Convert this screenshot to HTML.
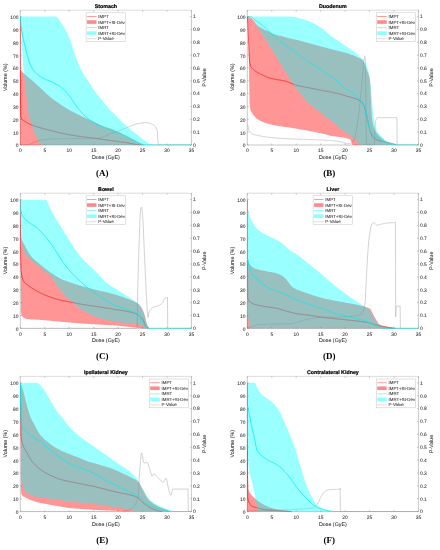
<!DOCTYPE html>
<html><head><meta charset="utf-8"><title>DVH comparison</title>
<style>html,body{margin:0;padding:0;background:#fff;}svg{display:block;}</style></head>
<body><svg width="440" height="550" viewBox="0 0 440 550" text-rendering="geometricPrecision">
<rect width="440" height="550" fill="#fff"/>
<path d="M20.30 10.20H191.45" stroke="#c6c6c6" stroke-width="0.6" fill="none"/><path d="M20.30 10.20V145.00H191.45V10.20" stroke="#a4a4a4" stroke-width="0.6" fill="none"/>
<path d="M20.30 145.00v-1.5M20.30 10.20v1.5M44.75 145.00v-1.5M44.75 10.20v1.5M69.20 145.00v-1.5M69.20 10.20v1.5M93.65 145.00v-1.5M93.65 10.20v1.5M118.10 145.00v-1.5M118.10 10.20v1.5M142.55 145.00v-1.5M142.55 10.20v1.5M167.00 145.00v-1.5M167.00 10.20v1.5M191.45 145.00v-1.5M191.45 10.20v1.5M20.30 145.00h1.5M191.45 145.00h-1.5M20.30 132.16h1.5M191.45 132.16h-1.5M20.30 119.32h1.5M191.45 119.32h-1.5M20.30 106.49h1.5M191.45 106.49h-1.5M20.30 93.65h1.5M191.45 93.65h-1.5M20.30 80.81h1.5M191.45 80.81h-1.5M20.30 67.97h1.5M191.45 67.97h-1.5M20.30 55.13h1.5M191.45 55.13h-1.5M20.30 42.30h1.5M191.45 42.30h-1.5M20.30 29.46h1.5M191.45 29.46h-1.5M20.30 16.62h1.5M191.45 16.62h-1.5" stroke="#909090" stroke-width="0.5" fill="none"/>
<clipPath id="c00"><rect x="19.95" y="9.85" width="171.85" height="135.50"/></clipPath>
<g clip-path="url(#c00)">
<polyline points="20.30,145.00 20.86,145.00 21.43,145.00 21.99,145.00 22.56,145.00 23.12,145.00 23.69,145.00 24.25,145.00 24.81,145.00 25.38,145.00 25.94,145.00 26.51,145.00 27.07,145.00 27.63,145.00 28.21,144.94 28.78,144.77 29.35,144.52 29.92,144.25 30.49,143.96 31.06,143.72 31.64,143.48 32.21,143.24 32.79,142.99 33.37,142.73 33.95,142.48 34.53,142.23 35.10,141.98 35.68,141.75 36.26,141.53 36.84,141.33 37.41,141.15 38.01,140.98 38.60,140.81 39.20,140.65 39.79,140.49 40.38,140.33 40.98,140.18 41.57,140.04 42.17,139.91 42.76,139.78 43.35,139.67 43.95,139.57 44.54,139.48 45.13,139.41 45.73,139.35 46.32,139.30 46.92,139.26 47.51,139.21 48.10,139.17 48.70,139.12 49.29,139.08 49.88,139.04 50.48,139.00 51.07,138.96 51.67,138.92 52.26,138.89 52.85,138.86 53.45,138.83 54.04,138.80 54.63,138.77 55.23,138.74 55.82,138.72 56.42,138.69 57.01,138.67 57.60,138.65 58.20,138.64 58.79,138.62 59.39,138.61 59.98,138.60 60.57,138.59 61.17,138.59 61.76,138.58 62.35,138.58 62.96,138.58 63.57,138.58 64.17,138.58 64.78,138.58 65.39,138.58 65.99,138.58 66.60,138.58 67.21,138.58 67.81,138.58 68.42,138.58 69.03,138.58 69.63,138.58 70.24,138.58 70.85,138.58 71.45,138.58 72.06,138.58 72.67,138.58 73.28,138.58 73.88,138.58 74.49,138.58 75.10,138.58 75.70,138.58 76.31,138.58 76.92,138.58 77.52,138.58 78.13,138.58 78.74,138.58 79.34,138.58 79.95,138.58 80.56,138.58 81.16,138.58 81.77,138.58 82.38,138.58 82.98,138.58 83.59,138.58 84.20,138.58 84.80,138.58 85.41,138.58 86.02,138.58 86.62,138.58 87.23,138.58 87.84,138.58 88.44,138.58 89.05,138.58 89.66,138.58 90.26,138.58 90.87,138.58 91.48,138.58 92.08,138.58 92.69,138.58 93.30,138.58 93.90,138.58 94.51,138.58 95.12,138.58 95.71,138.57 96.30,138.53 96.89,138.47 97.48,138.39 98.07,138.29 98.66,138.17 99.25,138.03 99.84,137.88 100.43,137.71 101.02,137.52 101.61,137.33 102.20,137.12 102.79,136.90 103.38,136.67 103.97,136.44 104.56,136.20 105.15,135.95 105.74,135.70 106.33,135.45 106.92,135.19 107.51,134.94 108.10,134.69 108.69,134.44 109.28,134.19 109.87,133.95 110.46,133.71 111.05,133.49 111.64,133.27 112.23,133.06 112.83,132.86 113.42,132.65 114.02,132.44 114.61,132.23 115.21,132.01 115.80,131.80 116.40,131.58 116.99,131.37 117.59,131.15 118.19,130.93 118.78,130.71 119.38,130.49 119.97,130.27 120.57,130.05 121.16,129.83 121.76,129.60 122.35,129.38 122.95,129.16 123.54,128.94 124.14,128.72 124.73,128.49 125.33,128.27 125.92,128.05 126.51,127.83 127.10,127.60 127.68,127.36 128.27,127.11 128.86,126.86 129.44,126.61 130.03,126.35 130.62,126.10 131.21,125.84 131.79,125.59 132.38,125.35 132.97,125.11 133.55,124.89 134.14,124.67 134.73,124.47 135.31,124.28 135.90,124.10 136.49,123.94 137.07,123.81 137.66,123.69 138.25,123.58 138.85,123.47 139.44,123.37 140.04,123.27 140.63,123.17 141.22,123.07 141.82,122.99 142.41,122.91 143.00,122.84 143.60,122.78 144.19,122.73 144.79,122.69 145.38,122.67 145.97,122.66 146.54,122.68 147.11,122.73 147.68,122.81 148.25,122.91 148.83,123.05 149.40,123.21 149.97,123.39 150.54,123.59 151.11,123.81 151.68,124.06 152.25,124.31 152.82,124.59 153.37,124.87 153.92,125.21 154.47,125.64 155.02,126.21 155.57,126.95 156.12,127.91 156.67,129.12 157.22,130.62 157.71,137.48 158.20,144.23 158.69,145.00 159.29,145.00 159.90,145.00 160.51,145.00 161.11,145.00 161.72,145.00 162.33,145.00 162.93,145.00 163.54,145.00 164.15,145.00 164.75,145.00 165.36,145.00 165.97,145.00 166.57,145.00 167.18,145.00 167.79,145.00 168.39,145.00 169.00,145.00 169.61,145.00 170.21,145.00 170.82,145.00 171.43,145.00 172.03,145.00 172.64,145.00 173.25,145.00 173.86,145.00 174.46,145.00 175.07,145.00 175.68,145.00 176.28,145.00 176.89,145.00 177.50,145.00 178.10,145.00 178.71,145.00 179.32,145.00 179.92,145.00 180.53,145.00 181.14,145.00 181.74,145.00 182.35,145.00 182.96,145.00 183.56,145.00 184.17,145.00 184.78,145.00 185.38,145.00 185.99,145.00 186.60,145.00 187.20,145.00 187.81,145.00 188.42,145.00 189.02,145.00 189.63,145.00 190.24,145.00 190.84,145.00 191.45,145.00" fill="none" stroke="#b4b4b4" stroke-width="0.6" stroke-opacity="1" stroke-linejoin="round"/>
<polyline points="20.30,16.62 20.45,93.65 20.89,116.76 21.42,118.12 21.96,119.12 22.50,119.82 23.04,120.30 23.58,120.64 24.11,120.90 24.65,121.17 25.19,121.51 25.79,121.93 26.39,122.33 26.98,122.70 27.58,123.04 28.18,123.35 28.78,123.65 29.37,123.93 29.97,124.20 30.57,124.46 31.17,124.71 31.78,124.95 32.39,125.19 32.99,125.41 33.60,125.63 34.20,125.84 34.81,126.05 35.41,126.25 36.02,126.45 36.62,126.64 37.23,126.83 37.83,127.01 38.44,127.19 39.05,127.37 39.65,127.54 40.26,127.71 40.86,127.88 41.47,128.06 42.07,128.23 42.68,128.40 43.28,128.57 43.89,128.74 44.49,128.91 45.10,129.07 45.70,129.23 46.31,129.39 46.92,129.55 47.52,129.71 48.13,129.87 48.73,130.02 49.34,130.17 49.94,130.32 50.55,130.47 51.15,130.62 51.76,130.77 52.36,130.91 52.97,131.06 53.58,131.20 54.18,131.35 54.79,131.49 55.39,131.63 56.00,131.78 56.60,131.92 57.21,132.06 57.81,132.21 58.42,132.35 59.02,132.49 59.63,132.64 60.23,132.78 60.84,132.92 61.45,133.06 62.05,133.20 62.66,133.34 63.26,133.47 63.87,133.61 64.47,133.74 65.08,133.87 65.68,134.00 66.29,134.12 66.89,134.25 67.50,134.37 68.11,134.49 68.71,134.60 69.32,134.71 69.92,134.82 70.53,134.93 71.13,135.04 71.74,135.15 72.34,135.25 72.95,135.35 73.55,135.46 74.16,135.56 74.77,135.66 75.37,135.75 75.98,135.85 76.58,135.94 77.19,136.04 77.79,136.13 78.40,136.22 79.00,136.31 79.61,136.40 80.21,136.48 80.82,136.57 81.42,136.66 82.02,136.74 82.62,136.82 83.21,136.89 83.81,136.97 84.40,137.04 85.00,137.12 85.59,137.19 86.19,137.26 86.78,137.33 87.38,137.40 87.97,137.47 88.57,137.54 89.16,137.61 89.76,137.68 90.35,137.74 90.95,137.81 91.55,137.88 92.14,137.95 92.74,138.03 93.33,138.10 93.93,138.17 94.52,138.25 95.12,138.32 95.71,138.40 96.30,138.48 96.89,138.56 97.48,138.64 98.07,138.72 98.66,138.80 99.25,138.89 99.84,138.97 100.43,139.05 101.02,139.14 101.61,139.22 102.20,139.31 102.79,139.39 103.38,139.48 103.97,139.57 104.56,139.65 105.15,139.74 105.74,139.83 106.33,139.91 106.92,140.00 107.51,140.08 108.10,140.17 108.69,140.26 109.28,140.34 109.87,140.43 110.46,140.51 111.05,140.60 111.64,140.68 112.23,140.76 112.83,140.85 113.42,140.93 114.01,141.01 114.61,141.09 115.20,141.17 115.79,141.25 116.39,141.33 116.98,141.41 117.58,141.49 118.17,141.57 118.76,141.65 119.36,141.73 119.95,141.81 120.54,141.89 121.14,141.97 121.73,142.05 122.33,142.13 122.92,142.21 123.51,142.29 124.11,142.37 124.70,142.46 125.30,142.54 125.89,142.63 126.48,142.71 127.08,142.80 127.67,142.89 128.26,142.98 128.86,143.07 129.44,143.17 130.03,143.27 130.62,143.38 131.21,143.49 131.79,143.61 132.38,143.73 132.97,143.84 133.55,143.96 134.14,144.07 134.73,144.18 135.31,144.28 135.90,144.38 136.49,144.47 137.07,144.55 137.66,144.61 138.20,144.67 138.75,144.72 139.29,144.77 139.83,144.82 140.38,144.87 140.92,144.91 141.46,144.94 142.01,144.97 142.55,145.00" fill="none" stroke="#f5404f" stroke-width="0.85" stroke-opacity="1" stroke-linejoin="round"/>
<polygon points="19.86,69.90 20.30,69.90 20.90,70.49 21.50,71.08 22.09,71.66 22.69,72.24 23.29,72.81 23.89,73.38 24.48,73.94 25.08,74.49 25.68,75.03 26.27,75.56 26.87,76.08 27.46,76.59 28.05,77.10 28.65,77.59 29.24,78.09 29.84,78.58 30.43,79.07 31.02,79.56 31.62,80.06 32.21,80.56 32.80,81.06 33.40,81.57 33.99,82.09 34.59,82.62 35.18,83.16 35.77,83.70 36.37,84.25 36.96,84.80 37.55,85.35 38.15,85.91 38.74,86.46 39.34,87.02 39.93,87.58 40.52,88.14 41.12,88.69 41.71,89.25 42.30,89.80 42.90,90.35 43.49,90.90 44.08,91.46 44.67,92.03 45.26,92.59 45.85,93.15 46.44,93.71 47.03,94.26 47.62,94.81 48.21,95.34 48.80,95.86 49.39,96.37 49.98,96.86 50.55,97.31 51.12,97.76 51.69,98.19 52.26,98.62 52.83,99.04 53.40,99.45 53.97,99.86 54.54,100.26 55.11,100.66 55.68,101.06 56.24,101.45 56.81,101.85 57.38,102.24 57.95,102.63 58.53,103.04 59.11,103.44 59.68,103.84 60.26,104.24 60.83,104.64 61.41,105.03 61.99,105.43 62.56,105.82 63.14,106.20 63.72,106.58 64.29,106.95 64.87,107.32 65.45,107.68 66.02,108.03 66.62,108.38 67.22,108.73 67.82,109.08 68.42,109.42 69.02,109.76 69.62,110.09 70.21,110.42 70.81,110.74 71.41,111.06 72.01,111.38 72.61,111.69 73.21,112.01 73.81,112.32 74.41,112.62 75.01,112.93 75.61,113.23 76.20,113.54 76.80,113.84 77.40,114.14 78.00,114.45 78.60,114.74 79.19,115.04 79.78,115.33 80.38,115.62 80.97,115.91 81.56,116.20 82.16,116.48 82.75,116.76 83.35,117.04 83.94,117.32 84.53,117.60 85.13,117.88 85.72,118.15 86.31,118.43 86.92,118.70 87.52,118.97 88.12,119.24 88.72,119.50 89.32,119.77 89.93,120.03 90.53,120.29 91.13,120.56 91.73,120.82 92.33,121.08 92.94,121.35 93.54,121.62 94.14,121.89 94.72,122.16 95.30,122.43 95.88,122.71 96.46,123.00 97.04,123.29 97.62,123.57 98.20,123.86 98.78,124.15 99.37,124.43 99.95,124.72 100.53,124.99 101.11,125.26 101.69,125.53 102.27,125.78 102.85,126.02 103.43,126.26 104.02,126.48 104.60,126.69 105.19,126.90 105.78,127.09 106.36,127.28 106.95,127.47 107.54,127.66 108.12,127.84 108.71,128.02 109.30,128.21 109.88,128.39 110.47,128.59 111.06,128.79 111.65,128.99 112.23,129.21 112.83,129.44 113.42,129.67 114.01,129.91 114.61,130.15 115.20,130.39 115.79,130.64 116.39,130.90 116.98,131.16 117.58,131.42 118.17,131.69 118.76,131.96 119.36,132.24 119.95,132.52 120.54,132.80 121.14,133.09 121.73,133.40 122.33,133.71 122.92,134.02 123.51,134.35 124.11,134.68 124.70,135.01 125.30,135.34 125.89,135.67 126.48,136.01 127.08,136.34 127.67,136.66 128.26,136.98 128.86,137.30 129.43,137.59 130.00,137.89 130.57,138.18 131.14,138.46 131.71,138.75 132.28,139.04 132.85,139.32 133.42,139.61 133.99,139.89 134.56,140.18 135.13,140.47 135.70,140.76 136.27,141.07 136.84,141.39 137.42,141.71 137.99,142.05 138.56,142.39 139.13,142.72 139.70,143.04 140.27,143.35 140.84,143.64 141.41,143.91 141.98,144.15 142.55,144.36 143.04,144.53 143.53,144.70 144.02,144.85 144.51,144.96 145.00,145.00 145.60,145.00 146.20,145.00 146.80,145.00 147.41,145.00 148.01,145.00 148.61,145.00 149.22,145.00 149.82,145.00 150.42,145.00 151.03,145.00 151.63,145.00 152.23,145.00 152.84,145.00 153.44,145.00 154.04,145.00 154.65,145.00 155.25,145.00 155.85,145.00 156.46,145.00 157.06,145.00 157.66,145.00 158.27,145.00 158.87,145.00 159.47,145.00 160.08,145.00 160.68,145.00 161.28,145.00 161.89,145.00 162.49,145.00 163.09,145.00 163.70,145.00 164.30,145.00 164.90,145.00 165.51,145.00 166.11,145.00 166.71,145.00 167.32,145.00 167.92,145.00 168.52,145.00 169.13,145.00 169.73,145.00 170.33,145.00 170.94,145.00 171.54,145.00 172.14,145.00 172.75,145.00 173.35,145.00 173.95,145.00 174.56,145.00 175.16,145.00 175.76,145.00 176.37,145.00 176.97,145.00 177.57,145.00 178.18,145.00 178.78,145.00 179.38,145.00 179.99,145.00 180.59,145.00 181.19,145.00 181.80,145.00 182.40,145.00 183.00,145.00 183.61,145.00 184.21,145.00 184.81,145.00 185.42,145.00 186.02,145.00 186.62,145.00 187.23,145.00 187.83,145.00 188.43,145.00 189.04,145.00 189.64,145.00 190.24,145.00 190.85,145.00 191.45,145.00 191.45,145.00 20.30,145.00 19.86,145.00" fill="#ff0000" fill-opacity="0.416"/>
<polyline points="20.30,16.62 20.79,22.20 21.28,27.18 21.77,31.13 22.30,34.34 22.82,37.04 23.35,39.40 23.88,41.60 24.41,43.84 24.95,46.17 25.48,48.44 26.02,50.65 26.56,52.77 27.10,54.78 27.63,56.67 28.22,58.67 28.81,60.62 29.40,62.44 29.98,64.06 30.57,65.40 31.17,66.56 31.76,67.63 32.36,68.61 32.96,69.53 33.56,70.37 34.16,71.14 34.75,71.86 35.35,72.51 35.95,73.11 36.51,73.63 37.08,74.13 37.64,74.60 38.20,75.04 38.77,75.46 39.33,75.86 39.90,76.24 40.46,76.61 41.03,76.95 41.59,77.29 42.15,77.62 42.72,77.93 43.28,78.24 43.88,78.56 44.49,78.86 45.09,79.14 45.69,79.41 46.29,79.66 46.89,79.91 47.50,80.16 48.10,80.40 48.70,80.65 49.30,80.90 49.90,81.16 50.51,81.43 51.11,81.71 51.67,81.98 52.24,82.25 52.80,82.52 53.36,82.79 53.93,83.07 54.49,83.35 55.06,83.64 55.62,83.93 56.19,84.24 56.75,84.55 57.31,84.87 57.88,85.21 58.44,85.56 59.02,85.93 59.60,86.32 60.18,86.73 60.75,87.15 61.33,87.58 61.91,88.04 62.49,88.51 63.07,88.99 63.64,89.50 64.22,90.02 64.80,90.57 65.38,91.14 65.95,91.75 66.53,92.39 67.11,93.06 67.69,93.76 68.27,94.48 68.84,95.22 69.42,95.97 70.00,96.73 70.58,97.50 71.16,98.27 71.73,99.05 72.30,99.88 72.87,100.73 73.44,101.61 74.01,102.51 74.58,103.41 75.15,104.30 75.72,105.19 76.29,106.05 76.86,106.88 77.43,107.67 78.00,108.41 78.59,109.14 79.18,109.85 79.76,110.54 80.35,111.21 80.94,111.86 81.52,112.50 82.11,113.11 82.70,113.70 83.28,114.28 83.87,114.83 84.47,115.38 85.07,115.92 85.66,116.45 86.26,116.98 86.86,117.50 87.46,118.01 88.05,118.50 88.65,118.99 89.25,119.47 89.85,119.94 90.44,120.39 91.04,120.83 91.64,121.26 92.24,121.67 92.83,122.07 93.43,122.45 94.03,122.82 94.63,123.18 95.23,123.51 95.82,123.82 96.42,124.12 97.02,124.40 97.62,124.68 98.21,124.95 98.81,125.21 99.41,125.48 100.01,125.74 100.59,126.00 101.17,126.26 101.75,126.52 102.34,126.77 102.92,127.03 103.50,127.28 104.08,127.52 104.66,127.77 105.25,128.02 105.83,128.26 106.41,128.50 106.99,128.74 107.57,128.98 108.16,129.22 108.74,129.46 109.32,129.70 109.90,129.94 110.49,130.17 111.07,130.41 111.65,130.64 112.23,130.88 112.83,131.12 113.43,131.35 114.03,131.58 114.63,131.81 115.23,132.04 115.83,132.26 116.43,132.48 117.03,132.70 117.63,132.92 118.23,133.14 118.83,133.36 119.43,133.58 120.03,133.80 120.63,134.03 121.23,134.26 121.83,134.49 122.43,134.73 123.03,134.98 123.63,135.22 124.23,135.48 124.83,135.74 125.43,136.01 125.98,136.27 126.52,136.54 127.06,136.82 127.61,137.11 128.15,137.40 128.69,137.70 129.24,138.00 129.78,138.29 130.32,138.58 130.89,138.88 131.45,139.19 132.02,139.50 132.58,139.82 133.15,140.13 133.71,140.45 134.27,140.76 134.84,141.06 135.40,141.36 135.97,141.65 136.53,141.92 137.10,142.19 137.66,142.43 138.22,142.68 138.79,142.94 139.35,143.20 139.92,143.47 140.48,143.73 141.05,143.98 141.61,144.22 142.17,144.43 142.74,144.62 143.30,144.78 143.87,144.90 144.43,144.97 145.00,145.00 145.60,145.00 146.20,145.00 146.80,145.00 147.41,145.00 148.01,145.00 148.61,145.00 149.22,145.00 149.82,145.00 150.42,145.00 151.03,145.00 151.63,145.00 152.23,145.00 152.84,145.00 153.44,145.00 154.04,145.00 154.65,145.00 155.25,145.00 155.85,145.00 156.46,145.00 157.06,145.00 157.66,145.00 158.27,145.00 158.87,145.00 159.47,145.00 160.08,145.00 160.68,145.00 161.28,145.00 161.89,145.00 162.49,145.00 163.09,145.00 163.70,145.00 164.30,145.00 164.90,145.00 165.51,145.00 166.11,145.00 166.71,145.00 167.32,145.00 167.92,145.00 168.52,145.00 169.13,145.00 169.73,145.00 170.33,145.00 170.94,145.00 171.54,145.00 172.14,145.00 172.75,145.00 173.35,145.00 173.95,145.00 174.56,145.00 175.16,145.00 175.76,145.00 176.37,145.00 176.97,145.00 177.57,145.00 178.18,145.00 178.78,145.00 179.38,145.00 179.99,145.00 180.59,145.00 181.19,145.00 181.80,145.00 182.40,145.00 183.00,145.00 183.61,145.00 184.21,145.00 184.81,145.00 185.42,145.00 186.02,145.00 186.62,145.00 187.23,145.00 187.83,145.00 188.43,145.00 189.04,145.00 189.64,145.00 190.24,145.00 190.85,145.00 191.45,145.00" fill="none" stroke="#00e8e8" stroke-width="0.8" stroke-opacity="1" stroke-linejoin="round"/>
<polygon points="19.86,16.62 20.30,16.62 20.91,16.62 21.51,16.62 22.12,16.62 22.73,16.62 23.34,16.62 23.94,16.62 24.55,16.62 25.16,16.62 25.76,16.62 26.37,16.62 26.98,16.62 27.58,16.62 28.19,16.62 28.80,16.62 29.41,16.62 30.01,16.62 30.62,16.62 31.23,16.62 31.83,16.62 32.44,16.62 33.05,16.62 33.65,16.62 34.26,16.62 34.87,16.62 35.48,16.62 36.08,16.62 36.69,16.62 37.30,16.62 37.90,16.62 38.51,16.62 39.12,16.62 39.73,16.62 40.33,16.62 40.94,16.62 41.55,16.62 42.15,16.62 42.76,16.62 43.37,16.62 43.97,16.62 44.58,16.62 45.19,16.62 45.80,16.62 46.40,16.62 47.01,16.62 47.62,16.62 48.22,16.62 48.83,16.62 49.44,16.62 50.04,16.62 50.65,16.62 51.26,16.62 51.87,16.62 52.47,16.62 53.08,16.62 53.69,16.62 54.29,16.62 54.90,16.62 55.51,16.62 56.11,16.74 56.70,17.08 57.30,17.60 57.90,18.26 58.50,19.02 59.09,19.86 59.69,20.72 60.29,21.58 60.89,22.40 61.48,23.21 62.08,24.08 62.68,25.01 63.28,25.98 63.88,27.00 64.47,28.05 65.07,29.14 65.67,30.25 66.27,31.38 66.82,32.47 67.38,33.59 67.94,34.75 68.50,35.97 69.06,37.24 69.62,38.58 70.18,39.98 70.67,41.33 71.16,42.81 71.64,44.36 72.13,45.92 72.62,47.43 73.18,49.12 73.74,50.83 74.30,52.54 74.86,54.23 75.42,55.88 75.98,57.47 76.53,58.98 77.08,60.41 77.62,61.82 78.17,63.21 78.71,64.56 79.25,65.87 79.79,67.14 80.34,68.34 80.88,69.48 81.42,70.54 82.03,71.63 82.63,72.66 83.23,73.63 83.83,74.55 84.43,75.44 85.03,76.31 85.63,77.17 86.23,78.02 86.83,78.88 87.43,79.77 88.03,80.68 88.63,81.63 89.23,82.59 89.83,83.57 90.43,84.55 91.03,85.53 91.63,86.51 92.23,87.48 92.83,88.42 93.43,89.34 94.03,90.23 94.63,91.08 95.19,91.85 95.76,92.59 96.32,93.31 96.88,94.01 97.45,94.69 98.01,95.37 98.58,96.04 99.14,96.70 99.71,97.36 100.27,98.02 100.83,98.70 101.40,99.37 101.96,100.07 102.57,100.83 103.17,101.60 103.78,102.38 104.38,103.17 104.99,103.96 105.59,104.74 106.20,105.51 106.80,106.27 107.40,107.01 108.01,107.73 108.61,108.41 109.19,109.04 109.76,109.64 110.34,110.22 110.91,110.79 111.49,111.35 112.06,111.90 112.64,112.45 113.21,112.99 113.78,113.54 114.36,114.09 114.93,114.65 115.51,115.22 116.07,115.79 116.64,116.37 117.21,116.96 117.77,117.55 118.34,118.14 118.91,118.73 119.47,119.32 120.04,119.90 120.61,120.48 121.17,121.05 121.74,121.60 122.31,122.15 122.87,122.68 123.44,123.21 124.00,123.73 124.57,124.24 125.14,124.75 125.70,125.25 126.27,125.75 126.84,126.24 127.40,126.73 127.97,127.22 128.54,127.70 129.10,128.18 129.67,128.66 130.24,129.13 130.80,129.60 131.37,130.06 131.93,130.52 132.50,130.98 133.07,131.44 133.63,131.89 134.20,132.34 134.77,132.80 135.33,133.25 135.90,133.70 136.47,134.16 137.03,134.62 137.60,135.08 138.17,135.54 138.73,136.00 139.30,136.45 139.86,136.91 140.43,137.36 141.00,137.80 141.56,138.24 142.13,138.67 142.70,139.09 143.27,139.53 143.85,139.97 144.42,140.42 145.00,140.87 145.57,141.31 146.14,141.75 146.72,142.17 147.29,142.57 147.87,142.94 148.44,143.28 149.02,143.58 149.59,143.84 150.12,144.07 150.65,144.30 151.18,144.51 151.72,144.71 152.25,144.86 152.78,144.96 153.31,145.00 153.91,145.00 154.52,145.00 155.12,145.00 155.73,145.00 156.34,145.00 156.94,145.00 157.55,145.00 158.15,145.00 158.76,145.00 159.36,145.00 159.97,145.00 160.57,145.00 161.18,145.00 161.78,145.00 162.39,145.00 162.99,145.00 163.60,145.00 164.21,145.00 164.81,145.00 165.42,145.00 166.02,145.00 166.63,145.00 167.23,145.00 167.84,145.00 168.44,145.00 169.05,145.00 169.65,145.00 170.26,145.00 170.87,145.00 171.47,145.00 172.08,145.00 172.68,145.00 173.29,145.00 173.89,145.00 174.50,145.00 175.10,145.00 175.71,145.00 176.31,145.00 176.92,145.00 177.53,145.00 178.13,145.00 178.74,145.00 179.34,145.00 179.95,145.00 180.55,145.00 181.16,145.00 181.76,145.00 182.37,145.00 182.97,145.00 183.58,145.00 184.18,145.00 184.79,145.00 185.40,145.00 186.00,145.00 186.61,145.00 187.21,145.00 187.82,145.00 188.42,145.00 189.03,145.00 189.63,145.00 190.24,145.00 190.84,145.00 191.45,145.00 191.45,145.00 190.84,145.00 190.23,145.00 189.62,145.00 189.01,145.00 188.40,145.00 187.79,145.00 187.19,145.00 186.58,145.00 185.97,145.00 185.36,145.00 184.75,145.00 184.14,145.00 183.53,145.00 182.92,145.00 182.31,145.00 181.70,145.00 181.09,145.00 180.48,145.00 179.87,145.00 179.27,145.00 178.66,145.00 178.05,145.00 177.44,145.00 176.83,145.00 176.22,145.00 175.61,145.00 175.00,145.00 174.39,145.00 173.78,145.00 173.17,145.00 172.56,145.00 171.95,145.00 171.34,145.00 170.74,145.00 170.13,145.00 169.52,145.00 168.91,145.00 168.30,145.00 167.69,145.00 167.08,145.00 166.47,145.00 165.86,145.00 165.25,145.00 164.64,145.00 164.03,145.00 163.42,145.00 162.82,145.00 162.21,145.00 161.60,145.00 160.99,145.00 160.38,145.00 159.77,145.00 159.16,145.00 158.55,145.00 157.94,145.00 157.33,145.00 156.72,145.00 156.11,145.00 155.50,145.00 154.90,145.00 154.29,145.00 153.68,145.00 153.07,145.00 152.46,145.00 151.85,145.00 151.24,145.00 150.63,145.00 150.02,145.00 149.41,145.00 148.80,145.00 148.19,145.00 147.58,145.00 146.98,145.00 146.37,145.00 145.76,145.00 145.15,145.00 144.54,145.00 143.93,145.00 143.32,145.00 142.71,145.00 142.10,145.00 141.49,145.00 140.88,145.00 140.27,145.00 139.66,145.00 139.05,145.00 138.45,145.00 137.84,145.00 137.23,145.00 136.62,145.00 136.01,145.00 135.40,145.00 134.79,145.00 134.18,145.00 133.57,145.00 132.96,145.00 132.35,145.00 131.74,145.00 131.13,145.00 130.53,145.00 129.92,145.00 129.31,145.00 128.70,145.00 128.09,145.00 127.48,145.00 126.87,145.00 126.26,145.00 125.65,145.00 125.04,145.00 124.43,145.00 123.82,145.00 123.21,145.00 122.61,145.00 122.00,145.00 121.39,145.00 120.78,145.00 120.17,145.00 119.56,145.00 118.95,145.00 118.34,145.00 117.73,145.00 117.12,145.00 116.51,145.00 115.90,145.00 115.29,145.00 114.69,145.00 114.08,145.00 113.47,145.00 112.86,145.00 112.25,145.00 111.64,145.00 111.03,145.00 110.42,145.00 109.81,145.00 109.20,145.00 108.59,145.00 107.98,145.00 107.37,145.00 106.76,145.00 106.16,145.00 105.55,145.00 104.94,145.00 104.33,145.00 103.72,145.00 103.11,145.00 102.50,145.00 101.89,145.00 101.28,145.00 100.67,145.00 100.06,145.00 99.45,145.00 98.84,145.00 98.24,145.00 97.63,145.00 97.02,145.00 96.41,145.00 95.80,145.00 95.19,145.00 94.58,145.00 93.97,145.00 93.36,145.00 92.75,145.00 92.14,145.00 91.53,145.00 90.92,145.00 90.32,145.00 89.71,145.00 89.10,145.00 88.49,145.00 87.88,145.00 87.27,145.00 86.66,145.00 86.05,145.00 85.44,145.00 84.83,145.00 84.22,145.00 83.61,145.00 83.00,145.00 82.39,145.00 81.79,145.00 81.18,145.00 80.57,145.00 79.96,145.00 79.35,145.00 78.74,145.00 78.13,145.00 77.52,145.00 76.91,145.00 76.30,145.00 75.69,145.00 75.08,145.00 74.47,145.00 73.87,145.00 73.26,145.00 72.65,145.00 72.04,145.00 71.43,145.00 70.82,145.00 70.21,145.00 69.60,145.00 68.99,145.00 68.38,145.00 67.77,145.00 67.16,145.00 66.55,145.00 65.95,145.00 65.34,145.00 64.73,145.00 64.12,145.00 63.51,145.00 62.90,145.00 62.29,145.00 61.68,145.00 61.07,145.00 60.46,145.00 59.85,145.00 59.24,145.00 58.63,145.00 58.03,145.00 57.42,145.00 56.81,145.00 56.20,145.00 55.59,145.00 54.98,145.00 54.37,145.00 53.76,145.00 53.15,145.00 52.54,145.00 51.93,145.00 51.32,145.00 50.71,145.00 50.10,145.00 49.50,145.00 48.89,145.00 48.28,145.00 47.67,145.00 47.06,145.00 46.45,145.00 45.84,145.00 45.23,145.00 44.62,145.00 44.01,145.00 43.40,145.00 42.79,145.00 42.40,144.92 42.01,144.74 41.41,144.37 40.81,143.83 40.21,143.14 39.62,142.33 39.02,141.43 38.42,140.46 37.82,139.46 37.22,138.45 36.61,137.38 36.01,136.19 35.40,134.90 34.80,133.52 34.19,132.04 33.59,130.49 32.98,128.86 32.38,127.16 31.81,125.54 31.25,123.88 30.68,122.11 30.11,120.18 29.55,118.02 28.98,115.58 28.42,112.78 27.82,108.71 27.22,103.36 26.62,97.53 26.02,91.98 25.41,87.02 24.80,82.28 24.19,77.19 23.58,71.18 23.05,65.32 22.53,58.25 22.01,48.71 21.64,34.96 21.28,23.04 20.79,18.43 20.30,17.16 19.86,17.16" fill="#00ffff" fill-opacity="0.4"/>
</g>
<g font-family="'Liberation Sans', Arial, Helvetica, sans-serif" font-size="4.9" fill="#262626" stroke="#262626" stroke-width="0.04">
<text x="20.30" y="152.20" text-anchor="middle">0</text>
<text x="44.75" y="152.20" text-anchor="middle">5</text>
<text x="69.20" y="152.20" text-anchor="middle">10</text>
<text x="93.65" y="152.20" text-anchor="middle">15</text>
<text x="118.10" y="152.20" text-anchor="middle">20</text>
<text x="142.55" y="152.20" text-anchor="middle">25</text>
<text x="167.00" y="152.20" text-anchor="middle">30</text>
<text x="191.45" y="152.20" text-anchor="middle">35</text>
<text x="18.50" y="147.40" text-anchor="end">0</text>
<text x="18.50" y="134.56" text-anchor="end">10</text>
<text x="18.50" y="121.72" text-anchor="end">20</text>
<text x="18.50" y="108.89" text-anchor="end">30</text>
<text x="18.50" y="96.05" text-anchor="end">40</text>
<text x="18.50" y="83.21" text-anchor="end">50</text>
<text x="18.50" y="70.37" text-anchor="end">60</text>
<text x="18.50" y="57.53" text-anchor="end">70</text>
<text x="18.50" y="44.70" text-anchor="end">80</text>
<text x="18.50" y="31.86" text-anchor="end">90</text>
<text x="18.50" y="19.02" text-anchor="end">100</text>
<text x="192.95" y="146.80">0</text>
<text x="192.95" y="133.96">0.1</text>
<text x="192.95" y="121.12">0.2</text>
<text x="192.95" y="108.29">0.3</text>
<text x="192.95" y="95.45">0.4</text>
<text x="192.95" y="82.61">0.5</text>
<text x="192.95" y="69.77">0.6</text>
<text x="192.95" y="56.93">0.7</text>
<text x="192.95" y="44.10">0.8</text>
<text x="192.95" y="31.26">0.9</text>
<text x="192.95" y="18.42">1</text>
</g>
<text font-family="'Liberation Sans', Arial, Helvetica, sans-serif" font-size="5.3" fill="#262626" stroke="#262626" stroke-width="0.05" x="105.88" y="158.90" text-anchor="middle">Dose (GyE)</text>
<text font-family="'Liberation Sans', Arial, Helvetica, sans-serif" font-size="5.3" fill="#262626" stroke="#262626" stroke-width="0.05" text-anchor="middle" transform="translate(6.90,77.30) rotate(-90)">Volume (%)</text>
<text font-family="'Liberation Sans', Arial, Helvetica, sans-serif" font-size="5.3" fill="#262626" stroke="#262626" stroke-width="0.05" text-anchor="middle" transform="translate(206.25,77.60) rotate(-90)">P-Value</text>
<text font-family="'Liberation Sans', Arial, Helvetica, sans-serif" font-size="5.3" font-weight="bold" fill="#000" stroke="#000" stroke-width="0.2" x="105.88" y="8.00" text-anchor="middle">Stomach</text>
<text font-family="'Liberation Serif', 'Times New Roman', serif" font-size="9" font-weight="bold" fill="#000" x="102.17" y="175.90" text-anchor="middle">(A)</text>
<rect x="86.12" y="12.80" width="39.2" height="28.8" fill="#fff" stroke="#c4c4c4" stroke-width="0.5"/>
<line x1="87.03" x2="96.53" y1="16.50" y2="16.50" stroke="#ff5a5a" stroke-width="0.6"/>
<rect x="87.03" y="20.25" width="9.50" height="3.6" fill="#f00" fill-opacity="0.46599999999999997"/>
<line x1="87.03" x2="96.53" y1="27.60" y2="27.60" stroke="#40f0f0" stroke-width="0.6"/>
<rect x="87.03" y="31.35" width="9.50" height="3.6" fill="#0ff" fill-opacity="0.45"/>
<line x1="87.03" x2="96.53" y1="38.70" y2="38.70" stroke="#bbb" stroke-width="0.5"/>
<g font-family="'Liberation Sans', Arial, Helvetica, sans-serif" font-size="4.4" fill="#262626" stroke="#262626" stroke-width="0.04">
<text x="98.33" y="18.05">IMPT</text>
<text x="98.33" y="23.60">IMPT+St-Dev</text>
<text x="98.33" y="29.15">IMRT</text>
<text x="98.33" y="34.70">IMRT+St-Dev</text>
<text x="98.33" y="40.25">P-Value</text>
</g>
<path d="M247.30 10.20H418.45" stroke="#c6c6c6" stroke-width="0.6" fill="none"/><path d="M247.30 10.20V145.00H418.45V10.20" stroke="#a4a4a4" stroke-width="0.6" fill="none"/>
<path d="M247.30 145.00v-1.5M247.30 10.20v1.5M271.75 145.00v-1.5M271.75 10.20v1.5M296.20 145.00v-1.5M296.20 10.20v1.5M320.65 145.00v-1.5M320.65 10.20v1.5M345.10 145.00v-1.5M345.10 10.20v1.5M369.55 145.00v-1.5M369.55 10.20v1.5M394.00 145.00v-1.5M394.00 10.20v1.5M418.45 145.00v-1.5M418.45 10.20v1.5M247.30 145.00h1.5M418.45 145.00h-1.5M247.30 132.16h1.5M418.45 132.16h-1.5M247.30 119.32h1.5M418.45 119.32h-1.5M247.30 106.49h1.5M418.45 106.49h-1.5M247.30 93.65h1.5M418.45 93.65h-1.5M247.30 80.81h1.5M418.45 80.81h-1.5M247.30 67.97h1.5M418.45 67.97h-1.5M247.30 55.13h1.5M418.45 55.13h-1.5M247.30 42.30h1.5M418.45 42.30h-1.5M247.30 29.46h1.5M418.45 29.46h-1.5M247.30 16.62h1.5M418.45 16.62h-1.5" stroke="#909090" stroke-width="0.5" fill="none"/>
<clipPath id="c10"><rect x="246.95" y="9.85" width="171.85" height="135.50"/></clipPath>
<g clip-path="url(#c10)">
<polyline points="247.30,124.46 247.79,124.84 248.28,127.40 248.77,130.11 249.33,131.08 249.88,131.87 250.44,132.49 251.00,132.99 251.56,133.38 252.12,133.69 252.68,133.96 253.28,134.22 253.87,134.44 254.47,134.64 255.07,134.81 255.67,134.97 256.26,135.11 256.86,135.25 257.46,135.37 258.06,135.50 258.66,135.62 259.26,135.75 259.86,135.86 260.46,135.98 261.06,136.09 261.66,136.20 262.26,136.31 262.86,136.41 263.46,136.51 264.06,136.61 264.66,136.71 265.26,136.80 265.86,136.89 266.46,136.97 267.06,137.06 267.66,137.14 268.26,137.21 268.86,137.29 269.46,137.36 270.06,137.43 270.66,137.49 271.26,137.55 271.86,137.61 272.45,137.67 273.05,137.73 273.64,137.78 274.24,137.84 274.83,137.89 275.43,137.94 276.02,137.99 276.62,138.04 277.21,138.09 277.81,138.13 278.40,138.18 279.00,138.22 279.60,138.26 280.19,138.30 280.79,138.34 281.38,138.38 281.98,138.41 282.57,138.45 283.17,138.48 283.76,138.52 284.36,138.55 284.95,138.58 285.55,138.61 286.15,138.64 286.75,138.67 287.35,138.69 287.95,138.72 288.55,138.74 289.15,138.77 289.75,138.79 290.35,138.81 290.95,138.83 291.55,138.85 292.15,138.88 292.75,138.90 293.35,138.92 293.96,138.94 294.56,138.96 295.16,138.98 295.76,139.00 296.36,139.02 296.96,139.05 297.56,139.07 298.16,139.09 298.77,139.12 299.38,139.14 299.99,139.17 300.60,139.19 301.21,139.21 301.82,139.24 302.43,139.26 303.05,139.28 303.66,139.31 304.27,139.33 304.88,139.35 305.49,139.37 306.10,139.39 306.71,139.41 307.32,139.44 307.94,139.46 308.55,139.48 309.16,139.50 309.77,139.52 310.38,139.54 310.99,139.57 311.60,139.59 312.21,139.61 312.83,139.63 313.44,139.66 314.05,139.68 314.66,139.70 315.27,139.73 315.88,139.75 316.49,139.78 317.10,139.80 317.72,139.83 318.33,139.86 318.94,139.88 319.55,139.91 320.16,139.94 320.77,139.97 321.38,140.00 321.99,140.03 322.61,140.06 323.22,140.09 323.83,140.12 324.44,140.16 325.05,140.19 325.66,140.23 326.27,140.27 326.88,140.30 327.50,140.34 328.11,140.38 328.72,140.42 329.33,140.46 329.94,140.51 330.55,140.55 331.15,140.60 331.75,140.65 332.36,140.71 332.96,140.77 333.57,140.84 334.17,140.91 334.77,140.98 335.38,141.06 335.98,141.14 336.59,141.22 337.19,141.31 337.79,141.40 338.40,141.49 339.00,141.59 339.61,141.69 340.21,141.79 340.77,141.91 341.34,142.05 341.90,142.22 342.47,142.41 343.03,142.61 343.60,142.81 344.16,143.01 344.72,143.20 345.29,143.36 345.85,143.51 346.42,143.62 346.98,143.69 347.55,143.72 348.12,143.69 348.69,143.63 349.26,143.53 349.83,143.40 350.40,143.25 350.97,143.07 351.46,142.88 351.95,142.58 352.44,142.20 352.92,141.72 353.41,141.15 354.00,140.02 354.59,138.24 355.17,135.96 355.76,133.32 356.35,130.49 356.84,127.74 357.32,124.38 357.81,120.62 358.30,116.65 358.79,112.65 359.38,107.80 359.97,102.73 360.55,97.42 361.14,91.83 361.73,85.94 362.28,79.32 362.83,71.80 363.38,64.93 363.93,60.27 364.42,57.67 364.90,56.42 365.39,61.55 365.64,80.81 365.88,106.49 366.13,132.16 366.62,143.72 367.11,145.00 367.67,145.00 368.23,145.00 368.80,145.00 369.36,145.00 369.93,145.00 370.49,145.00 371.05,145.00 371.62,145.00 372.18,145.00 372.75,145.00 373.31,145.00 373.88,145.00 374.44,145.00 374.93,125.74 375.42,121.75 375.91,119.97 376.40,119.02 376.88,118.29 377.37,117.82 377.86,117.65 378.46,117.65 379.05,117.65 379.65,117.65 380.25,117.65 380.84,117.65 381.44,117.65 382.03,117.65 382.63,117.65 383.23,117.65 383.82,117.65 384.42,117.65 385.01,117.65 385.61,117.65 386.21,117.65 386.80,117.65 387.40,117.65 387.99,117.65 388.59,117.65 389.19,117.65 389.78,117.65 390.38,117.65 390.97,117.65 391.57,117.65 392.17,117.65 392.76,117.65 393.36,117.65 393.95,117.65 394.55,117.65 395.15,117.65 395.74,117.65 396.34,117.65 396.93,117.65 397.18,145.00 397.79,145.00 398.39,145.00 399.00,145.00 399.61,145.00 400.22,145.00 400.83,145.00 401.43,145.00 402.04,145.00 402.65,145.00 403.26,145.00 403.86,145.00 404.47,145.00 405.08,145.00 405.69,145.00 406.29,145.00 406.90,145.00 407.51,145.00 408.12,145.00 408.73,145.00 409.33,145.00 409.94,145.00 410.55,145.00 411.16,145.00 411.76,145.00 412.37,145.00 412.98,145.00 413.59,145.00 414.20,145.00 414.80,145.00 415.41,145.00 416.02,145.00 416.63,145.00 417.23,145.00 417.84,145.00 418.45,145.00" fill="none" stroke="#b4b4b4" stroke-width="0.6" stroke-opacity="1" stroke-linejoin="round"/>
<polyline points="247.30,16.62 247.79,24.51 248.28,34.11 248.77,44.86 249.26,57.70 249.62,61.35 249.99,63.48 250.46,65.22 250.93,66.48 251.41,67.33 251.97,68.08 252.53,68.75 253.09,69.33 253.65,69.85 254.21,70.31 254.77,70.72 255.33,71.09 255.89,71.45 256.45,71.78 257.01,72.12 257.57,72.46 258.15,72.82 258.72,73.15 259.30,73.47 259.88,73.78 260.46,74.07 261.04,74.35 261.61,74.63 262.19,74.89 262.77,75.16 263.35,75.42 263.93,75.67 264.50,75.94 265.08,76.20 265.66,76.46 266.24,76.72 266.82,76.97 267.39,77.22 267.97,77.45 268.55,77.68 269.13,77.88 269.71,78.07 270.28,78.24 270.87,78.40 271.46,78.54 272.04,78.68 272.63,78.81 273.22,78.93 273.80,79.05 274.39,79.16 274.98,79.26 275.56,79.36 276.15,79.46 276.74,79.56 277.32,79.65 277.91,79.74 278.50,79.84 279.09,79.93 279.67,80.02 280.26,80.12 280.85,80.22 281.43,80.32 282.02,80.43 282.61,80.55 283.19,80.66 283.78,80.79 284.37,80.92 284.95,81.07 285.55,81.22 286.15,81.40 286.75,81.58 287.35,81.78 287.95,81.99 288.55,82.21 289.15,82.43 289.75,82.66 290.35,82.90 290.95,83.14 291.55,83.38 292.15,83.62 292.75,83.85 293.35,84.09 293.96,84.32 294.56,84.55 295.16,84.76 295.76,84.97 296.36,85.17 296.96,85.36 297.56,85.53 298.16,85.69 298.76,85.83 299.36,85.98 299.96,86.11 300.56,86.24 301.16,86.37 301.76,86.49 302.36,86.61 302.96,86.73 303.56,86.84 304.16,86.95 304.76,87.06 305.36,87.16 305.96,87.27 306.56,87.38 307.16,87.48 307.76,87.59 308.36,87.69 308.96,87.80 309.56,87.91 310.16,88.02 310.76,88.14 311.36,88.26 311.96,88.38 312.57,88.50 313.18,88.62 313.78,88.74 314.39,88.87 314.99,88.99 315.60,89.12 316.20,89.25 316.81,89.37 317.41,89.50 318.02,89.62 318.62,89.75 319.23,89.87 319.83,89.99 320.44,90.12 321.05,90.24 321.65,90.36 322.26,90.48 322.86,90.59 323.47,90.71 324.07,90.82 324.66,90.93 325.25,91.03 325.83,91.13 326.42,91.23 327.01,91.33 327.59,91.42 328.18,91.52 328.77,91.63 329.35,91.74 329.94,91.85 330.53,91.97 331.13,92.09 331.72,92.22 332.32,92.35 332.91,92.48 333.50,92.61 334.10,92.75 334.69,92.88 335.29,93.02 335.88,93.17 336.47,93.31 337.07,93.46 337.66,93.61 338.25,93.76 338.85,93.91 339.44,94.06 340.04,94.22 340.63,94.38 341.22,94.54 341.82,94.71 342.41,94.87 343.00,95.04 343.60,95.21 344.19,95.38 344.79,95.55 345.38,95.73 345.97,95.91 346.57,96.09 347.16,96.26 347.75,96.43 348.34,96.59 348.93,96.75 349.52,96.91 350.11,97.06 350.70,97.22 351.29,97.38 351.88,97.54 352.48,97.70 353.07,97.87 353.66,98.05 354.25,98.24 354.84,98.44 355.43,98.65 356.02,98.88 356.61,99.12 357.20,99.38 357.79,99.65 358.38,99.95 358.98,100.26 359.57,100.60 360.16,100.96 360.75,101.35 361.32,101.83 361.89,102.48 362.46,103.28 363.03,104.23 363.60,105.30 364.17,106.49 364.76,108.04 365.34,110.08 365.93,112.42 366.52,114.91 367.11,117.40 367.59,119.61 368.08,122.05 368.57,124.52 369.06,126.81 369.55,128.70 370.12,130.57 370.69,132.38 371.26,134.03 371.83,135.45 372.40,136.56 372.97,137.30 373.57,137.81 374.18,138.27 374.78,138.69 375.38,139.06 375.98,139.39 376.58,139.68 377.19,139.95 377.79,140.18 378.39,140.40 378.99,140.60 379.59,140.79 380.20,140.97 380.80,141.15 381.38,141.31 381.96,141.46 382.54,141.60 383.12,141.73 383.70,141.84 384.28,141.96 384.86,142.06 385.44,142.16 386.02,142.27 386.60,142.37 387.18,142.47 387.77,142.58 388.35,142.69 388.93,142.81 389.51,142.94 390.09,143.07 390.67,143.22 391.24,143.38 391.82,143.54 392.40,143.70 392.98,143.88 393.56,144.05 394.13,144.23 394.71,144.42 395.29,144.61 395.87,144.80 396.44,145.00" fill="none" stroke="#f5404f" stroke-width="0.85" stroke-opacity="1" stroke-linejoin="round"/>
<polygon points="246.86,16.62 247.30,16.62 247.86,16.66 248.42,16.76 248.98,16.92 249.54,17.13 250.09,17.37 250.65,17.63 251.21,17.90 251.79,18.28 252.37,18.82 252.95,19.49 253.52,20.26 254.10,21.09 254.68,21.95 255.26,22.82 255.84,23.65 256.41,24.41 256.99,25.07 257.57,25.61 258.15,26.04 258.72,26.45 259.30,26.83 259.88,27.18 260.46,27.51 261.04,27.83 261.61,28.14 262.19,28.43 262.77,28.73 263.35,29.03 263.93,29.33 264.50,29.63 265.08,29.93 265.66,30.23 266.24,30.52 266.82,30.80 267.39,31.08 267.97,31.36 268.55,31.63 269.13,31.89 269.71,32.15 270.28,32.41 270.86,32.67 271.44,32.92 272.02,33.18 272.59,33.43 273.17,33.68 273.75,33.92 274.33,34.16 274.91,34.38 275.48,34.60 276.06,34.79 276.64,34.98 277.22,35.15 277.80,35.30 278.37,35.45 278.95,35.58 279.53,35.72 280.11,35.85 280.69,35.97 281.26,36.10 281.84,36.23 282.42,36.37 283.00,36.52 283.57,36.67 284.14,36.83 284.71,36.99 285.28,37.16 285.85,37.33 286.42,37.50 286.99,37.66 287.56,37.83 288.13,37.99 288.70,38.15 289.27,38.30 289.84,38.44 290.44,38.59 291.05,38.72 291.65,38.85 292.25,38.98 292.85,39.10 293.45,39.22 294.06,39.34 294.66,39.47 295.26,39.59 295.86,39.71 296.46,39.84 297.07,39.97 297.67,40.11 298.27,40.26 298.88,40.41 299.48,40.56 300.09,40.72 300.69,40.88 301.30,41.04 301.91,41.20 302.51,41.37 303.12,41.54 303.72,41.71 304.33,41.88 304.93,42.05 305.54,42.22 306.14,42.39 306.75,42.57 307.35,42.74 307.96,42.91 308.56,43.08 309.17,43.25 309.78,43.41 310.38,43.58 310.99,43.74 311.59,43.91 312.19,44.07 312.80,44.23 313.40,44.40 314.01,44.56 314.61,44.73 315.21,44.89 315.82,45.05 316.42,45.22 317.03,45.38 317.63,45.55 318.23,45.71 318.84,45.87 319.44,46.04 320.05,46.20 320.65,46.36 321.25,46.53 321.86,46.69 322.46,46.85 323.07,47.02 323.67,47.18 324.27,47.34 324.88,47.50 325.48,47.66 326.09,47.82 326.69,47.98 327.29,48.14 327.90,48.31 328.50,48.46 329.11,48.62 329.71,48.78 330.31,48.94 330.92,49.10 331.52,49.25 332.11,49.41 332.71,49.56 333.31,49.70 333.91,49.85 334.50,49.99 335.10,50.13 335.70,50.28 336.30,50.42 336.90,50.56 337.49,50.70 338.09,50.84 338.69,50.98 339.29,51.12 339.88,51.27 340.48,51.41 341.08,51.56 341.68,51.71 342.27,51.86 342.87,52.02 343.47,52.17 344.07,52.34 344.67,52.50 345.26,52.67 345.86,52.84 346.46,53.02 347.06,53.21 347.66,53.40 348.26,53.59 348.87,53.80 349.47,54.00 350.08,54.21 350.68,54.43 351.28,54.65 351.89,54.88 352.49,55.11 353.10,55.35 353.70,55.59 354.30,55.84 354.91,56.10 355.51,56.36 356.12,56.63 356.72,56.91 357.32,57.19 357.92,57.46 358.52,57.72 359.12,57.98 359.72,58.26 360.31,58.56 360.91,58.90 361.51,59.29 362.11,59.74 362.70,60.27 363.26,60.98 363.82,62.01 364.38,63.29 364.94,64.75 365.50,66.32 366.06,67.93 366.62,69.51 367.19,70.92 367.76,72.17 368.33,73.52 368.90,75.24 369.47,77.58 370.04,80.81 370.53,89.61 371.02,101.35 371.51,110.75 372.00,117.65 372.48,121.31 372.97,124.15 373.46,126.27 373.95,127.80 374.55,129.23 375.15,130.48 375.74,131.56 376.34,132.51 376.94,133.34 377.54,134.08 378.13,134.75 378.73,135.39 379.33,136.01 379.93,136.63 380.53,137.22 381.14,137.79 381.74,138.33 382.34,138.85 382.94,139.34 383.54,139.81 384.14,140.24 384.75,140.66 385.35,141.05 385.95,141.41 386.55,141.74 387.15,142.05 387.75,142.34 388.34,142.64 388.94,142.93 389.53,143.22 390.12,143.51 390.72,143.78 391.31,144.03 391.90,144.26 392.50,144.47 393.09,144.65 393.69,144.80 394.28,144.91 394.87,144.98 395.47,145.00 396.07,145.00 396.68,145.00 397.28,145.00 397.89,145.00 398.49,145.00 399.10,145.00 399.70,145.00 400.31,145.00 400.91,145.00 401.52,145.00 402.12,145.00 402.72,145.00 403.33,145.00 403.93,145.00 404.54,145.00 405.14,145.00 405.75,145.00 406.35,145.00 406.96,145.00 407.56,145.00 408.17,145.00 408.77,145.00 409.38,145.00 409.98,145.00 410.59,145.00 411.19,145.00 411.80,145.00 412.40,145.00 413.01,145.00 413.61,145.00 414.22,145.00 414.82,145.00 415.43,145.00 416.03,145.00 416.64,145.00 417.24,145.00 417.85,145.00 418.45,145.00 418.45,145.00 417.84,145.00 417.24,145.00 416.63,145.00 416.02,145.00 415.42,145.00 414.81,145.00 414.20,145.00 413.60,145.00 412.99,145.00 412.38,145.00 411.78,145.00 411.17,145.00 410.56,145.00 409.96,145.00 409.35,145.00 408.74,145.00 408.14,145.00 407.53,145.00 406.92,145.00 406.32,145.00 405.71,145.00 405.10,145.00 404.50,145.00 403.89,145.00 403.28,145.00 402.68,145.00 402.07,145.00 401.46,145.00 400.86,145.00 400.25,145.00 399.64,145.00 399.03,145.00 398.43,145.00 397.82,145.00 397.21,145.00 396.61,145.00 396.00,145.00 395.39,145.00 394.79,145.00 394.18,145.00 393.57,145.00 392.97,145.00 392.36,145.00 391.75,145.00 391.15,145.00 390.54,145.00 389.93,145.00 389.33,145.00 388.72,145.00 388.11,145.00 387.51,145.00 386.90,145.00 386.29,145.00 385.69,145.00 385.08,145.00 384.47,145.00 383.87,145.00 383.26,145.00 382.65,145.00 382.05,145.00 381.44,145.00 380.83,145.00 380.23,145.00 379.62,145.00 379.01,145.00 378.41,145.00 377.80,145.00 377.19,145.00 376.59,145.00 375.98,145.00 375.37,145.00 374.77,145.00 374.16,145.00 373.55,145.00 372.95,145.00 372.34,145.00 371.73,145.00 371.13,145.00 370.52,145.00 369.91,145.00 369.31,145.00 368.70,145.00 368.09,145.00 367.49,145.00 366.88,145.00 366.27,145.00 365.67,145.00 365.06,145.00 364.45,145.00 363.85,145.00 363.24,145.00 362.63,145.00 362.02,145.00 361.42,145.00 360.81,145.00 360.20,145.00 359.60,145.00 358.99,145.00 358.38,145.00 357.78,145.00 357.17,145.00 356.56,145.00 355.96,145.00 355.35,145.00 354.74,145.00 354.14,145.00 353.53,145.00 352.92,145.00 352.34,144.45 351.75,143.13 351.16,141.52 350.58,140.10 349.99,139.35 349.38,139.10 348.77,138.87 348.17,138.66 347.56,138.46 346.95,138.28 346.34,138.11 345.74,137.96 345.13,137.82 344.52,137.69 343.91,137.58 343.31,137.47 342.70,137.37 342.09,137.28 341.48,137.19 340.88,137.12 340.27,137.04 339.66,136.97 339.05,136.91 338.45,136.84 337.84,136.78 337.23,136.72 336.62,136.65 336.02,136.59 335.41,136.52 334.80,136.45 334.19,136.37 333.59,136.29 332.98,136.20 332.37,136.11 331.76,136.00 331.16,135.89 330.55,135.76 329.94,135.63 329.35,135.48 328.77,135.32 328.18,135.16 327.59,134.98 327.01,134.80 326.42,134.62 325.83,134.44 325.25,134.27 324.66,134.11 324.07,133.96 323.47,133.82 322.86,133.67 322.26,133.54 321.65,133.40 321.05,133.27 320.44,133.15 319.83,133.02 319.23,132.90 318.62,132.78 318.02,132.66 317.41,132.54 316.81,132.42 316.20,132.31 315.60,132.19 314.99,132.08 314.39,131.96 313.78,131.85 313.18,131.74 312.57,131.62 311.96,131.51 311.36,131.39 310.77,131.28 310.18,131.16 309.58,131.05 308.99,130.94 308.40,130.82 307.81,130.71 307.22,130.60 306.63,130.48 306.04,130.37 305.44,130.26 304.85,130.15 304.26,130.04 303.67,129.93 303.08,129.81 302.49,129.70 301.89,129.60 301.30,129.49 300.71,129.38 300.12,129.27 299.53,129.16 298.94,129.06 298.35,128.95 297.75,128.85 297.16,128.75 296.57,128.64 295.98,128.54 295.39,128.44 294.80,128.34 294.20,128.25 293.61,128.15 293.02,128.05 292.43,127.96 291.83,127.87 291.24,127.78 290.65,127.70 290.05,127.61 289.46,127.53 288.86,127.45 288.27,127.37 287.68,127.29 287.08,127.22 286.49,127.14 285.89,127.06 285.30,126.99 284.70,126.91 284.11,126.83 283.52,126.75 282.92,126.67 282.33,126.59 281.73,126.51 281.14,126.42 280.55,126.33 279.95,126.24 279.36,126.15 278.76,126.05 278.17,125.95 277.58,125.85 276.98,125.74 276.37,125.63 275.77,125.51 275.16,125.39 274.55,125.27 273.94,125.15 273.34,125.02 272.73,124.89 272.12,124.75 271.51,124.61 270.90,124.47 270.30,124.32 269.69,124.17 269.08,124.01 268.47,123.85 267.87,123.68 267.26,123.50 266.65,123.32 266.04,123.14 265.43,122.94 264.83,122.74 264.22,122.53 263.64,122.32 263.05,122.10 262.47,121.86 261.89,121.61 261.31,121.33 260.73,121.05 260.14,120.74 259.56,120.41 258.98,120.07 258.40,119.71 257.81,119.32 257.21,118.90 256.62,118.44 256.02,117.94 255.42,117.39 254.82,116.79 254.22,116.12 253.62,115.38 253.02,114.57 252.46,113.79 251.91,112.93 251.35,111.85 250.79,110.39 250.23,108.41 249.87,106.17 249.50,101.35 249.16,80.81 248.77,42.30 248.28,28.17 247.79,19.54 247.30,17.50 246.86,17.50" fill="#ff0000" fill-opacity="0.416"/>
<polyline points="247.30,16.62 247.87,16.62 248.44,16.62 249.01,16.62 249.58,16.62 250.15,16.62 250.72,16.62 251.28,16.74 251.84,17.06 252.40,17.52 252.96,18.08 253.52,18.66 254.08,19.22 254.64,19.70 255.21,20.12 255.79,20.53 256.37,20.93 256.95,21.33 257.52,21.72 258.10,22.11 258.68,22.50 259.26,22.91 259.84,23.32 260.41,23.75 260.99,24.19 261.57,24.66 262.15,25.15 262.73,25.65 263.31,26.17 263.90,26.70 264.48,27.24 265.06,27.79 265.64,28.34 266.22,28.89 266.80,29.45 267.38,30.00 267.96,30.55 268.54,31.09 269.12,31.63 269.70,32.15 270.28,32.67 270.89,33.19 271.49,33.72 272.10,34.24 272.70,34.76 273.31,35.27 273.92,35.79 274.52,36.30 275.13,36.81 275.73,37.31 276.34,37.82 276.94,38.32 277.55,38.82 278.15,39.31 278.76,39.81 279.36,40.30 279.97,40.79 280.58,41.28 281.18,41.76 281.79,42.24 282.39,42.72 283.00,43.19 283.57,43.64 284.14,44.08 284.71,44.51 285.28,44.94 285.85,45.37 286.42,45.79 286.99,46.22 287.56,46.64 288.13,47.06 288.70,47.48 289.27,47.91 289.84,48.33 290.44,48.78 291.05,49.23 291.65,49.68 292.25,50.13 292.85,50.58 293.45,51.02 294.06,51.47 294.66,51.92 295.26,52.36 295.86,52.80 296.46,53.24 297.07,53.67 297.67,54.11 298.27,54.54 298.88,54.96 299.48,55.39 300.09,55.81 300.69,56.23 301.30,56.65 301.91,57.07 302.51,57.49 303.12,57.90 303.72,58.31 304.33,58.73 304.93,59.14 305.54,59.55 306.14,59.96 306.75,60.37 307.35,60.78 307.96,61.19 308.56,61.60 309.17,62.01 309.78,62.42 310.38,62.84 310.98,63.25 311.58,63.66 312.18,64.07 312.78,64.48 313.38,64.89 313.98,65.30 314.58,65.71 315.18,66.12 315.78,66.52 316.38,66.93 316.98,67.33 317.57,67.72 318.16,68.11 318.75,68.49 319.34,68.87 319.93,69.24 320.51,69.62 321.10,69.99 321.69,70.36 322.28,70.73 322.87,71.09 323.46,71.46 324.05,71.83 324.63,72.20 325.22,72.57 325.81,72.94 326.40,73.31 326.99,73.69 327.58,74.07 328.17,74.45 328.75,74.84 329.34,75.24 329.93,75.63 330.52,76.04 331.11,76.45 331.70,76.87 332.29,77.29 332.88,77.73 333.46,78.17 334.04,78.63 334.62,79.10 335.20,79.59 335.79,80.08 336.37,80.59 336.95,81.10 337.53,81.62 338.11,82.15 338.70,82.67 339.28,83.20 339.86,83.72 340.44,84.25 341.02,84.77 341.61,85.28 342.19,85.78 342.77,86.28 343.35,86.76 343.94,87.23 344.52,87.69 345.10,88.13 345.66,88.53 346.23,88.93 346.79,89.30 347.36,89.67 347.92,90.03 348.49,90.38 349.05,90.73 349.61,91.09 350.18,91.45 350.74,91.82 351.31,92.20 351.87,92.59 352.44,93.01 353.03,93.45 353.62,93.89 354.22,94.33 354.81,94.78 355.40,95.23 356.00,95.69 356.59,96.17 357.19,96.67 357.78,97.18 358.37,97.72 358.97,98.29 359.56,98.89 360.15,99.52 360.75,100.20 361.32,100.88 361.89,101.62 362.46,102.44 363.03,103.36 363.60,104.40 364.17,105.59 364.76,107.09 365.34,108.96 365.93,111.15 366.52,113.59 367.11,116.24 367.59,119.12 368.08,122.44 368.57,125.10 369.06,126.98 369.55,128.65 370.04,130.09 370.53,131.27 371.02,132.16 371.60,132.99 372.19,133.72 372.78,134.36 373.36,134.92 373.95,135.43 374.54,135.90 375.12,136.33 375.71,136.74 376.30,137.14 376.88,137.55 377.45,137.95 378.01,138.34 378.58,138.73 379.14,139.10 379.71,139.45 380.27,139.80 380.83,140.13 381.40,140.45 381.96,140.75 382.53,141.04 383.09,141.31 383.66,141.56 384.22,141.79 384.80,142.01 385.37,142.24 385.95,142.45 386.52,142.66 387.10,142.87 387.67,143.07 388.25,143.26 388.82,143.45 389.40,143.63 389.97,143.79 390.55,143.95 391.12,144.09 391.70,144.22 392.27,144.34 392.85,144.45 393.42,144.54 394.00,144.61 394.54,144.68 395.09,144.74 395.63,144.80 396.17,144.85 396.72,144.90 397.26,144.94 397.80,144.97 398.35,144.99 398.89,145.00 399.48,145.00 400.08,145.00 400.67,145.00 401.26,145.00 401.85,145.00 402.45,145.00 403.04,145.00 403.63,145.00 404.22,145.00 404.82,145.00 405.41,145.00 406.00,145.00 406.60,145.00 407.19,145.00 407.78,145.00 408.37,145.00 408.97,145.00 409.56,145.00 410.15,145.00 410.74,145.00 411.34,145.00 411.93,145.00 412.52,145.00 413.12,145.00 413.71,145.00 414.30,145.00 414.89,145.00 415.49,145.00 416.08,145.00 416.67,145.00 417.26,145.00 417.86,145.00 418.45,145.00" fill="none" stroke="#00e8e8" stroke-width="0.8" stroke-opacity="1" stroke-linejoin="round"/>
<polygon points="246.86,16.62 247.30,16.62 247.90,16.62 248.51,16.62 249.11,16.62 249.71,16.62 250.31,16.62 250.92,16.62 251.52,16.62 252.12,16.62 252.73,16.62 253.33,16.62 253.93,16.62 254.53,16.62 255.14,16.62 255.74,16.62 256.34,16.62 256.95,16.62 257.55,16.62 258.15,16.62 258.75,16.62 259.36,16.62 259.96,16.62 260.56,16.62 261.17,16.62 261.77,16.62 262.37,16.62 262.97,16.62 263.58,16.62 264.18,16.62 264.78,16.62 265.39,16.62 265.99,16.62 266.59,16.62 267.19,16.62 267.80,16.62 268.40,16.62 269.00,16.62 269.61,16.62 270.21,16.62 270.81,16.62 271.42,16.62 272.02,16.62 272.62,16.62 273.22,16.62 273.83,16.62 274.43,16.62 275.03,16.62 275.64,16.62 276.24,16.62 276.84,16.62 277.44,16.62 278.05,16.62 278.65,16.62 279.25,16.62 279.86,16.62 280.46,16.62 281.06,16.62 281.66,16.62 282.27,16.62 282.87,16.62 283.47,16.62 284.08,16.62 284.68,16.62 285.28,16.62 285.88,16.62 286.49,16.62 287.09,16.62 287.69,16.62 288.30,16.62 288.90,16.62 289.50,16.62 290.10,16.62 290.71,16.62 291.31,16.62 291.90,16.63 292.48,16.67 293.07,16.74 293.66,16.82 294.24,16.92 294.83,17.04 295.42,17.17 296.00,17.32 296.59,17.47 297.18,17.63 297.76,17.79 298.35,17.95 298.94,18.11 299.53,18.27 300.11,18.42 300.72,18.57 301.32,18.73 301.92,18.89 302.53,19.06 303.13,19.23 303.74,19.41 304.34,19.59 304.94,19.78 305.55,19.98 306.15,20.18 306.76,20.39 307.36,20.60 307.96,20.82 308.57,21.04 309.17,21.27 309.78,21.51 310.38,21.75 310.98,22.01 311.59,22.27 312.19,22.55 312.79,22.84 313.39,23.14 313.99,23.45 314.60,23.77 315.20,24.10 315.80,24.44 316.40,24.79 317.00,25.14 317.61,25.51 318.21,25.87 318.81,26.25 319.41,26.63 320.01,27.02 320.61,27.42 321.21,27.84 321.81,28.27 322.41,28.73 323.01,29.20 323.61,29.68 324.21,30.17 324.81,30.67 325.41,31.18 326.01,31.69 326.61,32.20 327.21,32.72 327.81,33.23 328.41,33.74 329.01,34.24 329.61,34.73 330.21,35.21 330.81,35.68 331.41,36.13 332.00,36.57 332.59,37.00 333.18,37.43 333.78,37.85 334.37,38.27 334.96,38.68 335.55,39.09 336.14,39.50 336.74,39.91 337.33,40.31 337.92,40.71 338.51,41.12 339.10,41.52 339.70,41.92 340.29,42.33 340.88,42.73 341.47,43.14 342.06,43.55 342.65,43.96 343.25,44.38 343.84,44.79 344.43,45.20 345.02,45.61 345.61,46.02 346.21,46.43 346.80,46.84 347.39,47.25 347.98,47.66 348.57,48.07 349.17,48.48 349.76,48.90 350.35,49.32 350.94,49.74 351.53,50.17 352.13,50.60 352.72,51.04 353.31,51.48 353.90,51.92 354.49,52.37 355.08,52.82 355.66,53.28 356.25,53.74 356.84,54.21 357.42,54.68 358.01,55.17 358.60,55.66 359.18,56.16 359.77,56.67 360.32,57.15 360.87,57.61 361.42,58.07 361.97,58.54 362.52,59.05 363.07,59.61 363.62,60.22 364.17,60.91 364.74,61.72 365.31,62.65 365.88,63.71 366.45,64.94 367.02,66.35 367.59,67.97 368.08,69.73 368.57,71.99 369.06,74.64 369.55,77.61 370.04,80.81 370.53,84.49 371.02,88.83 371.51,93.65 372.00,99.58 372.48,106.18 372.97,111.62 373.46,115.54 373.95,118.83 374.44,121.51 374.93,123.81 375.42,125.93 375.91,127.78 376.40,129.33 376.88,130.49 377.44,131.49 377.99,132.34 378.54,133.07 379.09,133.71 379.64,134.30 380.19,134.86 380.74,135.42 381.29,136.01 381.84,136.64 382.39,137.28 382.94,137.91 383.49,138.52 384.04,139.10 384.59,139.64 385.14,140.11 385.69,140.51 386.27,140.86 386.86,141.19 387.45,141.48 388.03,141.74 388.62,141.99 389.21,142.23 389.79,142.46 390.38,142.70 390.97,142.94 391.56,143.20 392.11,143.49 392.67,143.82 393.23,144.16 393.79,144.48 394.35,144.75 394.91,144.93 395.47,145.00 396.07,145.00 396.68,145.00 397.28,145.00 397.89,145.00 398.49,145.00 399.10,145.00 399.70,145.00 400.31,145.00 400.91,145.00 401.52,145.00 402.12,145.00 402.72,145.00 403.33,145.00 403.93,145.00 404.54,145.00 405.14,145.00 405.75,145.00 406.35,145.00 406.96,145.00 407.56,145.00 408.17,145.00 408.77,145.00 409.38,145.00 409.98,145.00 410.59,145.00 411.19,145.00 411.80,145.00 412.40,145.00 413.01,145.00 413.61,145.00 414.22,145.00 414.82,145.00 415.43,145.00 416.03,145.00 416.64,145.00 417.24,145.00 417.85,145.00 418.45,145.00 418.45,145.00 417.84,145.00 417.24,145.00 416.63,145.00 416.02,145.00 415.41,145.00 414.81,145.00 414.20,145.00 413.59,145.00 412.98,145.00 412.38,145.00 411.77,145.00 411.16,145.00 410.55,145.00 409.95,145.00 409.34,145.00 408.73,145.00 408.12,145.00 407.52,145.00 406.91,145.00 406.30,145.00 405.69,145.00 405.09,145.00 404.48,145.00 403.87,145.00 403.27,145.00 402.66,145.00 402.05,145.00 401.44,145.00 400.84,145.00 400.23,145.00 399.62,145.00 399.01,145.00 398.41,145.00 397.80,145.00 397.19,145.00 396.58,145.00 395.98,145.00 395.37,145.00 394.76,145.00 394.15,145.00 393.55,145.00 392.94,145.00 392.33,145.00 391.72,145.00 391.12,145.00 390.51,145.00 389.90,145.00 389.30,145.00 388.69,145.00 388.08,145.00 387.47,145.00 386.87,145.00 386.26,145.00 385.65,145.00 385.04,145.00 384.44,145.00 383.83,145.00 383.22,145.00 382.61,145.00 382.01,145.00 381.40,145.00 380.79,145.00 380.18,145.00 379.58,145.00 378.97,145.00 378.36,145.00 377.75,145.00 377.15,145.00 376.54,145.00 375.93,145.00 375.33,145.00 374.72,145.00 374.11,145.00 373.50,145.00 372.90,145.00 372.29,145.00 371.68,145.00 371.07,145.00 370.47,145.00 369.86,145.00 369.25,145.00 368.64,145.00 368.04,145.00 367.43,145.00 366.82,145.00 366.21,145.00 365.61,145.00 365.00,145.00 364.39,145.00 363.78,145.00 363.18,145.00 362.57,145.00 361.96,145.00 361.36,145.00 360.75,145.00 360.20,144.86 359.65,144.49 359.10,143.93 358.55,143.25 358.00,142.51 357.45,141.77 356.90,141.08 356.35,140.51 355.77,139.99 355.19,139.48 354.61,138.98 354.04,138.50 353.46,138.02 352.88,137.56 352.30,137.10 351.72,136.66 351.15,136.22 350.57,135.79 349.99,135.37 349.45,134.99 348.90,134.63 348.36,134.27 347.82,133.93 347.27,133.59 346.73,133.24 346.19,132.90 345.64,132.54 345.10,132.16 344.52,131.75 343.94,131.32 343.35,130.89 342.77,130.46 342.19,130.02 341.61,129.57 341.02,129.11 340.44,128.66 339.86,128.20 339.28,127.73 338.70,127.26 338.11,126.79 337.53,126.32 336.95,125.85 336.37,125.37 335.79,124.90 335.20,124.42 334.62,123.95 334.04,123.47 333.46,123.00 332.88,122.53 332.27,122.05 331.67,121.56 331.07,121.06 330.47,120.57 329.87,120.07 329.26,119.58 328.66,119.08 328.06,118.58 327.46,118.08 326.86,117.59 326.25,117.09 325.65,116.60 325.05,116.11 324.47,115.65 323.90,115.19 323.32,114.72 322.75,114.26 322.17,113.80 321.59,113.34 321.02,112.88 320.44,112.43 319.86,111.97 319.29,111.51 318.71,111.06 318.14,110.60 317.56,110.15 316.98,109.70 316.41,109.25 315.83,108.81 315.25,108.38 314.68,107.95 314.10,107.53 313.52,107.11 312.95,106.68 312.37,106.25 311.80,105.81 311.22,105.36 310.64,104.90 310.07,104.42 309.49,103.92 308.91,103.40 308.30,102.83 307.70,102.23 307.09,101.61 306.48,100.96 305.87,100.29 305.26,99.61 304.65,98.91 304.04,98.20 303.43,97.48 302.82,96.76 302.21,96.02 301.60,95.28 300.99,94.55 300.42,93.85 299.85,93.15 299.28,92.44 298.71,91.72 298.15,91.00 297.58,90.26 297.01,89.52 296.44,88.76 295.87,88.00 295.30,87.22 294.73,86.44 294.16,85.64 293.59,84.84 293.02,84.02 292.45,83.18 291.88,82.32 291.30,81.44 290.73,80.54 290.16,79.63 289.58,78.71 289.01,77.78 288.44,76.84 287.87,75.90 287.29,74.95 286.72,74.01 286.15,73.06 285.57,72.12 285.00,71.18 284.40,70.20 283.81,69.22 283.21,68.23 282.61,67.24 282.02,66.24 281.42,65.24 280.82,64.24 280.22,63.24 279.63,62.24 279.03,61.25 278.43,60.26 277.83,59.27 277.24,58.29 276.64,57.32 276.06,56.38 275.49,55.46 274.91,54.53 274.34,53.61 273.76,52.70 273.19,51.78 272.61,50.87 272.04,49.96 271.46,49.05 270.89,48.14 270.31,47.24 269.74,46.33 269.16,45.42 268.59,44.51 268.01,43.61 267.44,42.69 266.86,41.78 266.28,40.87 265.71,39.95 265.13,39.04 264.56,38.13 263.98,37.21 263.41,36.30 262.83,35.38 262.26,34.47 261.68,33.55 261.11,32.64 260.53,31.73 259.96,30.81 259.38,29.90 258.81,28.99 258.23,28.07 257.66,27.16 257.08,26.25 256.51,25.28 255.95,24.21 255.38,23.08 254.81,21.94 254.24,20.82 253.68,19.78 253.11,18.86 252.54,18.11 251.97,17.56 251.41,17.26 250.82,17.11 250.23,16.97 249.65,16.85 249.06,16.75 248.47,16.68 247.89,16.64 247.30,16.62 246.86,16.62" fill="#00ffff" fill-opacity="0.4"/>
</g>
<g font-family="'Liberation Sans', Arial, Helvetica, sans-serif" font-size="4.9" fill="#262626" stroke="#262626" stroke-width="0.04">
<text x="247.30" y="152.20" text-anchor="middle">0</text>
<text x="271.75" y="152.20" text-anchor="middle">5</text>
<text x="296.20" y="152.20" text-anchor="middle">10</text>
<text x="320.65" y="152.20" text-anchor="middle">15</text>
<text x="345.10" y="152.20" text-anchor="middle">20</text>
<text x="369.55" y="152.20" text-anchor="middle">25</text>
<text x="394.00" y="152.20" text-anchor="middle">30</text>
<text x="418.45" y="152.20" text-anchor="middle">35</text>
<text x="245.50" y="147.40" text-anchor="end">0</text>
<text x="245.50" y="134.56" text-anchor="end">10</text>
<text x="245.50" y="121.72" text-anchor="end">20</text>
<text x="245.50" y="108.89" text-anchor="end">30</text>
<text x="245.50" y="96.05" text-anchor="end">40</text>
<text x="245.50" y="83.21" text-anchor="end">50</text>
<text x="245.50" y="70.37" text-anchor="end">60</text>
<text x="245.50" y="57.53" text-anchor="end">70</text>
<text x="245.50" y="44.70" text-anchor="end">80</text>
<text x="245.50" y="31.86" text-anchor="end">90</text>
<text x="245.50" y="19.02" text-anchor="end">100</text>
<text x="419.95" y="146.80">0</text>
<text x="419.95" y="133.96">0.1</text>
<text x="419.95" y="121.12">0.2</text>
<text x="419.95" y="108.29">0.3</text>
<text x="419.95" y="95.45">0.4</text>
<text x="419.95" y="82.61">0.5</text>
<text x="419.95" y="69.77">0.6</text>
<text x="419.95" y="56.93">0.7</text>
<text x="419.95" y="44.10">0.8</text>
<text x="419.95" y="31.26">0.9</text>
<text x="419.95" y="18.42">1</text>
</g>
<text font-family="'Liberation Sans', Arial, Helvetica, sans-serif" font-size="5.3" fill="#262626" stroke="#262626" stroke-width="0.05" x="332.88" y="158.90" text-anchor="middle">Dose (GyE)</text>
<text font-family="'Liberation Sans', Arial, Helvetica, sans-serif" font-size="5.3" fill="#262626" stroke="#262626" stroke-width="0.05" text-anchor="middle" transform="translate(233.90,77.30) rotate(-90)">Volume (%)</text>
<text font-family="'Liberation Sans', Arial, Helvetica, sans-serif" font-size="5.3" fill="#262626" stroke="#262626" stroke-width="0.05" text-anchor="middle" transform="translate(433.25,77.60) rotate(-90)">P-Value</text>
<text font-family="'Liberation Sans', Arial, Helvetica, sans-serif" font-size="5.3" font-weight="bold" fill="#000" stroke="#000" stroke-width="0.2" x="332.88" y="8.00" text-anchor="middle">Duodenum</text>
<text font-family="'Liberation Serif', 'Times New Roman', serif" font-size="9" font-weight="bold" fill="#000" x="329.18" y="175.90" text-anchor="middle">(B)</text>
<rect x="376.30" y="12.80" width="39.2" height="28.8" fill="#fff" stroke="#c4c4c4" stroke-width="0.5"/>
<line x1="377.20" x2="386.70" y1="16.50" y2="16.50" stroke="#ff5a5a" stroke-width="0.6"/>
<rect x="377.20" y="20.25" width="9.50" height="3.6" fill="#f00" fill-opacity="0.46599999999999997"/>
<line x1="377.20" x2="386.70" y1="27.60" y2="27.60" stroke="#40f0f0" stroke-width="0.6"/>
<rect x="377.20" y="31.35" width="9.50" height="3.6" fill="#0ff" fill-opacity="0.45"/>
<line x1="377.20" x2="386.70" y1="38.70" y2="38.70" stroke="#bbb" stroke-width="0.5"/>
<g font-family="'Liberation Sans', Arial, Helvetica, sans-serif" font-size="4.4" fill="#262626" stroke="#262626" stroke-width="0.04">
<text x="388.50" y="18.05">IMPT</text>
<text x="388.50" y="23.60">IMPT+St-Dev</text>
<text x="388.50" y="29.15">IMRT</text>
<text x="388.50" y="34.70">IMRT+St-Dev</text>
<text x="388.50" y="40.25">P-Value</text>
</g>
<path d="M20.30 193.20H191.45" stroke="#c6c6c6" stroke-width="0.6" fill="none"/><path d="M20.30 193.20V328.40H191.45V193.20" stroke="#a4a4a4" stroke-width="0.6" fill="none"/>
<path d="M20.30 328.40v-1.5M20.30 193.20v1.5M44.75 328.40v-1.5M44.75 193.20v1.5M69.20 328.40v-1.5M69.20 193.20v1.5M93.65 328.40v-1.5M93.65 193.20v1.5M118.10 328.40v-1.5M118.10 193.20v1.5M142.55 328.40v-1.5M142.55 193.20v1.5M167.00 328.40v-1.5M167.00 193.20v1.5M191.45 328.40v-1.5M191.45 193.20v1.5M20.30 328.40h1.5M191.45 328.40h-1.5M20.30 315.52h1.5M191.45 315.52h-1.5M20.30 302.65h1.5M191.45 302.65h-1.5M20.30 289.77h1.5M191.45 289.77h-1.5M20.30 276.90h1.5M191.45 276.90h-1.5M20.30 264.02h1.5M191.45 264.02h-1.5M20.30 251.14h1.5M191.45 251.14h-1.5M20.30 238.27h1.5M191.45 238.27h-1.5M20.30 225.39h1.5M191.45 225.39h-1.5M20.30 212.51h1.5M191.45 212.51h-1.5M20.30 199.64h1.5M191.45 199.64h-1.5" stroke="#909090" stroke-width="0.5" fill="none"/>
<clipPath id="c01"><rect x="19.95" y="192.85" width="171.85" height="135.90"/></clipPath>
<g clip-path="url(#c01)">
<polyline points="20.30,328.40 20.91,328.40 21.52,328.40 22.12,328.40 22.73,328.40 23.34,328.40 23.95,328.40 24.56,328.40 25.16,328.40 25.77,328.40 26.38,328.40 26.99,328.40 27.60,328.40 28.20,328.40 28.81,328.40 29.42,328.40 30.03,328.40 30.64,328.40 31.24,328.40 31.85,328.40 32.46,328.40 33.07,328.40 33.68,328.40 34.28,328.40 34.89,328.40 35.50,328.40 36.11,328.40 36.72,328.40 37.32,328.40 37.93,328.40 38.54,328.40 39.15,328.40 39.76,328.40 40.36,328.40 40.97,328.40 41.58,328.40 42.19,328.40 42.80,328.40 43.40,328.40 44.01,328.40 44.62,328.40 45.23,328.40 45.84,328.40 46.44,328.40 47.05,328.40 47.66,328.40 48.27,328.40 48.88,328.40 49.48,328.40 50.09,328.40 50.70,328.40 51.31,328.40 51.92,328.40 52.52,328.40 53.13,328.40 53.74,328.40 54.35,328.40 54.96,328.40 55.56,328.40 56.17,328.40 56.78,328.40 57.39,328.40 58.00,328.40 58.60,328.40 59.21,328.40 59.82,328.40 60.43,328.40 61.04,328.40 61.65,328.40 62.25,328.40 62.86,328.40 63.47,328.40 64.08,328.40 64.69,328.40 65.29,328.40 65.90,328.40 66.51,328.40 67.12,328.40 67.73,328.40 68.33,328.40 68.94,328.40 69.55,328.40 70.16,328.40 70.77,328.40 71.37,328.40 71.98,328.40 72.59,328.40 73.20,328.40 73.81,328.40 74.41,328.40 75.02,328.40 75.63,328.40 76.24,328.40 76.85,328.40 77.45,328.40 78.06,328.40 78.67,328.40 79.28,328.40 79.89,328.40 80.49,328.40 81.10,328.40 81.71,328.40 82.32,328.40 82.93,328.40 83.53,328.40 84.14,328.40 84.75,328.40 85.36,328.40 85.97,328.40 86.57,328.40 87.18,328.40 87.79,328.40 88.40,328.40 89.01,328.40 89.61,328.40 90.22,328.40 90.83,328.40 91.44,328.40 92.05,328.40 92.65,328.40 93.26,328.40 93.87,328.40 94.48,328.40 95.09,328.40 95.69,328.40 96.30,328.40 96.91,328.40 97.52,328.40 98.13,328.40 98.73,328.40 99.34,328.40 99.95,328.40 100.56,328.40 101.17,328.40 101.77,328.40 102.38,328.40 102.99,328.40 103.60,328.40 104.21,328.40 104.81,328.40 105.42,328.40 106.03,328.40 106.64,328.40 107.25,328.40 107.85,328.40 108.46,328.40 109.07,328.40 109.68,328.40 110.29,328.40 110.89,328.40 111.50,328.40 112.11,328.40 112.72,328.40 113.33,328.40 113.93,328.40 114.54,328.40 115.15,328.40 115.76,328.40 116.37,328.40 116.97,328.40 117.58,328.40 118.19,328.40 118.80,328.40 119.41,328.40 120.01,328.40 120.62,328.40 121.23,328.40 121.84,328.40 122.45,328.40 123.05,328.40 123.66,328.40 124.27,328.40 124.88,328.40 125.49,328.40 126.09,328.40 126.70,328.40 127.31,328.40 127.92,328.40 128.53,328.40 129.13,328.40 129.74,328.40 130.35,328.40 130.96,328.40 131.57,328.40 132.17,328.40 132.78,328.40 133.39,328.40 134.00,328.40 134.61,328.40 135.22,328.40 135.70,328.36 136.19,328.20 136.68,327.89 137.17,327.37 137.66,292.99 138.15,272.80 138.64,257.41 139.13,243.93 139.62,229.50 140.10,216.40 140.59,209.55 141.08,207.81 141.57,207.11 142.06,209.49 142.55,214.45 143.04,221.97 143.53,232.82 144.02,244.92 144.51,256.16 145.00,266.58 145.48,277.22 145.97,287.56 146.46,297.07 146.95,305.22 147.44,313.16 147.93,317.46 148.42,316.11 148.91,313.43 149.40,311.40 149.88,310.47 150.37,309.70 150.86,309.07 151.35,308.57 151.84,308.18 152.41,307.83 152.97,307.53 153.53,307.27 154.10,307.04 154.66,306.84 155.23,306.66 155.79,306.49 156.35,306.32 156.92,306.14 157.48,305.95 158.05,305.74 158.61,305.50 159.18,305.22 159.75,304.92 160.32,304.62 160.89,304.28 161.46,303.88 162.03,303.39 162.60,302.78 163.09,301.68 163.58,300.17 164.07,299.17 164.64,298.69 165.21,298.28 165.78,297.95 166.35,297.70 166.92,297.55 167.49,297.50 167.73,328.40 168.34,328.40 168.95,328.40 169.56,328.40 170.17,328.40 170.77,328.40 171.38,328.40 171.99,328.40 172.60,328.40 173.21,328.40 173.81,328.40 174.42,328.40 175.03,328.40 175.64,328.40 176.25,328.40 176.86,328.40 177.46,328.40 178.07,328.40 178.68,328.40 179.29,328.40 179.90,328.40 180.50,328.40 181.11,328.40 181.72,328.40 182.33,328.40 182.94,328.40 183.54,328.40 184.15,328.40 184.76,328.40 185.37,328.40 185.98,328.40 186.59,328.40 187.19,328.40 187.80,328.40 188.41,328.40 189.02,328.40 189.63,328.40 190.23,328.40 190.84,328.40 191.45,328.40" fill="none" stroke="#b4b4b4" stroke-width="0.6" stroke-opacity="1" stroke-linejoin="round"/>
<polyline points="20.30,199.64 20.45,251.14 21.03,270.46 21.55,274.60 22.06,277.35 22.57,279.11 23.09,280.24 23.65,281.19 24.21,281.99 24.77,282.66 25.33,283.22 25.89,283.71 26.45,284.15 27.00,284.56 27.56,284.96 28.12,285.39 28.71,285.86 29.30,286.31 29.88,286.74 30.47,287.16 31.06,287.56 31.64,287.95 32.23,288.33 32.82,288.70 33.41,289.06 33.99,289.41 34.58,289.75 35.17,290.09 35.75,290.42 36.34,290.74 36.93,291.06 37.53,291.38 38.14,291.70 38.74,292.02 39.35,292.33 39.95,292.64 40.56,292.94 41.16,293.24 41.77,293.53 42.37,293.82 42.98,294.11 43.59,294.38 44.19,294.66 44.80,294.92 45.40,295.19 46.01,295.44 46.61,295.69 47.22,295.94 47.82,296.18 48.43,296.41 49.03,296.63 49.64,296.85 50.24,297.07 50.84,297.28 51.44,297.48 52.04,297.69 52.64,297.89 53.24,298.09 53.84,298.29 54.44,298.48 55.04,298.67 55.64,298.85 56.24,299.03 56.84,299.21 57.44,299.38 58.04,299.55 58.64,299.72 59.24,299.87 59.84,300.03 60.44,300.18 61.04,300.32 61.64,300.46 62.24,300.59 62.84,300.72 63.44,300.83 64.04,300.94 64.64,301.04 65.23,301.14 65.83,301.23 66.43,301.32 67.03,301.42 67.62,301.51 68.22,301.62 68.82,301.73 69.41,301.84 70.01,301.95 70.60,302.07 71.20,302.19 71.79,302.31 72.39,302.43 72.98,302.55 73.58,302.67 74.18,302.80 74.77,302.92 75.37,303.05 75.96,303.17 76.56,303.29 77.15,303.42 77.75,303.54 78.34,303.66 78.94,303.77 79.53,303.89 80.13,304.00 80.72,304.11 81.32,304.22 81.91,304.32 82.51,304.42 83.10,304.52 83.70,304.62 84.30,304.71 84.89,304.81 85.49,304.90 86.08,304.99 86.68,305.08 87.27,305.17 87.87,305.25 88.46,305.34 89.06,305.43 89.65,305.51 90.25,305.60 90.84,305.68 91.44,305.77 92.03,305.86 92.63,305.94 93.22,306.03 93.82,306.12 94.42,306.20 95.01,306.29 95.61,306.38 96.19,306.47 96.77,306.56 97.35,306.65 97.93,306.73 98.51,306.82 99.09,306.91 99.67,307.00 100.25,307.08 100.83,307.17 101.41,307.26 101.99,307.35 102.57,307.44 103.15,307.53 103.74,307.62 104.32,307.71 104.90,307.80 105.49,307.89 106.08,307.98 106.67,308.08 107.26,308.17 107.86,308.26 108.45,308.36 109.04,308.45 109.63,308.54 110.22,308.64 110.82,308.73 111.41,308.83 112.00,308.92 112.59,309.02 113.18,309.11 113.78,309.21 114.37,309.31 114.96,309.41 115.55,309.50 116.14,309.60 116.73,309.70 117.33,309.79 117.92,309.88 118.51,309.98 119.10,310.07 119.69,310.15 120.28,310.24 120.87,310.33 121.46,310.42 122.05,310.51 122.64,310.60 123.23,310.69 123.83,310.79 124.42,310.88 125.01,310.98 125.60,311.08 126.19,311.19 126.78,311.30 127.37,311.41 127.96,311.53 128.55,311.65 129.14,311.78 129.73,311.91 130.32,312.05 130.89,312.19 131.45,312.33 132.02,312.48 132.58,312.64 133.15,312.80 133.71,312.98 134.27,313.17 134.84,313.37 135.40,313.59 135.97,313.82 136.53,314.07 137.10,314.34 137.66,314.62 138.26,314.96 138.86,315.34 139.45,315.76 140.05,316.25 140.65,316.79 141.25,317.40 141.84,318.07 142.44,318.82 143.04,319.64 143.53,320.64 144.02,322.02 144.51,323.52 145.00,324.88 145.48,325.82 146.07,326.59 146.66,327.29 147.24,327.87 147.83,328.26 148.42,328.40" fill="none" stroke="#f5404f" stroke-width="0.85" stroke-opacity="1" stroke-linejoin="round"/>
<polygon points="19.86,235.69 20.30,235.69 20.79,237.11 21.28,238.45 21.77,239.70 22.26,240.84 22.76,241.90 23.27,242.87 23.78,243.78 24.29,244.68 24.80,245.61 25.35,246.66 25.91,247.73 26.46,248.81 27.02,249.85 27.57,250.86 28.12,251.79 28.69,252.68 29.26,253.55 29.82,254.39 30.39,255.20 30.95,255.96 31.52,256.67 32.08,257.32 32.69,257.98 33.30,258.59 33.91,259.17 34.51,259.73 35.12,260.26 35.73,260.78 36.34,261.28 36.94,261.77 37.55,262.26 38.16,262.75 38.76,263.25 39.37,263.76 39.97,264.27 40.58,264.79 41.18,265.30 41.78,265.81 42.39,266.31 42.99,266.81 43.59,267.31 44.20,267.80 44.80,268.28 45.40,268.76 46.01,269.23 46.61,269.68 47.20,270.12 47.78,270.56 48.37,270.99 48.96,271.41 49.54,271.84 50.13,272.25 50.72,272.66 51.30,273.07 51.89,273.46 52.48,273.86 53.06,274.24 53.65,274.62 54.24,274.99 54.82,275.35 55.41,275.71 56.00,276.06 56.58,276.41 57.17,276.75 57.76,277.09 58.34,277.42 58.93,277.74 59.52,278.06 60.10,278.36 60.69,278.66 61.28,278.94 61.86,279.21 62.43,279.46 62.99,279.71 63.56,279.94 64.12,280.17 64.69,280.39 65.25,280.61 65.81,280.82 66.38,281.03 66.94,281.24 67.51,281.44 68.07,281.64 68.64,281.84 69.20,282.05 69.78,282.25 70.35,282.45 70.93,282.65 71.50,282.85 72.08,283.05 72.65,283.24 73.23,283.44 73.80,283.63 74.38,283.82 74.95,284.01 75.53,284.19 76.10,284.38 76.68,284.56 77.25,284.74 77.83,284.92 78.40,285.09 78.98,285.26 79.58,285.44 80.18,285.62 80.79,285.80 81.39,285.97 81.99,286.15 82.59,286.32 83.19,286.49 83.79,286.66 84.40,286.82 85.00,286.99 85.60,287.15 86.20,287.32 86.80,287.48 87.41,287.64 88.01,287.80 88.61,287.96 89.21,288.12 89.81,288.28 90.42,288.44 91.02,288.59 91.62,288.75 92.22,288.90 92.82,289.06 93.42,289.21 94.03,289.36 94.63,289.51 95.21,289.66 95.80,289.81 96.39,289.95 96.98,290.09 97.56,290.23 98.15,290.36 98.74,290.50 99.32,290.64 99.91,290.77 100.50,290.90 101.08,291.04 101.67,291.17 102.26,291.30 102.84,291.44 103.43,291.57 104.02,291.70 104.60,291.84 105.19,291.98 105.78,292.12 106.36,292.26 106.95,292.40 107.54,292.54 108.12,292.69 108.71,292.84 109.30,292.99 109.90,293.15 110.51,293.31 111.11,293.47 111.71,293.64 112.32,293.80 112.92,293.97 113.53,294.14 114.13,294.31 114.73,294.48 115.34,294.66 115.94,294.84 116.55,295.02 117.15,295.20 117.75,295.38 118.36,295.57 118.96,295.76 119.57,295.95 120.15,296.14 120.73,296.33 121.31,296.52 121.89,296.72 122.47,296.92 123.05,297.12 123.63,297.32 124.21,297.53 124.79,297.74 125.37,297.95 125.95,298.17 126.54,298.38 127.12,298.61 127.70,298.83 128.28,299.07 128.86,299.30 129.45,299.54 130.05,299.77 130.64,300.01 131.23,300.24 131.83,300.48 132.42,300.72 133.01,300.98 133.61,301.24 134.20,301.51 134.80,301.80 135.39,302.11 135.98,302.44 136.58,302.79 137.17,303.16 137.74,303.56 138.31,304.01 138.88,304.51 139.45,305.08 140.02,305.70 140.59,306.38 141.18,307.19 141.77,308.14 142.35,309.22 142.94,310.44 143.53,311.79 144.02,313.11 144.51,314.68 145.00,316.41 145.48,318.23 145.97,320.43 146.46,322.81 146.95,324.54 147.44,325.55 147.93,326.37 148.42,327.01 148.91,327.50 149.40,327.92 149.88,328.26 150.37,328.40 150.98,328.40 151.58,328.40 152.19,328.40 152.79,328.40 153.39,328.40 154.00,328.40 154.60,328.40 155.21,328.40 155.81,328.40 156.41,328.40 157.02,328.40 157.62,328.40 158.23,328.40 158.83,328.40 159.43,328.40 160.04,328.40 160.64,328.40 161.25,328.40 161.85,328.40 162.46,328.40 163.06,328.40 163.66,328.40 164.27,328.40 164.87,328.40 165.48,328.40 166.08,328.40 166.68,328.40 167.29,328.40 167.89,328.40 168.50,328.40 169.10,328.40 169.70,328.40 170.31,328.40 170.91,328.40 171.52,328.40 172.12,328.40 172.72,328.40 173.33,328.40 173.93,328.40 174.54,328.40 175.14,328.40 175.74,328.40 176.35,328.40 176.95,328.40 177.56,328.40 178.16,328.40 178.76,328.40 179.37,328.40 179.97,328.40 180.58,328.40 181.18,328.40 181.79,328.40 182.39,328.40 182.99,328.40 183.60,328.40 184.20,328.40 184.81,328.40 185.41,328.40 186.01,328.40 186.62,328.40 187.22,328.40 187.83,328.40 188.43,328.40 189.03,328.40 189.64,328.40 190.24,328.40 190.85,328.40 191.45,328.40 191.45,328.40 190.85,328.40 190.24,328.40 189.64,328.40 189.04,328.40 188.43,328.40 187.83,328.40 187.22,328.40 186.62,328.40 186.02,328.40 185.41,328.40 184.81,328.40 184.21,328.40 183.60,328.40 183.00,328.40 182.39,328.40 181.79,328.40 181.19,328.40 180.58,328.40 179.98,328.40 179.38,328.40 178.77,328.40 178.17,328.40 177.56,328.40 176.96,328.40 176.36,328.40 175.75,328.40 175.15,328.40 174.55,328.40 173.94,328.40 173.34,328.40 172.74,328.40 172.13,328.40 171.53,328.40 170.92,328.40 170.32,328.40 169.72,328.40 169.11,328.40 168.51,328.40 167.91,328.40 167.30,328.40 166.70,328.40 166.09,328.40 165.49,328.40 164.89,328.40 164.28,328.40 163.68,328.40 163.08,328.40 162.47,328.40 161.87,328.40 161.26,328.40 160.66,328.40 160.06,328.40 159.45,328.40 158.85,328.40 158.25,328.40 157.64,328.40 157.04,328.40 156.44,328.40 155.83,328.40 155.23,328.40 154.62,328.40 154.02,328.40 153.42,328.40 152.81,328.40 152.21,328.40 151.61,328.40 151.00,328.40 150.40,328.40 149.79,328.40 149.19,328.40 148.59,328.40 147.98,328.40 147.38,328.40 146.78,328.40 146.17,328.40 145.57,328.40 144.96,328.40 144.36,328.40 143.76,328.40 143.15,328.40 142.55,328.40 142.01,328.38 141.46,328.34 140.92,328.28 140.38,328.20 139.83,328.10 139.29,328.01 138.75,327.92 138.20,327.83 137.66,327.76 137.08,327.69 136.51,327.62 135.93,327.56 135.36,327.49 134.78,327.43 134.21,327.37 133.63,327.31 133.06,327.25 132.48,327.19 131.91,327.13 131.33,327.07 130.76,327.02 130.18,326.96 129.61,326.90 129.03,326.84 128.46,326.78 127.88,326.73 127.28,326.66 126.68,326.60 126.08,326.54 125.48,326.48 124.88,326.41 124.28,326.35 123.68,326.29 123.08,326.22 122.48,326.16 121.88,326.10 121.28,326.03 120.68,325.97 120.08,325.91 119.48,325.85 118.88,325.79 118.28,325.74 117.68,325.68 117.08,325.63 116.48,325.58 115.88,325.53 115.28,325.48 114.68,325.44 114.08,325.40 113.48,325.35 112.87,325.31 112.27,325.28 111.67,325.24 111.07,325.20 110.47,325.17 109.87,325.13 109.27,325.10 108.67,325.06 108.07,325.03 107.47,325.00 106.87,324.97 106.27,324.94 105.67,324.91 105.06,324.88 104.46,324.85 103.86,324.82 103.26,324.79 102.66,324.76 102.06,324.73 101.46,324.70 100.86,324.67 100.26,324.64 99.66,324.61 99.06,324.58 98.46,324.55 97.86,324.52 97.25,324.49 96.65,324.45 96.05,324.42 95.45,324.39 94.85,324.35 94.25,324.32 93.65,324.28 93.06,324.24 92.48,324.21 91.89,324.17 91.30,324.13 90.72,324.09 90.13,324.05 89.54,324.01 88.96,323.97 88.37,323.93 87.78,323.89 87.20,323.85 86.61,323.81 86.02,323.77 85.43,323.72 84.85,323.68 84.26,323.64 83.67,323.60 83.09,323.55 82.50,323.51 81.91,323.47 81.33,323.42 80.74,323.38 80.15,323.34 79.57,323.29 78.98,323.25 78.38,323.20 77.78,323.16 77.19,323.12 76.59,323.07 75.99,323.03 75.39,322.98 74.80,322.93 74.20,322.89 73.60,322.84 73.00,322.80 72.41,322.75 71.81,322.70 71.21,322.66 70.61,322.61 70.02,322.56 69.42,322.51 68.82,322.47 68.22,322.42 67.62,322.37 67.03,322.32 66.43,322.27 65.83,322.22 65.23,322.17 64.64,322.12 64.04,322.07 63.44,322.01 62.84,321.96 62.24,321.91 61.64,321.85 61.04,321.80 60.44,321.74 59.84,321.68 59.24,321.62 58.64,321.56 58.04,321.50 57.44,321.44 56.84,321.38 56.24,321.32 55.64,321.26 55.04,321.20 54.44,321.14 53.84,321.07 53.24,321.01 52.64,320.96 52.04,320.90 51.44,320.84 50.84,320.78 50.24,320.73 49.64,320.67 49.03,320.62 48.43,320.57 47.82,320.51 47.22,320.46 46.61,320.41 46.01,320.35 45.40,320.30 44.80,320.25 44.19,320.20 43.59,320.15 42.98,320.10 42.37,320.05 41.77,320.00 41.16,319.95 40.56,319.90 39.95,319.86 39.35,319.81 38.74,319.77 38.14,319.72 37.53,319.68 36.93,319.64 36.33,319.61 35.73,319.58 35.14,319.55 34.54,319.52 33.95,319.50 33.35,319.48 32.75,319.46 32.16,319.44 31.56,319.41 30.97,319.39 30.37,319.36 29.77,319.32 29.18,319.28 28.58,319.24 27.99,319.19 27.39,319.13 26.86,319.05 26.33,318.93 25.80,318.77 25.27,318.58 24.74,318.35 24.21,318.10 23.72,317.83 23.23,317.48 22.75,317.01 22.26,316.38 21.77,315.52 21.40,314.53 21.03,311.66 20.79,251.14 20.30,215.09 19.86,215.09" fill="#ff0000" fill-opacity="0.416"/>
<polyline points="20.40,208.65 20.85,210.94 21.31,213.00 21.77,214.45 22.33,215.56 22.88,216.49 23.44,217.26 24.00,217.92 24.56,218.51 25.12,219.05 25.68,219.60 26.22,220.12 26.77,220.60 27.31,221.05 27.85,221.48 28.40,221.89 28.94,222.28 29.48,222.67 30.03,223.06 30.57,223.46 31.15,223.87 31.72,224.27 32.30,224.65 32.88,225.03 33.46,225.40 34.04,225.77 34.61,226.15 35.19,226.54 35.77,226.95 36.35,227.38 36.93,227.84 37.50,228.33 38.08,228.84 38.66,229.39 39.24,229.95 39.82,230.54 40.39,231.14 40.97,231.75 41.55,232.38 42.13,233.01 42.71,233.64 43.28,234.28 43.86,234.91 44.44,235.56 45.02,236.21 45.59,236.88 46.17,237.56 46.75,238.24 47.33,238.94 47.91,239.65 48.48,240.38 49.06,241.12 49.64,241.87 50.21,242.64 50.78,243.43 51.35,244.24 51.92,245.07 52.49,245.91 53.06,246.77 53.63,247.62 54.20,248.48 54.77,249.34 55.38,250.26 55.98,251.19 56.58,252.15 57.19,253.12 57.79,254.09 58.39,255.07 59.00,256.05 59.60,257.03 60.20,258.00 60.81,258.95 61.41,259.89 62.01,260.81 62.61,261.70 63.22,262.55 63.82,263.38 64.41,264.16 65.00,264.93 65.60,265.68 66.19,266.43 66.78,267.16 67.37,267.88 67.96,268.60 68.56,269.30 69.15,269.99 69.74,270.67 70.33,271.34 70.92,272.00 71.52,272.65 72.11,273.29 72.70,273.92 73.29,274.55 73.88,275.17 74.48,275.78 75.07,276.38 75.66,276.98 76.26,277.57 76.85,278.16 77.45,278.74 78.04,279.31 78.64,279.88 79.24,280.44 79.83,281.00 80.43,281.54 81.02,282.09 81.62,282.62 82.21,283.15 82.81,283.68 83.40,284.20 84.00,284.71 84.59,285.22 85.19,285.72 85.78,286.22 86.38,286.71 86.97,287.19 87.57,287.67 88.16,288.14 88.76,288.61 89.36,289.08 89.95,289.53 90.55,289.99 91.14,290.44 91.74,290.88 92.33,291.32 92.93,291.76 93.52,292.19 94.12,292.61 94.71,293.03 95.31,293.45 95.90,293.86 96.50,294.27 97.09,294.68 97.69,295.08 98.28,295.47 98.88,295.87 99.48,296.25 100.07,296.64 100.67,297.02 101.26,297.40 101.86,297.77 102.45,298.14 103.03,298.50 103.62,298.86 104.20,299.22 104.78,299.57 105.36,299.92 105.94,300.28 106.53,300.62 107.11,300.97 107.69,301.31 108.27,301.65 108.86,301.98 109.44,302.30 110.02,302.63 110.60,302.94 111.18,303.25 111.77,303.56 112.35,303.85 112.93,304.14 113.51,304.43 114.09,304.70 114.68,304.97 115.28,305.23 115.88,305.49 116.48,305.74 117.08,305.98 117.69,306.21 118.29,306.44 118.89,306.66 119.49,306.88 120.09,307.10 120.70,307.31 121.30,307.51 121.90,307.72 122.50,307.93 123.10,308.13 123.70,308.33 124.31,308.54 124.91,308.74 125.51,308.95 126.11,309.16 126.71,309.37 127.32,309.59 127.92,309.81 128.52,310.04 129.12,310.27 129.72,310.51 130.32,310.76 130.92,311.00 131.51,311.22 132.11,311.43 132.70,311.64 133.29,311.85 133.89,312.06 134.48,312.28 135.08,312.52 135.67,312.79 136.26,313.08 136.86,313.40 137.45,313.76 138.04,314.17 138.64,314.62 139.21,315.27 139.78,316.21 140.35,317.34 140.92,318.58 141.49,319.81 142.06,320.93 142.63,322.06 143.20,323.30 143.77,324.54 144.34,325.66 144.91,326.55 145.48,327.11 146.05,327.45 146.62,327.76 147.20,328.02 147.77,328.22 148.34,328.35 148.91,328.40 149.51,328.40 150.12,328.40 150.73,328.40 151.34,328.40 151.95,328.40 152.55,328.40 153.16,328.40 153.77,328.40 154.38,328.40 154.98,328.40 155.59,328.40 156.20,328.40 156.81,328.40 157.42,328.40 158.02,328.40 158.63,328.40 159.24,328.40 159.85,328.40 160.45,328.40 161.06,328.40 161.67,328.40 162.28,328.40 162.89,328.40 163.49,328.40 164.10,328.40 164.71,328.40 165.32,328.40 165.92,328.40 166.53,328.40 167.14,328.40 167.75,328.40 168.36,328.40 168.96,328.40 169.57,328.40 170.18,328.40 170.79,328.40 171.39,328.40 172.00,328.40 172.61,328.40 173.22,328.40 173.83,328.40 174.43,328.40 175.04,328.40 175.65,328.40 176.26,328.40 176.86,328.40 177.47,328.40 178.08,328.40 178.69,328.40 179.29,328.40 179.90,328.40 180.51,328.40 181.12,328.40 181.73,328.40 182.33,328.40 182.94,328.40 183.55,328.40 184.16,328.40 184.76,328.40 185.37,328.40 185.98,328.40 186.59,328.40 187.20,328.40 187.80,328.40 188.41,328.40 189.02,328.40 189.63,328.40 190.23,328.40 190.84,328.40 191.45,328.40" fill="none" stroke="#00e8e8" stroke-width="0.8" stroke-opacity="1" stroke-linejoin="round"/>
<polygon points="19.86,199.64 20.30,199.64 20.91,199.64 21.52,199.64 22.12,199.64 22.73,199.64 23.34,199.64 23.95,199.64 24.56,199.64 25.17,199.64 25.77,199.64 26.38,199.64 26.99,199.64 27.60,199.64 28.21,199.64 28.82,199.64 29.42,199.64 30.03,199.64 30.64,199.64 31.25,199.64 31.86,199.64 32.47,199.64 33.07,199.64 33.68,199.64 34.29,199.64 34.90,199.64 35.51,199.64 36.11,199.64 36.72,199.64 37.33,199.64 37.94,199.64 38.55,199.64 39.16,199.64 39.76,199.64 40.37,199.64 40.98,199.64 41.59,199.64 42.20,199.64 42.81,199.64 43.41,199.64 44.02,199.64 44.63,199.64 45.24,199.64 45.81,199.86 46.38,200.48 46.94,201.40 47.51,202.54 48.08,203.81 48.65,205.11 49.22,206.37 49.79,207.49 50.35,208.52 50.91,209.58 51.47,210.67 52.03,211.76 52.58,212.86 53.14,213.94 53.70,215.00 54.26,216.03 54.82,217.02 55.38,217.95 55.93,218.85 56.49,219.73 57.04,220.59 57.59,221.43 58.15,222.28 58.70,223.13 59.26,223.99 59.81,224.88 60.42,225.87 61.03,226.89 61.64,227.91 62.25,228.94 62.85,229.98 63.46,231.01 64.07,232.03 64.68,233.03 65.29,234.02 65.87,234.95 66.46,235.87 67.05,236.77 67.64,237.67 68.22,238.56 68.81,239.45 69.40,240.34 69.98,241.23 70.57,242.13 71.16,243.03 71.74,243.95 72.33,244.89 72.92,245.84 73.50,246.80 74.09,247.75 74.68,248.69 75.26,249.61 75.85,250.50 76.44,251.36 77.02,252.17 77.63,252.97 78.23,253.75 78.83,254.51 79.43,255.25 80.03,255.98 80.64,256.69 81.24,257.38 81.84,258.06 82.44,258.73 83.04,259.39 83.64,260.04 84.25,260.68 84.85,261.32 85.44,261.93 86.04,262.52 86.63,263.10 87.22,263.67 87.82,264.23 88.41,264.78 89.00,265.32 89.60,265.86 90.19,266.40 90.79,266.95 91.38,267.49 91.97,268.04 92.57,268.60 93.16,269.17 93.72,269.71 94.28,270.26 94.84,270.81 95.40,271.36 95.96,271.91 96.51,272.47 97.07,273.03 97.65,273.63 98.23,274.24 98.82,274.87 99.40,275.51 99.98,276.16 100.56,276.80 101.14,277.45 101.72,278.10 102.30,278.74 102.88,279.36 103.46,279.98 104.04,280.57 104.62,281.14 105.20,281.69 105.78,282.20 106.36,282.69 106.95,283.15 107.54,283.59 108.12,284.02 108.71,284.43 109.30,284.82 109.88,285.21 110.47,285.58 111.06,285.95 111.65,286.31 112.23,286.67 112.82,287.03 113.41,287.39 113.99,287.75 114.58,288.11 115.17,288.48 115.75,288.85 116.33,289.22 116.91,289.59 117.49,289.95 118.07,290.31 118.65,290.67 119.23,291.02 119.81,291.38 120.39,291.74 120.97,292.10 121.55,292.45 122.13,292.81 122.71,293.18 123.30,293.54 123.88,293.91 124.46,294.28 125.04,294.65 125.63,295.03 126.22,295.40 126.80,295.78 127.39,296.15 127.98,296.53 128.56,296.91 129.15,297.29 129.74,297.67 130.32,298.06 130.91,298.45 131.50,298.85 132.09,299.25 132.67,299.66 133.26,300.07 133.85,300.48 134.43,300.89 135.02,301.29 135.61,301.69 136.19,302.11 136.78,302.54 137.37,303.00 137.95,303.49 138.54,304.01 139.13,304.58 139.62,305.10 140.10,305.67 140.59,306.31 141.08,307.01 141.57,307.80 142.06,308.72 142.55,309.79 143.04,311.00 143.53,312.30 144.02,313.76 144.51,315.41 145.00,317.17 145.48,319.00 145.97,321.16 146.46,323.43 146.95,325.05 147.44,326.00 147.93,326.76 148.42,327.35 148.91,327.76 149.40,328.06 149.88,328.30 150.37,328.40 150.98,328.40 151.58,328.40 152.19,328.40 152.79,328.40 153.39,328.40 154.00,328.40 154.60,328.40 155.21,328.40 155.81,328.40 156.41,328.40 157.02,328.40 157.62,328.40 158.23,328.40 158.83,328.40 159.43,328.40 160.04,328.40 160.64,328.40 161.25,328.40 161.85,328.40 162.46,328.40 163.06,328.40 163.66,328.40 164.27,328.40 164.87,328.40 165.48,328.40 166.08,328.40 166.68,328.40 167.29,328.40 167.89,328.40 168.50,328.40 169.10,328.40 169.70,328.40 170.31,328.40 170.91,328.40 171.52,328.40 172.12,328.40 172.72,328.40 173.33,328.40 173.93,328.40 174.54,328.40 175.14,328.40 175.74,328.40 176.35,328.40 176.95,328.40 177.56,328.40 178.16,328.40 178.76,328.40 179.37,328.40 179.97,328.40 180.58,328.40 181.18,328.40 181.79,328.40 182.39,328.40 182.99,328.40 183.60,328.40 184.20,328.40 184.81,328.40 185.41,328.40 186.01,328.40 186.62,328.40 187.22,328.40 187.83,328.40 188.43,328.40 189.03,328.40 189.64,328.40 190.24,328.40 190.85,328.40 191.45,328.40 191.45,328.40 190.85,328.40 190.24,328.40 189.64,328.40 189.03,328.40 188.43,328.40 187.82,328.40 187.22,328.40 186.61,328.40 186.01,328.40 185.40,328.40 184.80,328.40 184.19,328.40 183.59,328.40 182.98,328.40 182.38,328.40 181.77,328.40 181.17,328.40 180.56,328.40 179.96,328.40 179.35,328.40 178.75,328.40 178.14,328.40 177.54,328.40 176.93,328.40 176.33,328.40 175.72,328.40 175.12,328.40 174.52,328.40 173.91,328.40 173.31,328.40 172.70,328.40 172.10,328.40 171.49,328.40 170.89,328.40 170.28,328.40 169.68,328.40 169.07,328.40 168.47,328.40 167.86,328.40 167.26,328.40 166.65,328.40 166.05,328.40 165.44,328.40 164.84,328.40 164.23,328.40 163.63,328.40 163.02,328.40 162.42,328.40 161.81,328.40 161.21,328.40 160.60,328.40 160.00,328.40 159.39,328.40 158.79,328.40 158.19,328.40 157.58,328.40 156.98,328.40 156.37,328.40 155.77,328.40 155.16,328.40 154.56,328.40 153.95,328.40 153.35,328.40 152.74,328.40 152.14,328.40 151.53,328.40 150.93,328.40 150.32,328.40 149.72,328.40 149.11,328.40 148.51,328.40 147.90,328.40 147.30,328.40 146.69,328.40 146.09,328.40 145.48,328.40 144.90,328.17 144.31,327.61 143.72,326.91 143.14,326.25 142.55,325.82 142.01,325.61 141.46,325.42 140.92,325.25 140.38,325.10 139.83,324.97 139.29,324.85 138.75,324.74 138.20,324.64 137.66,324.54 137.08,324.44 136.51,324.34 135.93,324.25 135.36,324.17 134.78,324.08 134.21,324.01 133.63,323.93 133.06,323.86 132.48,323.79 131.91,323.73 131.33,323.66 130.76,323.59 130.18,323.53 129.61,323.46 129.03,323.39 128.46,323.32 127.88,323.25 127.28,323.17 126.68,323.10 126.08,323.03 125.48,322.95 124.88,322.88 124.28,322.81 123.68,322.75 123.08,322.68 122.48,322.61 121.88,322.54 121.28,322.47 120.68,322.40 120.08,322.33 119.48,322.25 118.88,322.18 118.28,322.10 117.68,322.02 117.08,321.94 116.48,321.85 115.88,321.76 115.28,321.67 114.68,321.58 114.10,321.48 113.53,321.37 112.95,321.27 112.38,321.15 111.80,321.03 111.23,320.91 110.65,320.78 110.07,320.65 109.50,320.52 108.92,320.38 108.35,320.24 107.77,320.10 107.20,319.96 106.62,319.82 106.05,319.67 105.47,319.53 104.90,319.39 104.32,319.24 103.74,319.10 103.15,318.96 102.57,318.81 101.99,318.67 101.41,318.52 100.83,318.37 100.25,318.22 99.67,318.07 99.09,317.91 98.51,317.74 97.93,317.57 97.35,317.39 96.77,317.21 96.19,317.01 95.61,316.81 95.01,316.60 94.42,316.37 93.82,316.13 93.22,315.89 92.63,315.63 92.03,315.37 91.44,315.10 90.84,314.82 90.25,314.53 89.65,314.23 89.06,313.93 88.46,313.61 87.87,313.29 87.27,312.97 86.68,312.63 86.08,312.29 85.49,311.94 84.89,311.59 84.30,311.23 83.70,310.86 83.10,310.49 82.51,310.11 81.91,309.73 81.33,309.33 80.74,308.90 80.15,308.44 79.57,307.97 78.98,307.48 78.39,306.99 77.81,306.51 77.20,306.02 76.60,305.54 76.00,305.06 75.40,304.58 74.80,304.10 74.20,303.62 73.60,303.14 72.99,302.65 72.39,302.16 71.79,301.66 71.19,301.16 70.59,300.66 69.99,300.14 69.39,299.61 68.78,299.08 68.18,298.53 67.58,297.97 66.98,297.40 66.38,296.81 65.78,296.21 65.21,295.62 64.64,295.02 64.07,294.39 63.50,293.75 62.93,293.09 62.36,292.41 61.79,291.73 61.22,291.02 60.65,290.31 60.08,289.58 59.51,288.84 58.94,288.08 58.38,287.32 57.81,286.55 57.20,285.69 56.59,284.77 55.98,283.82 55.38,282.86 54.77,281.91 54.16,280.98 53.55,280.11 53.01,279.37 52.48,278.64 51.94,277.91 51.40,277.21 50.86,276.55 50.32,275.92 49.79,275.35 49.26,274.84 48.73,274.37 48.20,273.93 47.67,273.50 47.14,273.08 46.61,272.65 46.01,272.14 45.40,271.64 44.80,271.14 44.20,270.65 43.59,270.15 42.99,269.66 42.39,269.17 41.78,268.68 41.18,268.19 40.58,267.70 39.97,267.21 39.37,266.72 38.76,266.24 38.16,265.77 37.55,265.31 36.94,264.85 36.34,264.39 35.73,263.93 35.12,263.47 34.51,262.99 33.91,262.50 33.30,262.00 32.69,261.48 32.08,260.93 31.48,260.39 30.87,259.87 30.26,259.35 29.66,258.84 29.05,258.31 28.44,257.74 27.83,257.14 27.23,256.47 26.62,255.73 26.01,254.91 25.41,253.98 24.80,252.95 24.19,251.59 23.59,249.77 22.98,247.54 22.37,244.97 21.77,242.13 21.28,239.94 20.79,235.69 20.30,210.45 19.86,210.45" fill="#00ffff" fill-opacity="0.4"/>
</g>
<g font-family="'Liberation Sans', Arial, Helvetica, sans-serif" font-size="4.9" fill="#262626" stroke="#262626" stroke-width="0.04">
<text x="20.30" y="335.60" text-anchor="middle">0</text>
<text x="44.75" y="335.60" text-anchor="middle">5</text>
<text x="69.20" y="335.60" text-anchor="middle">10</text>
<text x="93.65" y="335.60" text-anchor="middle">15</text>
<text x="118.10" y="335.60" text-anchor="middle">20</text>
<text x="142.55" y="335.60" text-anchor="middle">25</text>
<text x="167.00" y="335.60" text-anchor="middle">30</text>
<text x="191.45" y="335.60" text-anchor="middle">35</text>
<text x="18.50" y="330.80" text-anchor="end">0</text>
<text x="18.50" y="317.92" text-anchor="end">10</text>
<text x="18.50" y="305.05" text-anchor="end">20</text>
<text x="18.50" y="292.17" text-anchor="end">30</text>
<text x="18.50" y="279.30" text-anchor="end">40</text>
<text x="18.50" y="266.42" text-anchor="end">50</text>
<text x="18.50" y="253.54" text-anchor="end">60</text>
<text x="18.50" y="240.67" text-anchor="end">70</text>
<text x="18.50" y="227.79" text-anchor="end">80</text>
<text x="18.50" y="214.91" text-anchor="end">90</text>
<text x="18.50" y="202.04" text-anchor="end">100</text>
<text x="192.95" y="330.20">0</text>
<text x="192.95" y="317.32">0.1</text>
<text x="192.95" y="304.45">0.2</text>
<text x="192.95" y="291.57">0.3</text>
<text x="192.95" y="278.70">0.4</text>
<text x="192.95" y="265.82">0.5</text>
<text x="192.95" y="252.94">0.6</text>
<text x="192.95" y="240.07">0.7</text>
<text x="192.95" y="227.19">0.8</text>
<text x="192.95" y="214.31">0.9</text>
<text x="192.95" y="201.44">1</text>
</g>
<text font-family="'Liberation Sans', Arial, Helvetica, sans-serif" font-size="5.3" fill="#262626" stroke="#262626" stroke-width="0.05" x="105.88" y="342.30" text-anchor="middle">Dose (GyE)</text>
<text font-family="'Liberation Sans', Arial, Helvetica, sans-serif" font-size="5.3" fill="#262626" stroke="#262626" stroke-width="0.05" text-anchor="middle" transform="translate(6.90,260.50) rotate(-90)">Volume (%)</text>
<text font-family="'Liberation Sans', Arial, Helvetica, sans-serif" font-size="5.3" fill="#262626" stroke="#262626" stroke-width="0.05" text-anchor="middle" transform="translate(206.25,260.80) rotate(-90)">P-Value</text>
<text font-family="'Liberation Sans', Arial, Helvetica, sans-serif" font-size="5.3" font-weight="bold" fill="#000" stroke="#000" stroke-width="0.2" x="105.88" y="191.00" text-anchor="middle">Bowel</text>
<text font-family="'Liberation Serif', 'Times New Roman', serif" font-size="9" font-weight="bold" fill="#000" x="102.17" y="359.30" text-anchor="middle">(C)</text>
<rect x="86.12" y="195.80" width="39.2" height="28.8" fill="#fff" stroke="#c4c4c4" stroke-width="0.5"/>
<line x1="87.03" x2="96.53" y1="199.50" y2="199.50" stroke="#ff5a5a" stroke-width="0.6"/>
<rect x="87.03" y="203.25" width="9.50" height="3.6" fill="#f00" fill-opacity="0.46599999999999997"/>
<line x1="87.03" x2="96.53" y1="210.60" y2="210.60" stroke="#40f0f0" stroke-width="0.6"/>
<rect x="87.03" y="214.35" width="9.50" height="3.6" fill="#0ff" fill-opacity="0.45"/>
<line x1="87.03" x2="96.53" y1="221.70" y2="221.70" stroke="#bbb" stroke-width="0.5"/>
<g font-family="'Liberation Sans', Arial, Helvetica, sans-serif" font-size="4.4" fill="#262626" stroke="#262626" stroke-width="0.04">
<text x="98.33" y="201.05">IMPT</text>
<text x="98.33" y="206.60">IMPT+St-Dev</text>
<text x="98.33" y="212.15">IMRT</text>
<text x="98.33" y="217.70">IMRT+St-Dev</text>
<text x="98.33" y="223.25">P-Value</text>
</g>
<path d="M247.30 193.20H418.45" stroke="#c6c6c6" stroke-width="0.6" fill="none"/><path d="M247.30 193.20V328.40H418.45V193.20" stroke="#a4a4a4" stroke-width="0.6" fill="none"/>
<path d="M247.30 328.40v-1.5M247.30 193.20v1.5M271.75 328.40v-1.5M271.75 193.20v1.5M296.20 328.40v-1.5M296.20 193.20v1.5M320.65 328.40v-1.5M320.65 193.20v1.5M345.10 328.40v-1.5M345.10 193.20v1.5M369.55 328.40v-1.5M369.55 193.20v1.5M394.00 328.40v-1.5M394.00 193.20v1.5M418.45 328.40v-1.5M418.45 193.20v1.5M247.30 328.40h1.5M418.45 328.40h-1.5M247.30 315.52h1.5M418.45 315.52h-1.5M247.30 302.65h1.5M418.45 302.65h-1.5M247.30 289.77h1.5M418.45 289.77h-1.5M247.30 276.90h1.5M418.45 276.90h-1.5M247.30 264.02h1.5M418.45 264.02h-1.5M247.30 251.14h1.5M418.45 251.14h-1.5M247.30 238.27h1.5M418.45 238.27h-1.5M247.30 225.39h1.5M418.45 225.39h-1.5M247.30 212.51h1.5M418.45 212.51h-1.5M247.30 199.64h1.5M418.45 199.64h-1.5" stroke="#909090" stroke-width="0.5" fill="none"/>
<clipPath id="c11"><rect x="246.95" y="192.85" width="171.85" height="135.90"/></clipPath>
<g clip-path="url(#c11)">
<polyline points="247.30,328.40 247.79,328.32 248.28,328.21 248.77,328.08 249.26,327.92 249.75,327.76 250.33,327.48 250.92,327.12 251.51,326.73 252.09,326.36 252.68,326.08 253.22,325.88 253.77,325.69 254.31,325.51 254.85,325.35 255.40,325.20 255.94,325.06 256.48,324.95 257.03,324.86 257.57,324.79 258.17,324.74 258.78,324.69 259.39,324.64 259.99,324.59 260.60,324.55 261.20,324.51 261.81,324.47 262.41,324.44 263.02,324.40 263.62,324.37 264.23,324.34 264.83,324.32 265.44,324.29 266.05,324.27 266.65,324.25 267.26,324.23 267.86,324.21 268.47,324.19 269.07,324.18 269.68,324.16 270.28,324.15 270.89,324.14 271.51,324.13 272.12,324.12 272.73,324.11 273.34,324.10 273.95,324.09 274.56,324.08 275.17,324.08 275.78,324.07 276.40,324.07 277.01,324.06 277.62,324.06 278.23,324.05 278.84,324.05 279.45,324.04 280.06,324.04 280.67,324.04 281.29,324.03 281.90,324.03 282.51,324.02 283.12,324.01 283.73,324.01 284.34,324.00 284.95,323.99 285.56,323.98 286.18,323.98 286.79,323.96 287.40,323.95 288.01,323.94 288.62,323.93 289.23,323.91 289.84,323.89 290.42,323.86 291.00,323.80 291.58,323.71 292.15,323.61 292.73,323.48 293.31,323.34 293.89,323.20 294.47,323.05 295.04,322.90 295.62,322.75 296.20,322.61 296.78,322.46 297.36,322.31 297.95,322.14 298.53,321.97 299.11,321.79 299.69,321.60 300.28,321.41 300.86,321.21 301.44,321.02 302.02,320.82 302.60,320.62 303.19,320.43 303.77,320.24 304.35,320.05 304.93,319.87 305.51,319.70 306.10,319.54 306.68,319.38 307.26,319.24 307.84,319.11 308.43,319.00 309.03,318.89 309.64,318.78 310.24,318.67 310.85,318.56 311.45,318.46 312.06,318.35 312.66,318.25 313.27,318.15 313.87,318.06 314.48,317.97 315.08,317.88 315.69,317.80 316.30,317.72 316.90,317.65 317.51,317.58 318.11,317.52 318.72,317.47 319.32,317.42 319.93,317.38 320.53,317.35 321.14,317.33 321.73,317.31 322.32,317.29 322.91,317.28 323.50,317.26 324.09,317.25 324.68,317.24 325.28,317.23 325.87,317.22 326.46,317.21 327.05,317.20 327.64,317.20 328.23,317.19 328.82,317.18 329.41,317.17 330.00,317.17 330.59,317.16 331.18,317.15 331.77,317.14 332.37,317.13 332.96,317.12 333.55,317.11 334.14,317.10 334.73,317.08 335.32,317.07 335.91,317.05 336.51,317.04 337.10,317.02 337.69,317.00 338.28,316.98 338.88,316.97 339.47,316.95 340.06,316.93 340.65,316.90 341.25,316.88 341.84,316.86 342.43,316.83 343.03,316.81 343.62,316.78 344.21,316.75 344.80,316.72 345.40,316.69 345.99,316.66 346.58,316.62 347.17,316.59 347.77,316.55 348.36,316.51 348.95,316.47 349.55,316.42 350.14,316.37 350.73,316.33 351.32,316.27 351.92,316.22 352.51,316.16 353.10,316.10 353.69,316.04 354.29,315.98 354.88,315.91 355.44,315.84 356.01,315.75 356.57,315.64 357.14,315.50 357.70,315.35 358.27,315.16 358.83,314.95 359.39,314.71 359.96,314.43 360.52,314.12 361.09,313.77 361.65,313.38 362.22,312.95 362.70,312.36 363.19,311.39 363.68,310.03 364.17,308.27 364.66,306.12 365.15,301.47 365.64,293.30 366.13,283.31 366.62,273.16 367.11,264.53 367.59,256.99 368.08,249.54 368.57,243.02 369.06,238.27 369.65,234.19 370.23,230.64 370.82,227.71 371.41,225.49 372.00,224.10 372.48,223.35 372.97,222.78 373.46,222.56 374.03,222.75 374.60,223.23 375.17,223.85 375.74,224.47 376.31,224.94 376.88,225.13 377.44,225.10 377.99,225.01 378.54,224.89 379.09,224.73 379.64,224.56 380.19,224.39 380.74,224.23 381.29,224.10 381.86,223.98 382.44,223.86 383.02,223.73 383.60,223.60 384.18,223.48 384.75,223.36 385.33,223.26 385.91,223.16 386.49,223.07 387.07,223.00 387.64,222.94 388.24,222.90 388.85,222.85 389.45,222.81 390.05,222.77 390.65,222.73 391.25,222.69 391.86,222.66 392.46,222.63 393.06,222.60 393.66,222.58 394.26,222.57 394.87,222.56 395.47,222.56 395.71,316.94 396.20,306.12 396.76,306.12 397.32,306.12 397.88,306.12 398.44,306.12 398.99,306.12 399.55,306.12 400.11,306.12 400.36,328.40 400.96,328.40 401.56,328.40 402.17,328.40 402.77,328.40 403.37,328.40 403.98,328.40 404.58,328.40 405.18,328.40 405.78,328.40 406.39,328.40 406.99,328.40 407.59,328.40 408.20,328.40 408.80,328.40 409.40,328.40 410.01,328.40 410.61,328.40 411.21,328.40 411.82,328.40 412.42,328.40 413.02,328.40 413.63,328.40 414.23,328.40 414.83,328.40 415.43,328.40 416.04,328.40 416.64,328.40 417.24,328.40 417.85,328.40 418.45,328.40" fill="none" stroke="#b4b4b4" stroke-width="0.6" stroke-opacity="1" stroke-linejoin="round"/>
<polyline points="247.30,199.64 247.45,264.02 247.79,298.14 248.36,299.99 248.94,300.98 249.51,301.48 250.09,301.88 250.65,302.31 251.21,302.70 251.77,303.04 252.33,303.35 252.89,303.62 253.45,303.86 254.00,304.07 254.56,304.27 255.12,304.45 255.71,304.63 256.30,304.80 256.88,304.96 257.47,305.11 258.06,305.25 258.64,305.38 259.23,305.51 259.82,305.63 260.41,305.74 260.99,305.85 261.58,305.96 262.17,306.07 262.75,306.17 263.34,306.28 263.93,306.38 264.53,306.49 265.14,306.59 265.74,306.69 266.35,306.78 266.95,306.86 267.56,306.95 268.16,307.03 268.77,307.11 269.37,307.19 269.98,307.27 270.59,307.35 271.19,307.43 271.80,307.51 272.40,307.60 273.01,307.69 273.61,307.78 274.22,307.87 274.82,307.97 275.43,308.08 276.03,308.19 276.64,308.31 277.22,308.44 277.80,308.58 278.37,308.73 278.95,308.90 279.53,309.07 280.11,309.24 280.69,309.42 281.26,309.60 281.84,309.78 282.42,309.95 283.00,310.12 283.57,310.28 284.14,310.44 284.71,310.61 285.28,310.77 285.85,310.94 286.42,311.10 286.99,311.26 287.56,311.43 288.13,311.59 288.70,311.74 289.27,311.90 289.84,312.05 290.42,312.20 291.00,312.35 291.58,312.51 292.15,312.66 292.73,312.82 293.31,312.96 293.89,313.11 294.47,313.24 295.04,313.37 295.62,313.49 296.20,313.59 296.78,313.69 297.36,313.78 297.95,313.87 298.53,313.95 299.11,314.03 299.69,314.11 300.28,314.18 300.86,314.25 301.44,314.31 302.02,314.38 302.60,314.45 303.19,314.51 303.77,314.57 304.35,314.64 304.93,314.70 305.51,314.77 306.10,314.84 306.68,314.91 307.26,314.98 307.84,315.06 308.43,315.14 309.01,315.22 309.59,315.31 310.17,315.40 310.75,315.49 311.34,315.58 311.92,315.68 312.50,315.77 313.08,315.87 313.66,315.97 314.25,316.06 314.83,316.16 315.41,316.26 315.99,316.36 316.57,316.45 317.16,316.55 317.74,316.64 318.32,316.73 318.90,316.82 319.49,316.91 320.07,316.99 320.65,317.07 321.23,317.15 321.81,317.22 322.40,317.30 322.98,317.37 323.56,317.44 324.14,317.51 324.73,317.58 325.31,317.65 325.89,317.71 326.47,317.78 327.05,317.84 327.64,317.91 328.22,317.97 328.80,318.04 329.38,318.10 329.96,318.17 330.55,318.23 331.13,318.29 331.71,318.36 332.29,318.42 332.88,318.49 333.47,318.55 334.06,318.62 334.66,318.68 335.25,318.74 335.85,318.81 336.44,318.87 337.04,318.93 337.63,318.99 338.23,319.05 338.82,319.11 339.42,319.17 340.01,319.23 340.61,319.29 341.20,319.35 341.80,319.41 342.39,319.47 342.99,319.53 343.58,319.59 344.17,319.64 344.77,319.70 345.36,319.76 345.96,319.82 346.55,319.88 347.15,319.95 347.74,320.01 348.34,320.07 348.93,320.13 349.53,320.20 350.12,320.26 350.72,320.32 351.31,320.39 351.91,320.46 352.50,320.52 353.10,320.59 353.69,320.66 354.29,320.73 354.88,320.80 355.47,320.87 356.05,320.94 356.64,321.01 357.23,321.08 357.81,321.15 358.40,321.21 358.99,321.28 359.57,321.35 360.16,321.41 360.75,321.48 361.33,321.55 361.92,321.63 362.51,321.70 363.10,321.78 363.68,321.86 364.27,321.94 364.86,322.02 365.44,322.11 366.03,322.21 366.62,322.30 367.20,322.41 367.79,322.51 368.38,322.62 368.96,322.74 369.55,322.86 370.09,323.00 370.64,323.16 371.18,323.34 371.72,323.54 372.27,323.75 372.81,323.96 373.35,324.17 373.90,324.36 374.44,324.54 375.00,324.71 375.57,324.87 376.13,325.04 376.70,325.20 377.26,325.35 377.83,325.51 378.39,325.66 378.95,325.81 379.52,325.95 380.08,326.09 380.65,326.22 381.21,326.35 381.77,326.47 382.34,326.59 382.90,326.70 383.47,326.81 384.03,326.92 384.60,327.02 385.16,327.12 385.72,327.22 386.29,327.31 386.85,327.41 387.42,327.50 387.98,327.58 388.55,327.67 389.11,327.76 389.65,327.84 390.20,327.91 390.74,327.99 391.28,328.06 391.83,328.13 392.37,328.20 392.91,328.27 393.46,328.34 394.00,328.40" fill="none" stroke="#f5404f" stroke-width="0.85" stroke-opacity="1" stroke-linejoin="round"/>
<polygon points="246.86,259.90 247.30,259.90 247.89,261.06 248.47,262.18 249.06,263.24 249.65,264.21 250.23,265.07 250.82,265.78 251.41,266.34 251.97,266.76 252.53,267.15 253.09,267.50 253.65,267.83 254.21,268.13 254.77,268.40 255.33,268.64 255.89,268.87 256.45,269.07 257.01,269.26 257.57,269.43 258.15,269.59 258.72,269.73 259.30,269.86 259.88,269.98 260.46,270.09 261.04,270.19 261.61,270.29 262.19,270.39 262.77,270.50 263.35,270.60 263.93,270.71 264.50,270.83 265.08,270.95 265.66,271.07 266.24,271.18 266.82,271.30 267.39,271.42 267.97,271.53 268.55,271.65 269.13,271.77 269.71,271.89 270.28,272.00 270.86,272.12 271.44,272.22 272.02,272.32 272.59,272.43 273.17,272.53 273.75,272.63 274.33,272.74 274.91,272.86 275.48,272.99 276.06,273.13 276.64,273.29 277.22,273.47 277.80,273.67 278.37,273.89 278.95,274.13 279.53,274.39 280.11,274.67 280.69,274.98 281.26,275.30 281.84,275.64 282.42,276.00 283.00,276.38 283.56,276.79 284.11,277.27 284.67,277.80 285.23,278.38 285.79,278.98 286.35,279.61 286.91,280.24 287.50,280.95 288.08,281.72 288.67,282.53 289.26,283.33 289.84,284.11 290.33,284.77 290.82,285.45 291.31,286.07 291.80,286.55 292.39,287.00 292.97,287.42 293.56,287.81 294.15,288.17 294.73,288.50 295.32,288.82 295.91,289.11 296.49,289.38 297.08,289.64 297.67,289.89 298.25,290.14 298.84,290.37 299.43,290.60 300.01,290.83 300.60,291.06 301.17,291.28 301.74,291.48 302.31,291.67 302.88,291.85 303.45,292.03 304.02,292.22 304.62,292.42 305.21,292.61 305.80,292.81 306.39,293.01 306.99,293.22 307.58,293.42 308.17,293.62 308.76,293.82 309.35,294.02 309.95,294.22 310.54,294.42 311.13,294.62 311.72,294.82 312.32,295.02 312.91,295.22 313.50,295.41 314.09,295.60 314.68,295.79 315.28,295.98 315.87,296.17 316.46,296.35 317.05,296.53 317.65,296.70 318.24,296.87 318.83,297.04 319.42,297.21 320.01,297.37 320.60,297.52 321.18,297.67 321.77,297.82 322.35,297.97 322.93,298.11 323.52,298.25 324.10,298.39 324.69,298.53 325.27,298.66 325.85,298.80 326.44,298.93 327.02,299.06 327.61,299.18 328.19,299.31 328.77,299.44 329.36,299.56 329.94,299.69 330.55,299.81 331.15,299.94 331.76,300.06 332.36,300.18 332.97,300.31 333.57,300.42 334.18,300.54 334.78,300.66 335.39,300.78 336.00,300.89 336.60,301.01 337.21,301.12 337.81,301.23 338.42,301.35 339.02,301.46 339.63,301.57 340.23,301.68 340.84,301.79 341.44,301.91 342.05,302.02 342.65,302.13 343.26,302.24 343.87,302.36 344.47,302.46 345.08,302.57 345.68,302.68 346.29,302.78 346.89,302.89 347.50,302.99 348.10,303.09 348.71,303.20 349.31,303.30 349.92,303.41 350.53,303.52 351.13,303.63 351.74,303.74 352.34,303.85 352.95,303.96 353.55,304.08 354.16,304.20 354.76,304.32 355.37,304.45 355.97,304.58 356.58,304.71 357.18,304.84 357.79,304.97 358.39,305.11 358.99,305.24 359.60,305.38 360.20,305.53 360.81,305.67 361.41,305.82 362.01,305.98 362.62,306.14 363.22,306.30 363.83,306.47 364.43,306.65 365.03,306.83 365.64,307.03 366.19,307.20 366.74,307.37 367.29,307.54 367.84,307.73 368.39,307.94 368.94,308.19 369.49,308.48 370.04,308.83 370.60,309.40 371.16,310.28 371.72,311.38 372.27,312.61 372.83,313.85 373.39,315.03 373.95,316.04 374.53,316.99 375.11,317.97 375.68,318.96 376.26,319.95 376.84,320.90 377.42,321.81 378.00,322.64 378.57,323.38 379.15,323.99 379.73,324.47 380.31,324.79 380.90,325.02 381.49,325.23 382.08,325.43 382.68,325.61 383.27,325.77 383.86,325.92 384.45,326.06 385.04,326.19 385.64,326.31 386.23,326.42 386.82,326.52 387.41,326.62 388.00,326.71 388.60,326.80 389.19,326.89 389.78,326.97 390.37,327.06 390.96,327.15 391.56,327.24 392.14,327.33 392.72,327.43 393.30,327.53 393.88,327.63 394.46,327.73 395.04,327.82 395.62,327.91 396.20,328.00 396.78,328.09 397.36,328.16 397.94,328.23 398.52,328.29 399.10,328.33 399.68,328.37 400.27,328.39 400.85,328.40 401.45,328.40 402.06,328.40 402.67,328.40 403.27,328.40 403.88,328.40 404.49,328.40 405.10,328.40 405.70,328.40 406.31,328.40 406.92,328.40 407.52,328.40 408.13,328.40 408.74,328.40 409.34,328.40 409.95,328.40 410.56,328.40 411.17,328.40 411.77,328.40 412.38,328.40 412.99,328.40 413.59,328.40 414.20,328.40 414.81,328.40 415.41,328.40 416.02,328.40 416.63,328.40 417.24,328.40 417.84,328.40 418.45,328.40 418.45,328.40 247.30,328.40 246.86,328.40" fill="#ff0000" fill-opacity="0.416"/>
<polyline points="247.89,258.87 248.38,263.50 248.98,266.24 249.59,268.35 250.19,269.97 250.80,271.27 251.41,272.39 251.99,273.38 252.58,274.28 253.17,275.10 253.75,275.84 254.34,276.52 254.93,277.15 255.52,277.75 256.10,278.33 256.69,278.90 257.28,279.47 257.84,280.02 258.40,280.55 258.96,281.07 259.52,281.57 260.08,282.06 260.64,282.53 261.20,282.98 261.76,283.42 262.32,283.84 262.88,284.24 263.44,284.62 264.03,285.01 264.63,285.38 265.22,285.74 265.82,286.09 266.42,286.42 267.01,286.75 267.61,287.06 268.20,287.36 268.80,287.66 269.39,287.95 269.99,288.23 270.59,288.50 271.19,288.77 271.79,289.02 272.39,289.27 272.99,289.51 273.59,289.74 274.19,289.97 274.79,290.20 275.39,290.42 275.99,290.65 276.59,290.87 277.19,291.09 277.79,291.31 278.38,291.53 278.98,291.76 279.58,292.00 280.18,292.23 280.78,292.48 281.38,292.73 281.98,292.99 282.57,293.26 283.17,293.53 283.76,293.80 284.36,294.08 284.95,294.36 285.54,294.65 286.14,294.94 286.73,295.23 287.33,295.52 287.92,295.80 288.52,296.09 289.11,296.38 289.71,296.66 290.30,296.94 290.90,297.22 291.49,297.49 292.08,297.75 292.68,298.01 293.28,298.27 293.87,298.52 294.47,298.77 295.07,299.02 295.66,299.27 296.26,299.52 296.86,299.76 297.46,300.00 298.05,300.24 298.65,300.48 299.25,300.71 299.84,300.95 300.44,301.18 301.04,301.41 301.64,301.63 302.23,301.86 302.83,302.08 303.43,302.30 304.02,302.52 304.63,302.74 305.23,302.95 305.84,303.16 306.45,303.37 307.05,303.58 307.66,303.78 308.26,303.98 308.87,304.18 309.47,304.38 310.08,304.58 310.68,304.77 311.29,304.97 311.89,305.17 312.50,305.36 313.11,305.56 313.71,305.76 314.32,305.96 314.92,306.16 315.53,306.36 316.13,306.56 316.74,306.77 317.34,306.98 317.95,307.18 318.55,307.39 319.15,307.60 319.76,307.81 320.36,308.02 320.97,308.23 321.57,308.44 322.17,308.65 322.78,308.86 323.38,309.07 323.99,309.29 324.59,309.50 325.19,309.72 325.80,309.94 326.40,310.15 327.01,310.37 327.61,310.60 328.21,310.83 328.81,311.07 329.41,311.32 330.02,311.56 330.62,311.81 331.22,312.05 331.82,312.29 332.42,312.52 333.03,312.75 333.63,312.96 334.23,313.15 334.83,313.33 335.43,313.50 336.03,313.66 336.64,313.81 337.24,313.95 337.84,314.08 338.44,314.22 339.04,314.35 339.65,314.47 340.25,314.60 340.85,314.73 341.45,314.86 342.05,315.00 342.65,315.14 343.26,315.28 343.87,315.43 344.47,315.58 345.08,315.73 345.68,315.89 346.29,316.04 346.89,316.19 347.50,316.35 348.10,316.50 348.71,316.66 349.31,316.82 349.92,316.97 350.53,317.13 351.13,317.29 351.74,317.44 352.34,317.60 352.95,317.75 353.55,317.90 354.16,318.06 354.76,318.21 355.37,318.36 355.97,318.50 356.58,318.64 357.18,318.77 357.79,318.90 358.39,319.02 358.99,319.14 359.60,319.27 360.20,319.39 360.81,319.52 361.41,319.65 362.01,319.79 362.62,319.93 363.22,320.08 363.83,320.24 364.43,320.42 365.03,320.60 365.64,320.80 366.18,321.01 366.72,321.26 367.27,321.54 367.81,321.84 368.35,322.16 368.90,322.48 369.44,322.80 369.98,323.10 370.53,323.38 371.11,323.67 371.70,323.97 372.29,324.27 372.88,324.57 373.46,324.87 374.05,325.17 374.64,325.46 375.22,325.75 375.81,326.03 376.40,326.29 376.98,326.54 377.57,326.78 378.16,327.00 378.74,327.19 379.33,327.37 379.87,327.52 380.42,327.68 380.96,327.84 381.50,327.99 382.05,328.12 382.59,328.23 383.13,328.32 383.68,328.38 384.22,328.40 384.82,328.40 385.42,328.40 386.02,328.40 386.62,328.40 387.22,328.40 387.82,328.40 388.42,328.40 389.02,328.40 389.62,328.40 390.23,328.40 390.83,328.40 391.43,328.40 392.03,328.40 392.63,328.40 393.23,328.40 393.83,328.40 394.43,328.40 395.03,328.40 395.63,328.40 396.23,328.40 396.83,328.40 397.43,328.40 398.03,328.40 398.63,328.40 399.23,328.40 399.83,328.40 400.43,328.40 401.03,328.40 401.64,328.40 402.24,328.40 402.84,328.40 403.44,328.40 404.04,328.40 404.64,328.40 405.24,328.40 405.84,328.40 406.44,328.40 407.04,328.40 407.64,328.40 408.24,328.40 408.84,328.40 409.44,328.40 410.04,328.40 410.64,328.40 411.24,328.40 411.84,328.40 412.44,328.40 413.05,328.40 413.65,328.40 414.25,328.40 414.85,328.40 415.45,328.40 416.05,328.40 416.65,328.40 417.25,328.40 417.85,328.40 418.45,328.40" fill="none" stroke="#00e8e8" stroke-width="0.8" stroke-opacity="1" stroke-linejoin="round"/>
<polygon points="246.86,199.64 247.30,199.64 247.74,205.40 248.18,209.55 248.66,212.15 249.13,214.14 249.61,215.74 250.09,217.15 250.59,218.54 251.08,219.79 251.58,220.91 252.08,221.92 252.58,222.82 253.14,223.73 253.69,224.59 254.24,225.40 254.80,226.16 255.35,226.88 255.91,227.54 256.46,228.16 257.01,228.73 257.57,229.25 258.15,229.76 258.72,230.24 259.30,230.69 259.88,231.11 260.46,231.51 261.04,231.89 261.61,232.26 262.19,232.61 262.77,232.95 263.35,233.29 263.93,233.63 264.50,233.96 265.08,234.28 265.66,234.58 266.24,234.88 266.82,235.17 267.39,235.45 267.97,235.73 268.55,236.01 269.13,236.29 269.71,236.57 270.28,236.85 270.86,237.13 271.44,237.41 272.02,237.68 272.59,237.95 273.17,238.22 273.75,238.50 274.33,238.77 274.91,239.05 275.48,239.34 276.06,239.63 276.64,239.94 277.22,240.25 277.80,240.57 278.37,240.89 278.95,241.22 279.53,241.55 280.11,241.89 280.69,242.25 281.26,242.61 281.84,242.99 282.42,243.39 283.00,243.80 283.57,244.25 284.14,244.73 284.71,245.26 285.28,245.81 285.85,246.38 286.42,246.96 286.99,247.53 287.56,248.10 288.13,248.66 288.70,249.18 289.27,249.67 289.84,250.11 290.43,250.53 291.02,250.91 291.60,251.27 292.19,251.62 292.78,251.96 293.36,252.29 293.95,252.63 294.54,252.97 295.12,253.33 295.71,253.72 296.32,254.13 296.92,254.56 297.53,255.00 298.13,255.44 298.74,255.89 299.34,256.35 299.95,256.82 300.55,257.29 301.16,257.77 301.77,258.25 302.37,258.74 302.98,259.23 303.58,259.72 304.19,260.21 304.79,260.71 305.40,261.20 306.00,261.69 306.61,262.18 307.21,262.67 307.82,263.15 308.43,263.63 309.03,264.11 309.64,264.59 310.24,265.07 310.85,265.54 311.45,266.02 312.06,266.50 312.66,266.97 313.27,267.45 313.87,267.93 314.48,268.41 315.08,268.89 315.69,269.37 316.30,269.86 316.90,270.34 317.51,270.83 318.11,271.32 318.72,271.81 319.32,272.31 319.93,272.80 320.53,273.30 321.14,273.80 321.73,274.30 322.31,274.79 322.90,275.30 323.49,275.80 324.07,276.31 324.66,276.83 325.25,277.34 325.83,277.86 326.42,278.37 327.01,278.88 327.59,279.39 328.18,279.90 328.77,280.41 329.35,280.91 329.94,281.40 330.55,281.91 331.15,282.42 331.76,282.92 332.36,283.43 332.97,283.94 333.57,284.44 334.18,284.94 334.78,285.44 335.39,285.94 336.00,286.44 336.60,286.94 337.21,287.43 337.81,287.92 338.42,288.41 339.02,288.89 339.63,289.37 340.23,289.85 340.84,290.32 341.44,290.78 342.05,291.25 342.65,291.70 343.26,292.15 343.87,292.60 344.47,293.05 345.08,293.49 345.68,293.92 346.29,294.36 346.89,294.79 347.50,295.21 348.10,295.64 348.71,296.06 349.31,296.48 349.92,296.89 350.53,297.31 351.13,297.72 351.74,298.13 352.34,298.54 352.95,298.95 353.55,299.36 354.16,299.77 354.76,300.18 355.37,300.59 355.97,300.99 356.58,301.39 357.18,301.79 357.79,302.18 358.39,302.57 358.99,302.96 359.60,303.35 360.20,303.73 360.81,304.12 361.41,304.51 362.01,304.90 362.62,305.29 363.22,305.68 363.83,306.07 364.43,306.47 365.03,306.88 365.64,307.28 366.19,307.64 366.74,307.96 367.29,308.27 367.84,308.60 368.39,308.95 368.94,309.35 369.49,309.82 370.04,310.37 370.53,311.10 371.02,312.09 371.51,313.19 372.00,314.24 372.58,315.44 373.17,316.68 373.76,317.90 374.34,319.04 374.93,320.03 375.52,320.94 376.12,321.83 376.71,322.67 377.30,323.45 377.90,324.12 378.49,324.67 379.09,325.05 379.66,325.33 380.24,325.58 380.81,325.81 381.39,326.02 381.97,326.21 382.54,326.39 383.12,326.55 383.70,326.70 384.27,326.83 384.85,326.96 385.43,327.07 386.00,327.18 386.58,327.28 387.15,327.37 387.72,327.46 388.30,327.54 388.87,327.62 389.44,327.70 390.01,327.77 390.58,327.83 391.15,327.89 391.72,327.95 392.29,328.01 392.86,328.05 393.43,328.10 394.00,328.14 394.54,328.18 395.09,328.22 395.63,328.26 396.17,328.30 396.72,328.33 397.26,328.36 397.80,328.38 398.35,328.39 398.89,328.40 399.48,328.40 400.08,328.40 400.67,328.40 401.26,328.40 401.85,328.40 402.45,328.40 403.04,328.40 403.63,328.40 404.22,328.40 404.82,328.40 405.41,328.40 406.00,328.40 406.60,328.40 407.19,328.40 407.78,328.40 408.37,328.40 408.97,328.40 409.56,328.40 410.15,328.40 410.74,328.40 411.34,328.40 411.93,328.40 412.52,328.40 413.12,328.40 413.71,328.40 414.30,328.40 414.89,328.40 415.49,328.40 416.08,328.40 416.67,328.40 417.26,328.40 417.86,328.40 418.45,328.40 418.45,328.40 417.84,328.40 417.23,328.40 416.62,328.40 416.01,328.40 415.40,328.40 414.79,328.40 414.18,328.40 413.57,328.40 412.96,328.40 412.35,328.40 411.74,328.40 411.13,328.40 410.52,328.40 409.91,328.40 409.30,328.40 408.69,328.40 408.08,328.40 407.47,328.40 406.86,328.40 406.25,328.40 405.64,328.40 405.03,328.40 404.42,328.40 403.81,328.40 403.20,328.40 402.59,328.40 401.98,328.40 401.37,328.40 400.76,328.40 400.15,328.40 399.54,328.40 398.93,328.40 398.32,328.40 397.71,328.40 397.10,328.40 396.49,328.40 395.88,328.40 395.27,328.40 394.66,328.40 394.05,328.40 393.44,328.40 392.83,328.40 392.22,328.40 391.61,328.40 391.00,328.40 390.39,328.40 389.78,328.40 389.17,328.40 388.56,328.40 387.95,328.40 387.34,328.40 386.73,328.40 386.12,328.40 385.51,328.40 384.90,328.40 384.29,328.40 383.68,328.40 383.07,328.40 382.46,328.40 381.86,328.40 381.25,328.40 380.64,328.40 380.03,328.40 379.42,328.40 378.81,328.40 378.20,328.40 377.59,328.40 376.98,328.40 376.37,328.40 375.76,328.40 375.15,328.40 374.54,328.40 373.93,328.40 373.32,328.40 372.71,328.40 372.10,328.40 371.49,328.40 370.88,328.40 370.27,328.40 369.66,328.40 369.05,328.40 368.44,328.40 367.83,328.40 367.22,328.40 366.61,328.40 366.00,328.40 365.39,328.40 364.78,328.40 364.17,328.40 363.56,328.40 362.95,328.40 362.34,328.40 361.73,328.40 361.12,328.40 360.51,328.40 359.90,328.40 359.29,328.40 358.68,328.40 358.07,328.40 357.46,328.40 356.85,328.40 356.24,328.40 355.63,328.40 355.02,328.40 354.41,328.40 353.80,328.40 353.19,328.40 352.58,328.40 351.97,328.40 351.36,328.40 350.75,328.40 350.14,328.40 349.53,328.40 348.92,328.40 348.31,328.40 347.70,328.40 347.09,328.40 346.48,328.40 345.87,328.40 345.26,328.40 344.65,328.40 344.04,328.40 343.43,328.40 342.82,328.40 342.21,328.40 341.60,328.40 340.99,328.40 340.38,328.40 339.77,328.40 339.16,328.40 338.55,328.40 337.94,328.40 337.33,328.40 336.72,328.40 336.11,328.40 335.50,328.40 334.89,328.40 334.28,328.40 333.67,328.40 333.06,328.40 332.45,328.40 331.84,328.40 331.23,328.40 330.62,328.40 330.01,328.40 329.40,328.40 328.79,328.40 328.18,328.40 327.57,328.40 326.96,328.40 326.35,328.40 325.74,328.40 325.13,328.40 324.52,328.40 323.91,328.40 323.30,328.40 322.69,328.40 322.08,328.40 321.47,328.40 320.86,328.40 320.25,328.40 319.64,328.40 319.03,328.40 318.42,328.40 317.81,328.40 317.20,328.40 316.59,328.40 315.98,328.40 315.37,328.40 314.76,328.40 314.15,328.40 313.54,328.40 312.93,328.40 312.32,328.40 311.71,328.40 311.10,328.40 310.49,328.40 309.88,328.40 309.27,328.40 308.67,328.40 308.06,328.40 307.45,328.40 306.84,328.40 306.23,328.40 305.62,328.40 305.01,328.40 304.40,328.40 303.79,328.40 303.18,328.40 302.57,328.40 301.96,328.40 301.35,328.40 300.74,328.40 300.13,328.40 299.52,328.40 298.91,328.40 298.30,328.40 297.69,328.40 297.08,328.40 296.47,328.40 295.86,328.40 295.25,328.40 294.64,328.40 294.03,328.40 293.42,328.40 292.81,328.40 292.20,328.40 291.59,328.40 290.98,328.40 290.37,328.40 289.76,328.40 289.15,328.40 288.54,328.40 287.93,328.40 287.32,328.40 286.71,328.40 286.10,328.40 285.49,328.40 284.88,328.40 284.27,328.40 283.66,328.40 283.05,328.40 282.44,328.40 281.83,328.40 281.22,328.40 280.61,328.40 280.00,328.40 279.39,328.40 278.78,328.40 278.17,328.40 277.56,328.40 276.95,328.40 276.34,328.40 275.73,328.40 275.12,328.40 274.51,328.40 273.90,328.40 273.29,328.40 272.68,328.40 272.07,328.40 271.46,328.40 270.85,328.40 270.24,328.40 269.63,328.40 269.02,328.40 268.41,328.40 267.80,328.40 267.19,328.40 266.58,328.40 265.97,328.40 265.36,328.40 264.75,328.40 264.14,328.40 263.53,328.40 262.92,328.40 262.31,328.40 261.70,328.40 261.09,328.40 260.48,328.40 259.87,328.40 259.26,328.40 258.65,328.40 258.04,328.40 257.43,328.40 256.82,328.40 256.21,328.40 255.60,328.40 254.99,328.40 254.38,328.40 253.77,328.40 253.16,328.40 252.55,328.40 251.94,328.40 251.33,328.40 250.72,328.40 250.15,327.34 249.58,324.86 249.01,321.96 248.44,318.78 247.87,314.86 247.30,311.53 246.86,311.53" fill="#00ffff" fill-opacity="0.4"/>
</g>
<g font-family="'Liberation Sans', Arial, Helvetica, sans-serif" font-size="4.9" fill="#262626" stroke="#262626" stroke-width="0.04">
<text x="247.30" y="335.60" text-anchor="middle">0</text>
<text x="271.75" y="335.60" text-anchor="middle">5</text>
<text x="296.20" y="335.60" text-anchor="middle">10</text>
<text x="320.65" y="335.60" text-anchor="middle">15</text>
<text x="345.10" y="335.60" text-anchor="middle">20</text>
<text x="369.55" y="335.60" text-anchor="middle">25</text>
<text x="394.00" y="335.60" text-anchor="middle">30</text>
<text x="418.45" y="335.60" text-anchor="middle">35</text>
<text x="245.50" y="330.80" text-anchor="end">0</text>
<text x="245.50" y="317.92" text-anchor="end">10</text>
<text x="245.50" y="305.05" text-anchor="end">20</text>
<text x="245.50" y="292.17" text-anchor="end">30</text>
<text x="245.50" y="279.30" text-anchor="end">40</text>
<text x="245.50" y="266.42" text-anchor="end">50</text>
<text x="245.50" y="253.54" text-anchor="end">60</text>
<text x="245.50" y="240.67" text-anchor="end">70</text>
<text x="245.50" y="227.79" text-anchor="end">80</text>
<text x="245.50" y="214.91" text-anchor="end">90</text>
<text x="245.50" y="202.04" text-anchor="end">100</text>
<text x="419.95" y="330.20">0</text>
<text x="419.95" y="317.32">0.1</text>
<text x="419.95" y="304.45">0.2</text>
<text x="419.95" y="291.57">0.3</text>
<text x="419.95" y="278.70">0.4</text>
<text x="419.95" y="265.82">0.5</text>
<text x="419.95" y="252.94">0.6</text>
<text x="419.95" y="240.07">0.7</text>
<text x="419.95" y="227.19">0.8</text>
<text x="419.95" y="214.31">0.9</text>
<text x="419.95" y="201.44">1</text>
</g>
<text font-family="'Liberation Sans', Arial, Helvetica, sans-serif" font-size="5.3" fill="#262626" stroke="#262626" stroke-width="0.05" x="332.88" y="342.30" text-anchor="middle">Dose (GyE)</text>
<text font-family="'Liberation Sans', Arial, Helvetica, sans-serif" font-size="5.3" fill="#262626" stroke="#262626" stroke-width="0.05" text-anchor="middle" transform="translate(233.90,260.50) rotate(-90)">Volume (%)</text>
<text font-family="'Liberation Sans', Arial, Helvetica, sans-serif" font-size="5.3" fill="#262626" stroke="#262626" stroke-width="0.05" text-anchor="middle" transform="translate(433.25,260.80) rotate(-90)">P-Value</text>
<text font-family="'Liberation Sans', Arial, Helvetica, sans-serif" font-size="5.3" font-weight="bold" fill="#000" stroke="#000" stroke-width="0.2" x="332.88" y="191.00" text-anchor="middle">Liver</text>
<text font-family="'Liberation Serif', 'Times New Roman', serif" font-size="9" font-weight="bold" fill="#000" x="329.18" y="359.30" text-anchor="middle">(D)</text>
<rect x="313.12" y="195.80" width="39.2" height="28.8" fill="#fff" stroke="#c4c4c4" stroke-width="0.5"/>
<line x1="314.02" x2="323.52" y1="199.50" y2="199.50" stroke="#ff5a5a" stroke-width="0.6"/>
<rect x="314.02" y="203.25" width="9.50" height="3.6" fill="#f00" fill-opacity="0.46599999999999997"/>
<line x1="314.02" x2="323.52" y1="210.60" y2="210.60" stroke="#40f0f0" stroke-width="0.6"/>
<rect x="314.02" y="214.35" width="9.50" height="3.6" fill="#0ff" fill-opacity="0.45"/>
<line x1="314.02" x2="323.52" y1="221.70" y2="221.70" stroke="#bbb" stroke-width="0.5"/>
<g font-family="'Liberation Sans', Arial, Helvetica, sans-serif" font-size="4.4" fill="#262626" stroke="#262626" stroke-width="0.04">
<text x="325.32" y="201.05">IMPT</text>
<text x="325.32" y="206.60">IMPT+St-Dev</text>
<text x="325.32" y="212.15">IMRT</text>
<text x="325.32" y="217.70">IMRT+St-Dev</text>
<text x="325.32" y="223.25">P-Value</text>
</g>
<path d="M20.30 376.40H191.45" stroke="#c6c6c6" stroke-width="0.6" fill="none"/><path d="M20.30 376.40V511.60H191.45V376.40" stroke="#a4a4a4" stroke-width="0.6" fill="none"/>
<path d="M20.30 511.60v-1.5M20.30 376.40v1.5M44.75 511.60v-1.5M44.75 376.40v1.5M69.20 511.60v-1.5M69.20 376.40v1.5M93.65 511.60v-1.5M93.65 376.40v1.5M118.10 511.60v-1.5M118.10 376.40v1.5M142.55 511.60v-1.5M142.55 376.40v1.5M167.00 511.60v-1.5M167.00 376.40v1.5M191.45 511.60v-1.5M191.45 376.40v1.5M20.30 511.60h1.5M191.45 511.60h-1.5M20.30 498.72h1.5M191.45 498.72h-1.5M20.30 485.85h1.5M191.45 485.85h-1.5M20.30 472.97h1.5M191.45 472.97h-1.5M20.30 460.10h1.5M191.45 460.10h-1.5M20.30 447.22h1.5M191.45 447.22h-1.5M20.30 434.34h1.5M191.45 434.34h-1.5M20.30 421.47h1.5M191.45 421.47h-1.5M20.30 408.59h1.5M191.45 408.59h-1.5M20.30 395.71h1.5M191.45 395.71h-1.5M20.30 382.84h1.5M191.45 382.84h-1.5" stroke="#909090" stroke-width="0.5" fill="none"/>
<clipPath id="c02"><rect x="19.95" y="376.05" width="171.85" height="135.90"/></clipPath>
<g clip-path="url(#c02)">
<polyline points="20.30,511.60 20.91,511.60 21.51,511.60 22.12,511.60 22.73,511.60 23.34,511.60 23.94,511.60 24.55,511.60 25.16,511.60 25.77,511.60 26.37,511.60 26.98,511.60 27.59,511.60 28.20,511.60 28.80,511.60 29.41,511.60 30.02,511.60 30.63,511.60 31.23,511.60 31.84,511.60 32.45,511.60 33.06,511.60 33.66,511.60 34.27,511.60 34.88,511.60 35.49,511.60 36.09,511.60 36.70,511.60 37.31,511.60 37.92,511.60 38.52,511.60 39.13,511.60 39.74,511.60 40.35,511.60 40.95,511.60 41.56,511.60 42.17,511.60 42.78,511.60 43.38,511.60 43.99,511.60 44.60,511.60 45.21,511.60 45.81,511.60 46.42,511.60 47.03,511.60 47.64,511.60 48.24,511.60 48.85,511.60 49.46,511.60 50.07,511.60 50.67,511.60 51.28,511.60 51.89,511.60 52.50,511.60 53.10,511.60 53.71,511.60 54.32,511.60 54.92,511.60 55.53,511.60 56.14,511.60 56.75,511.60 57.35,511.60 57.96,511.60 58.57,511.60 59.18,511.60 59.78,511.60 60.39,511.60 61.00,511.60 61.61,511.60 62.21,511.60 62.82,511.60 63.43,511.60 64.04,511.60 64.64,511.60 65.25,511.60 65.86,511.60 66.47,511.60 67.07,511.60 67.68,511.60 68.29,511.60 68.90,511.60 69.50,511.60 70.11,511.60 70.72,511.60 71.33,511.60 71.93,511.60 72.54,511.60 73.15,511.60 73.76,511.60 74.36,511.60 74.97,511.60 75.58,511.60 76.19,511.60 76.79,511.60 77.40,511.60 78.01,511.60 78.62,511.60 79.22,511.60 79.83,511.60 80.44,511.60 81.05,511.60 81.65,511.60 82.26,511.60 82.87,511.60 83.48,511.60 84.08,511.60 84.69,511.60 85.30,511.60 85.90,511.60 86.51,511.60 87.12,511.60 87.73,511.60 88.33,511.60 88.94,511.60 89.55,511.60 90.16,511.60 90.76,511.60 91.37,511.60 91.98,511.60 92.59,511.60 93.19,511.60 93.80,511.60 94.41,511.60 95.02,511.60 95.62,511.60 96.23,511.60 96.84,511.60 97.45,511.60 98.05,511.60 98.66,511.60 99.27,511.60 99.88,511.60 100.48,511.60 101.09,511.60 101.70,511.60 102.31,511.60 102.91,511.60 103.52,511.60 104.13,511.60 104.74,511.60 105.34,511.60 105.95,511.60 106.56,511.60 107.17,511.60 107.77,511.60 108.38,511.60 108.99,511.60 109.60,511.60 110.20,511.60 110.81,511.60 111.42,511.60 112.03,511.60 112.63,511.60 113.24,511.60 113.85,511.60 114.46,511.60 115.06,511.60 115.67,511.60 116.28,511.60 116.89,511.60 117.49,511.60 118.10,511.60 118.68,511.59 119.25,511.58 119.83,511.55 120.40,511.51 120.98,511.47 121.55,511.41 122.13,511.34 122.70,511.27 123.28,511.19 123.85,511.10 124.43,511.01 125.00,510.90 125.58,510.80 126.15,510.68 126.73,510.56 127.30,510.44 127.88,510.31 128.42,510.17 128.97,509.99 129.51,509.77 130.05,509.51 130.60,509.22 131.14,508.90 131.68,508.54 132.23,508.16 132.77,507.74 133.34,507.23 133.91,506.60 134.48,505.84 135.05,504.95 135.62,503.91 136.19,502.72 136.68,501.62 137.17,500.34 137.66,498.57 138.15,496.03 138.64,492.41 139.13,479.41 139.62,472.40 140.10,467.05 140.59,460.98 141.08,455.36 141.57,452.88 142.06,453.94 142.55,456.47 143.04,459.48 143.53,462.00 144.02,463.06 144.60,462.99 145.19,462.83 145.78,462.64 146.36,462.48 146.95,462.41 147.52,462.84 148.09,463.97 148.66,465.60 149.23,467.51 149.80,469.48 150.37,471.30 150.86,473.17 151.35,475.14 151.84,476.06 152.33,475.74 152.82,475.03 153.31,474.32 153.80,474.00 154.37,474.13 154.94,474.47 155.51,474.97 156.08,475.55 156.65,476.15 157.22,476.71 157.78,477.25 158.34,477.84 158.90,478.47 159.46,479.11 160.01,479.73 160.57,480.31 161.13,480.83 161.62,481.28 162.11,481.74 162.60,482.10 163.09,482.24 163.67,481.81 164.26,480.79 164.85,479.57 165.44,478.55 166.02,478.12 166.51,479.09 167.00,481.38 167.49,484.10 167.98,486.36 168.56,488.60 169.15,490.94 169.74,493.03 170.33,494.54 170.91,495.12 171.40,494.17 171.89,492.09 172.38,490.01 172.87,489.07 173.47,489.07 174.08,489.07 174.69,489.07 175.29,489.07 175.90,489.07 176.51,489.07 177.11,489.07 177.72,489.07 178.33,489.07 178.93,489.07 179.54,489.07 180.14,489.07 180.75,489.07 181.36,489.07 181.96,489.07 182.57,489.07 183.18,489.07 183.78,489.07 184.39,489.07 185.00,489.07 185.60,489.07 186.21,489.07 186.81,489.07 187.42,489.07 188.03,489.07 188.27,511.60 188.80,511.60 189.33,511.60 189.86,511.60 190.39,511.60 190.92,511.60 191.45,511.60" fill="none" stroke="#b4b4b4" stroke-width="0.6" stroke-opacity="1" stroke-linejoin="round"/>
<polyline points="20.30,382.84 20.79,415.03 21.18,436.92 21.70,441.10 22.22,443.21 22.75,444.64 23.30,446.18 23.86,447.46 24.42,448.55 24.98,449.53 25.54,450.45 26.10,451.37 26.66,452.37 27.22,453.44 27.77,454.53 28.33,455.61 28.89,456.67 29.45,457.68 30.01,458.61 30.57,459.45 31.15,460.24 31.72,461.00 32.30,461.72 32.88,462.41 33.46,463.07 34.04,463.70 34.61,464.30 35.19,464.89 35.77,465.45 36.35,466.00 36.93,466.53 37.50,467.05 38.08,467.55 38.66,468.04 39.24,468.51 39.82,468.97 40.39,469.41 40.97,469.84 41.55,470.26 42.13,470.66 42.71,471.05 43.28,471.43 43.87,471.80 44.46,472.16 45.04,472.52 45.63,472.87 46.22,473.21 46.80,473.55 47.39,473.88 47.98,474.19 48.56,474.50 49.15,474.81 49.74,475.10 50.32,475.39 50.91,475.66 51.50,475.93 52.08,476.19 52.68,476.45 53.28,476.70 53.88,476.95 54.48,477.20 55.07,477.44 55.67,477.67 56.27,477.90 56.87,478.13 57.46,478.35 58.06,478.56 58.66,478.77 59.26,478.97 59.85,479.17 60.45,479.36 61.05,479.54 61.65,479.72 62.25,479.89 62.84,480.05 63.43,480.20 64.02,480.35 64.60,480.48 65.19,480.61 65.78,480.74 66.36,480.86 66.95,480.98 67.54,481.10 68.12,481.22 68.71,481.34 69.32,481.47 69.92,481.60 70.53,481.72 71.13,481.85 71.74,481.97 72.34,482.09 72.95,482.22 73.55,482.34 74.16,482.46 74.77,482.58 75.37,482.70 75.98,482.82 76.58,482.95 77.19,483.07 77.79,483.19 78.40,483.31 79.00,483.43 79.61,483.55 80.21,483.67 80.82,483.79 81.42,483.92 82.03,484.04 82.64,484.16 83.24,484.28 83.85,484.40 84.45,484.52 85.06,484.64 85.66,484.75 86.27,484.87 86.87,484.99 87.48,485.11 88.08,485.23 88.69,485.35 89.30,485.47 89.90,485.59 90.51,485.71 91.11,485.84 91.72,485.97 92.32,486.09 92.93,486.22 93.53,486.36 94.14,486.49 94.73,486.63 95.31,486.76 95.90,486.90 96.49,487.04 97.07,487.19 97.66,487.34 98.25,487.49 98.83,487.64 99.42,487.79 100.01,487.94 100.59,488.09 101.18,488.25 101.77,488.40 102.35,488.55 102.94,488.71 103.53,488.86 104.11,489.01 104.70,489.16 105.29,489.31 105.87,489.45 106.46,489.60 107.05,489.74 107.64,489.89 108.22,490.03 108.81,490.18 109.40,490.32 109.98,490.47 110.57,490.61 111.16,490.76 111.74,490.90 112.33,491.04 112.92,491.18 113.50,491.33 114.09,491.47 114.68,491.61 115.26,491.74 115.85,491.88 116.44,492.02 117.02,492.15 117.61,492.29 118.22,492.42 118.82,492.55 119.43,492.68 120.03,492.80 120.64,492.92 121.24,493.04 121.85,493.16 122.45,493.27 123.06,493.39 123.67,493.51 124.27,493.63 124.88,493.75 125.48,493.87 126.09,493.99 126.69,494.12 127.30,494.25 127.90,494.39 128.51,494.53 129.11,494.68 129.72,494.83 130.32,494.99 130.89,495.14 131.45,495.30 132.02,495.45 132.58,495.61 133.15,495.78 133.71,495.96 134.27,496.14 134.84,496.34 135.40,496.55 135.97,496.77 136.53,497.02 137.10,497.28 137.66,497.56 138.26,497.94 138.86,498.41 139.45,498.96 140.05,499.57 140.65,500.21 141.25,500.85 141.84,501.48 142.44,502.06 143.04,502.59 143.60,503.04 144.17,503.50 144.73,503.95 145.30,504.40 145.86,504.84 146.42,505.27 146.99,505.69 147.55,506.08 148.12,506.46 148.68,506.82 149.25,507.16 149.81,507.46 150.37,507.74 150.96,508.01 151.55,508.27 152.13,508.54 152.72,508.79 153.31,509.05 153.89,509.29 154.48,509.53 155.07,509.76 155.66,509.99 156.24,510.20 156.83,510.40 157.42,510.59 158.00,510.77 158.59,510.93 159.18,511.09 159.76,511.22 160.35,511.34 160.94,511.45 161.52,511.53 162.11,511.60" fill="none" stroke="#f5404f" stroke-width="0.85" stroke-opacity="1" stroke-linejoin="round"/>
<polygon points="19.86,382.84 20.30,382.84 20.86,384.08 21.41,385.48 21.97,387.02 22.53,388.67 23.09,390.44 23.61,392.27 24.12,394.33 24.64,396.50 25.16,398.67 25.68,400.74 26.17,402.59 26.66,404.41 27.15,406.20 27.63,407.95 28.12,409.62 28.61,411.27 29.10,412.90 29.59,414.47 30.08,415.93 30.57,417.22 31.13,418.51 31.69,419.69 32.25,420.77 32.80,421.80 33.36,422.80 33.92,423.79 34.48,424.81 35.07,425.94 35.67,427.09 36.26,428.25 36.85,429.40 37.44,430.52 38.03,431.60 38.63,432.60 39.22,433.53 39.81,434.34 40.38,435.05 40.95,435.73 41.52,436.37 42.09,436.98 42.66,437.57 43.23,438.13 43.80,438.66 44.37,439.18 44.94,439.69 45.50,440.18 46.07,440.66 46.64,441.13 47.21,441.60 47.78,442.07 48.39,442.57 49.00,443.05 49.61,443.53 50.22,444.00 50.83,444.46 51.44,444.91 52.05,445.35 52.66,445.78 53.27,446.19 53.88,446.60 54.48,446.99 55.09,447.37 55.70,447.73 56.27,448.06 56.84,448.39 57.41,448.70 57.98,449.00 58.55,449.30 59.12,449.59 59.69,449.87 60.26,450.15 60.83,450.42 61.40,450.69 61.97,450.95 62.54,451.21 63.10,451.47 63.67,451.73 64.24,451.98 64.81,452.22 65.38,452.46 65.95,452.70 66.52,452.93 67.09,453.16 67.66,453.38 68.23,453.61 68.80,453.83 69.37,454.05 69.94,454.27 70.51,454.49 71.08,454.72 71.64,454.94 72.25,455.18 72.85,455.42 73.45,455.66 74.05,455.90 74.65,456.13 75.26,456.37 75.86,456.60 76.46,456.84 77.06,457.08 77.66,457.31 78.27,457.55 78.87,457.79 79.47,458.04 80.07,458.28 80.67,458.54 81.27,458.79 81.88,459.06 82.48,459.32 83.08,459.58 83.68,459.84 84.28,460.10 84.89,460.35 85.49,460.59 86.09,460.83 86.69,461.05 87.29,461.25 87.89,461.45 88.48,461.63 89.07,461.81 89.67,461.97 90.26,462.14 90.86,462.30 91.45,462.45 92.04,462.61 92.64,462.76 93.23,462.92 93.82,463.07 94.42,463.23 95.01,463.40 95.61,463.57 96.21,463.75 96.81,463.94 97.41,464.12 98.01,464.31 98.62,464.50 99.22,464.70 99.82,464.89 100.42,465.08 101.02,465.27 101.62,465.46 102.23,465.65 102.83,465.84 103.43,466.02 104.01,466.19 104.59,466.35 105.16,466.50 105.74,466.66 106.32,466.81 106.90,466.97 107.48,467.13 108.05,467.29 108.63,467.46 109.21,467.63 109.79,467.82 110.39,468.03 110.99,468.24 111.59,468.47 112.19,468.71 112.80,468.95 113.40,469.20 114.00,469.46 114.60,469.72 115.20,469.98 115.81,470.24 116.41,470.51 117.01,470.78 117.61,471.04 118.22,471.31 118.82,471.58 119.43,471.85 120.03,472.12 120.64,472.40 121.24,472.67 121.85,472.95 122.45,473.24 123.06,473.52 123.67,473.81 124.27,474.10 124.88,474.39 125.48,474.68 126.09,474.97 126.69,475.27 127.30,475.57 127.90,475.87 128.51,476.17 129.11,476.48 129.72,476.78 130.32,477.09 130.89,477.37 131.45,477.64 132.02,477.89 132.58,478.14 133.15,478.39 133.71,478.65 134.27,478.92 134.84,479.21 135.40,479.52 135.97,479.86 136.53,480.23 137.10,480.63 137.66,481.08 138.26,481.68 138.86,482.45 139.45,483.37 140.05,484.39 140.65,485.48 141.25,486.62 141.84,487.77 142.44,488.90 143.04,489.97 143.58,490.95 144.13,492.01 144.67,493.11 145.21,494.22 145.76,495.30 146.30,496.34 146.84,497.30 147.39,498.15 147.93,498.85 148.53,499.52 149.13,500.16 149.73,500.75 150.34,501.31 150.94,501.84 151.54,502.34 152.14,502.81 152.74,503.25 153.35,503.67 153.95,504.07 154.55,504.45 155.15,504.81 155.75,505.16 156.34,505.49 156.92,505.80 157.50,506.10 158.08,506.39 158.66,506.66 159.25,506.93 159.83,507.20 160.41,507.45 160.99,507.69 161.57,507.93 162.16,508.17 162.74,508.39 163.32,508.62 163.90,508.83 164.49,509.05 165.07,509.26 165.65,509.47 166.23,509.68 166.81,509.89 167.40,510.10 167.98,510.31 168.54,510.53 169.10,510.77 169.65,511.02 170.21,511.24 170.77,511.43 171.33,511.55 171.89,511.60 172.48,511.60 173.08,511.60 173.67,511.60 174.26,511.60 174.85,511.60 175.45,511.60 176.04,511.60 176.63,511.60 177.22,511.60 177.82,511.60 178.41,511.60 179.00,511.60 179.60,511.60 180.19,511.60 180.78,511.60 181.37,511.60 181.97,511.60 182.56,511.60 183.15,511.60 183.74,511.60 184.34,511.60 184.93,511.60 185.52,511.60 186.12,511.60 186.71,511.60 187.30,511.60 187.89,511.60 188.49,511.60 189.08,511.60 189.67,511.60 190.26,511.60 190.86,511.60 191.45,511.60 191.45,511.60 190.84,511.60 190.24,511.60 189.63,511.60 189.03,511.60 188.42,511.60 187.82,511.60 187.21,511.60 186.61,511.60 186.00,511.60 185.40,511.60 184.79,511.60 184.18,511.60 183.58,511.60 182.97,511.60 182.37,511.60 181.76,511.60 181.16,511.60 180.55,511.60 179.95,511.60 179.34,511.60 178.74,511.60 178.13,511.60 177.53,511.60 176.92,511.60 176.31,511.60 175.71,511.60 175.10,511.60 174.50,511.60 173.89,511.60 173.29,511.60 172.68,511.60 172.08,511.60 171.47,511.60 170.87,511.60 170.26,511.60 169.65,511.60 169.05,511.60 168.44,511.60 167.84,511.60 167.23,511.60 166.63,511.60 166.02,511.60 165.42,511.60 164.81,511.60 164.21,511.60 163.60,511.60 162.99,511.60 162.39,511.60 161.78,511.60 161.18,511.60 160.57,511.60 159.97,511.60 159.36,511.60 158.76,511.60 158.15,511.60 157.55,511.60 156.94,511.60 156.34,511.60 155.73,511.60 155.12,511.60 154.52,511.60 153.91,511.60 153.31,511.60 152.70,511.60 152.10,511.60 151.49,511.60 150.89,511.60 150.28,511.60 149.68,511.60 149.07,511.60 148.46,511.60 147.86,511.60 147.25,511.60 146.65,511.60 146.04,511.60 145.44,511.60 144.83,511.60 144.23,511.60 143.62,511.60 143.02,511.60 142.41,511.60 141.80,511.60 141.20,511.60 140.59,511.60 139.99,511.60 139.38,511.60 138.78,511.60 138.17,511.60 137.57,511.60 136.96,511.60 136.36,511.60 135.75,511.60 135.15,511.60 134.54,511.60 133.93,511.60 133.33,511.60 132.72,511.60 132.12,511.60 131.51,511.60 130.91,511.60 130.30,511.60 129.70,511.60 129.09,511.60 128.49,511.60 127.88,511.60 127.30,511.60 126.73,511.58 126.15,511.56 125.58,511.53 125.00,511.50 124.43,511.46 123.85,511.42 123.28,511.37 122.70,511.32 122.13,511.27 121.55,511.22 120.98,511.17 120.40,511.12 119.83,511.07 119.25,511.03 118.68,510.99 118.10,510.96 117.50,510.92 116.89,510.89 116.29,510.86 115.68,510.83 115.08,510.81 114.48,510.78 113.87,510.75 113.27,510.73 112.66,510.70 112.06,510.68 111.46,510.65 110.85,510.63 110.25,510.61 109.64,510.58 109.04,510.56 108.44,510.54 107.83,510.52 107.23,510.49 106.62,510.47 106.02,510.45 105.41,510.42 104.81,510.40 104.21,510.37 103.60,510.35 103.00,510.32 102.39,510.30 101.79,510.27 101.19,510.24 100.58,510.21 99.98,510.18 99.37,510.15 98.77,510.12 98.17,510.09 97.56,510.05 96.99,510.02 96.42,509.98 95.85,509.94 95.28,509.90 94.71,509.86 94.14,509.81 93.57,509.76 93.00,509.72 92.43,509.67 91.86,509.63 91.29,509.58 90.72,509.54 90.12,509.50 89.52,509.46 88.92,509.41 88.32,509.37 87.72,509.34 87.12,509.30 86.52,509.26 85.92,509.22 85.32,509.19 84.72,509.15 84.12,509.11 83.52,509.08 82.92,509.04 82.32,509.01 81.72,508.97 81.13,508.93 80.53,508.89 79.93,508.86 79.33,508.82 78.73,508.78 78.13,508.74 77.53,508.70 76.93,508.65 76.33,508.61 75.73,508.56 75.13,508.52 74.53,508.47 73.93,508.42 73.33,508.36 72.73,508.31 72.13,508.25 71.53,508.19 70.93,508.13 70.32,508.06 69.72,507.99 69.12,507.91 68.52,507.84 67.91,507.76 67.31,507.67 66.71,507.58 66.10,507.49 65.50,507.40 64.90,507.31 64.29,507.21 63.69,507.11 63.09,507.01 62.48,506.91 61.88,506.81 61.28,506.71 60.68,506.60 60.07,506.49 59.47,506.39 58.87,506.28 58.26,506.17 57.66,506.06 57.06,505.96 56.45,505.85 55.85,505.74 55.25,505.63 54.64,505.53 54.04,505.42 53.44,505.31 52.83,505.21 52.23,505.11 51.63,505.00 51.03,504.90 50.42,504.80 49.82,504.69 49.22,504.59 48.61,504.48 48.01,504.38 47.41,504.27 46.80,504.17 46.20,504.06 45.60,503.95 44.99,503.83 44.39,503.72 43.79,503.60 43.19,503.49 42.58,503.37 41.98,503.24 41.38,503.12 40.77,502.99 40.17,502.85 39.57,502.72 38.96,502.58 38.36,502.43 37.76,502.28 37.15,502.13 36.55,501.98 35.95,501.81 35.34,501.64 34.74,501.46 34.14,501.26 33.54,501.05 32.93,500.84 32.33,500.61 31.73,500.37 31.12,500.13 30.52,499.88 29.92,499.63 29.31,499.37 28.71,499.11 28.11,498.85 27.50,498.57 26.90,498.29 26.30,497.98 25.70,497.66 25.09,497.31 24.57,497.04 24.04,496.81 23.52,496.59 23.00,496.30 22.47,495.89 21.95,495.30 21.42,494.47 21.03,491.00 20.79,447.22 20.30,402.15 19.86,402.15" fill="#ff0000" fill-opacity="0.416"/>
<polyline points="20.30,382.84 20.54,402.15 21.03,421.47 21.56,423.90 22.09,425.53 22.62,426.59 23.15,427.32 23.68,427.94 24.21,428.68 24.77,429.57 25.33,430.42 25.89,431.20 26.45,431.92 27.01,432.58 27.57,433.17 28.12,433.70 28.70,434.19 29.28,434.63 29.86,435.04 30.44,435.42 31.01,435.78 31.59,436.13 32.17,436.46 32.75,436.79 33.33,437.12 33.90,437.46 34.48,437.82 35.08,438.20 35.68,438.56 36.29,438.92 36.89,439.28 37.49,439.63 38.09,439.98 38.69,440.34 39.30,440.70 39.90,441.07 40.50,441.46 41.10,441.86 41.70,442.27 42.30,442.71 42.90,443.17 43.49,443.67 44.09,444.19 44.68,444.74 45.27,445.30 45.87,445.88 46.46,446.47 47.06,447.06 47.65,447.65 48.24,448.24 48.84,448.82 49.43,449.38 50.02,449.92 50.62,450.44 51.22,450.94 51.81,451.44 52.41,451.92 53.01,452.40 53.61,452.87 54.20,453.33 54.80,453.79 55.40,454.24 56.00,454.69 56.57,455.11 57.14,455.52 57.71,455.93 58.28,456.34 58.85,456.74 59.42,457.14 59.99,457.53 60.56,457.92 61.13,458.31 61.70,458.69 62.27,459.07 62.84,459.45 63.43,459.84 64.02,460.24 64.60,460.64 65.19,461.04 65.78,461.43 66.36,461.81 66.95,462.18 67.54,462.53 68.12,462.87 68.71,463.19 69.32,463.49 69.92,463.79 70.53,464.08 71.13,464.35 71.74,464.62 72.34,464.88 72.95,465.14 73.55,465.39 74.16,465.63 74.77,465.87 75.37,466.11 75.98,466.35 76.58,466.58 77.19,466.81 77.79,467.04 78.40,467.27 79.00,467.50 79.61,467.74 80.21,467.98 80.82,468.22 81.42,468.46 82.03,468.71 82.64,468.95 83.24,469.19 83.85,469.43 84.45,469.66 85.06,469.89 85.66,470.12 86.27,470.36 86.87,470.59 87.48,470.82 88.08,471.05 88.69,471.29 89.30,471.53 89.90,471.77 90.51,472.02 91.11,472.27 91.72,472.52 92.32,472.79 92.93,473.05 93.53,473.33 94.14,473.62 94.73,473.90 95.32,474.21 95.91,474.52 96.51,474.84 97.10,475.18 97.69,475.52 98.28,475.87 98.87,476.22 99.47,476.58 100.06,476.94 100.65,477.30 101.24,477.66 101.83,478.01 102.43,478.37 103.02,478.72 103.61,479.07 104.20,479.40 104.79,479.73 105.39,480.05 105.97,480.36 106.55,480.66 107.13,480.96 107.71,481.26 108.30,481.56 108.88,481.85 109.46,482.14 110.04,482.42 110.63,482.71 111.21,482.99 111.79,483.28 112.37,483.56 112.95,483.84 113.54,484.12 114.12,484.40 114.70,484.68 115.28,484.96 115.86,485.25 116.45,485.53 117.03,485.82 117.61,486.11 118.22,486.41 118.82,486.71 119.43,487.01 120.03,487.30 120.64,487.60 121.24,487.90 121.85,488.20 122.45,488.50 123.06,488.80 123.67,489.10 124.27,489.40 124.88,489.70 125.48,490.01 126.09,490.31 126.69,490.61 127.30,490.91 127.90,491.21 128.51,491.51 129.11,491.81 129.72,492.11 130.32,492.41 130.93,492.71 131.53,493.00 132.14,493.28 132.74,493.55 133.35,493.82 133.95,494.10 134.55,494.37 135.16,494.64 135.76,494.92 136.37,495.21 136.97,495.50 137.57,495.81 138.18,496.12 138.78,496.46 139.39,496.81 139.99,497.18 140.59,497.56 141.16,497.98 141.74,498.47 142.31,499.00 142.88,499.58 143.45,500.18 144.02,500.80 144.59,501.40 145.16,501.99 145.73,502.55 146.30,503.06 146.87,503.50 147.44,503.87 148.04,504.21 148.64,504.53 149.24,504.84 149.84,505.14 150.44,505.42 151.04,505.69 151.64,505.95 152.24,506.20 152.84,506.44 153.44,506.67 154.04,506.90 154.64,507.11 155.24,507.32 155.84,507.52 156.44,507.72 157.04,507.92 157.64,508.11 158.24,508.29 158.84,508.48 159.44,508.66 160.04,508.84 160.64,509.02 161.25,509.21 161.85,509.41 162.46,509.61 163.06,509.81 163.66,510.02 164.27,510.22 164.87,510.42 165.48,510.61 166.08,510.79 166.68,510.96 167.29,511.11 167.89,511.25 168.50,511.37 169.10,511.47 169.70,511.54 170.31,511.58 170.91,511.60 171.52,511.60 172.12,511.60 172.72,511.60 173.33,511.60 173.93,511.60 174.54,511.60 175.14,511.60 175.74,511.60 176.35,511.60 176.95,511.60 177.56,511.60 178.16,511.60 178.76,511.60 179.37,511.60 179.97,511.60 180.58,511.60 181.18,511.60 181.79,511.60 182.39,511.60 182.99,511.60 183.60,511.60 184.20,511.60 184.81,511.60 185.41,511.60 186.01,511.60 186.62,511.60 187.22,511.60 187.83,511.60 188.43,511.60 189.03,511.60 189.64,511.60 190.24,511.60 190.85,511.60 191.45,511.60" fill="none" stroke="#00e8e8" stroke-width="0.8" stroke-opacity="1" stroke-linejoin="round"/>
<polygon points="19.86,382.84 20.30,382.84 20.90,382.84 21.50,382.84 22.09,382.84 22.69,382.84 23.29,382.84 23.89,382.84 24.48,382.84 25.08,382.84 25.68,382.84 26.28,382.84 26.87,382.84 27.47,382.84 28.07,382.84 28.67,382.84 29.27,382.84 29.86,382.84 30.46,382.84 31.06,382.84 31.66,382.84 32.25,382.84 32.85,382.84 33.45,382.84 34.05,382.84 34.64,382.84 35.24,382.84 35.84,382.84 36.44,382.84 37.01,382.90 37.58,383.09 38.15,383.38 38.72,383.76 39.29,384.22 39.86,384.75 40.43,385.34 41.00,385.97 41.57,386.62 42.14,387.29 42.71,387.97 43.28,388.63 43.83,389.32 44.37,390.11 44.91,391.00 45.46,391.94 46.00,392.93 46.54,393.94 47.09,394.95 47.63,395.94 48.17,396.87 48.77,397.87 49.37,398.87 49.97,399.87 50.56,400.86 51.16,401.86 51.76,402.84 52.36,403.82 52.95,404.80 53.55,405.76 54.10,406.63 54.64,407.52 55.18,408.40 55.73,409.28 56.27,410.15 56.81,411.00 57.36,411.82 57.90,412.61 58.44,413.35 58.99,414.06 59.54,414.73 60.09,415.36 60.64,415.98 61.19,416.59 61.74,417.21 62.29,417.84 62.84,418.51 63.43,419.25 64.02,420.03 64.60,420.83 65.19,421.65 65.78,422.47 66.36,423.28 66.95,424.07 67.54,424.83 68.12,425.56 68.71,426.23 69.32,426.89 69.92,427.54 70.53,428.17 71.13,428.79 71.74,429.39 72.34,429.98 72.95,430.57 73.55,431.14 74.16,431.70 74.77,432.25 75.37,432.79 75.98,433.32 76.58,433.85 77.19,434.36 77.79,434.87 78.40,435.38 79.00,435.87 79.61,436.37 80.21,436.85 80.82,437.34 81.42,437.82 82.03,438.29 82.64,438.76 83.24,439.21 83.85,439.66 84.45,440.09 85.06,440.53 85.66,440.95 86.27,441.37 86.87,441.79 87.48,442.20 88.08,442.61 88.69,443.01 89.30,443.42 89.90,443.82 90.51,444.23 91.11,444.63 91.72,445.04 92.32,445.45 92.93,445.86 93.53,446.28 94.14,446.70 94.74,447.12 95.33,447.55 95.93,447.97 96.53,448.39 97.13,448.81 97.72,449.23 98.32,449.66 98.92,450.08 99.52,450.50 100.12,450.93 100.71,451.35 101.31,451.77 101.91,452.19 102.51,452.62 103.10,453.04 103.70,453.46 104.30,453.88 104.90,454.30 105.50,454.73 106.11,455.15 106.71,455.58 107.32,456.00 107.92,456.42 108.53,456.85 109.13,457.27 109.74,457.69 110.35,458.12 110.95,458.54 111.56,458.96 112.16,459.38 112.77,459.81 113.37,460.23 113.98,460.65 114.58,461.07 115.19,461.49 115.79,461.92 116.40,462.34 117.01,462.76 117.61,463.19 118.22,463.60 118.82,464.02 119.43,464.42 120.03,464.82 120.64,465.21 121.24,465.61 121.85,466.00 122.45,466.39 123.06,466.78 123.67,467.18 124.27,467.58 124.88,467.98 125.48,468.39 126.09,468.81 126.69,469.24 127.30,469.68 127.90,470.13 128.51,470.59 129.11,471.07 129.72,471.56 130.32,472.07 130.89,472.56 131.45,473.05 132.02,473.56 132.58,474.08 133.15,474.62 133.71,475.17 134.27,475.75 134.84,476.35 135.40,476.98 135.97,477.63 136.53,478.32 137.10,479.04 137.66,479.80 138.26,480.70 138.86,481.74 139.45,482.88 140.05,484.10 140.65,485.35 141.25,486.59 141.84,487.80 142.44,488.94 143.04,489.97 143.60,490.88 144.17,491.79 144.73,492.70 145.30,493.59 145.86,494.47 146.42,495.32 146.99,496.14 147.55,496.93 148.12,497.68 148.68,498.38 149.25,499.03 149.81,499.62 150.37,500.14 150.98,500.65 151.58,501.14 152.19,501.61 152.79,502.05 153.39,502.47 154.00,502.88 154.60,503.26 155.21,503.63 155.81,503.99 156.41,504.33 157.02,504.66 157.62,504.98 158.23,505.28 158.83,505.59 159.43,505.88 160.04,506.17 160.64,506.45 161.25,506.73 161.85,507.00 162.46,507.27 163.06,507.53 163.66,507.79 164.27,508.04 164.87,508.28 165.48,508.52 166.08,508.75 166.68,508.97 167.29,509.18 167.89,509.39 168.50,509.59 169.10,509.78 169.70,509.97 170.31,510.14 170.91,510.31 171.50,510.48 172.09,510.65 172.67,510.82 173.26,510.99 173.85,511.15 174.43,511.30 175.02,511.42 175.61,511.52 176.19,511.58 176.78,511.60 177.37,511.60 177.95,511.60 178.54,511.60 179.13,511.60 179.71,511.60 180.30,511.60 180.89,511.60 181.47,511.60 182.06,511.60 182.65,511.60 183.23,511.60 183.82,511.60 184.41,511.60 185.00,511.60 185.58,511.60 186.17,511.60 186.76,511.60 187.34,511.60 187.93,511.60 188.52,511.60 189.10,511.60 189.69,511.60 190.28,511.60 190.86,511.60 191.45,511.60 191.45,511.60 190.85,511.60 190.24,511.60 189.64,511.60 189.03,511.60 188.43,511.60 187.82,511.60 187.22,511.60 186.61,511.60 186.01,511.60 185.41,511.60 184.80,511.60 184.20,511.60 183.59,511.60 182.99,511.60 182.38,511.60 181.78,511.60 181.18,511.60 180.57,511.60 179.97,511.60 179.36,511.60 178.76,511.60 178.15,511.60 177.55,511.60 176.94,511.60 176.34,511.60 175.74,511.60 175.13,511.60 174.53,511.60 173.92,511.60 173.32,511.60 172.71,511.60 172.11,511.60 171.51,511.60 170.90,511.60 170.30,511.60 169.69,511.60 169.09,511.60 168.48,511.60 167.88,511.60 167.27,511.60 166.67,511.60 166.07,511.60 165.46,511.60 164.86,511.60 164.25,511.60 163.65,511.60 163.04,511.60 162.44,511.60 161.84,511.60 161.23,511.60 160.63,511.60 160.02,511.60 159.42,511.60 158.81,511.60 158.21,511.60 157.60,511.60 157.00,511.60 156.40,511.60 155.79,511.60 155.19,511.60 154.58,511.60 153.98,511.60 153.37,511.60 152.77,511.60 152.17,511.60 151.56,511.60 150.96,511.60 150.35,511.60 149.75,511.60 149.14,511.60 148.54,511.60 147.93,511.60 147.33,511.60 146.73,511.60 146.12,511.60 145.52,511.60 144.91,511.60 144.31,511.60 143.70,511.60 143.10,511.60 142.50,511.60 141.89,511.60 141.29,511.60 140.68,511.60 140.08,511.60 139.47,511.60 138.87,511.60 138.26,511.60 137.66,511.60 137.10,511.58 136.53,511.51 135.97,511.40 135.40,511.26 134.84,511.10 134.27,510.92 133.71,510.72 133.15,510.52 132.58,510.32 132.02,510.13 131.45,509.95 130.89,509.80 130.32,509.67 129.74,509.55 129.16,509.44 128.58,509.34 128.00,509.23 127.41,509.13 126.83,509.03 126.25,508.94 125.67,508.85 125.09,508.76 124.50,508.67 123.92,508.58 123.34,508.50 122.76,508.41 122.17,508.33 121.59,508.25 121.01,508.16 120.43,508.08 119.85,508.00 119.26,507.91 118.68,507.82 118.10,507.74 117.50,507.65 116.90,507.56 116.30,507.47 115.70,507.38 115.10,507.30 114.50,507.21 113.90,507.12 113.30,507.04 112.70,506.96 112.10,506.87 111.50,506.79 110.90,506.70 110.30,506.62 109.70,506.53 109.10,506.44 108.50,506.36 107.90,506.27 107.30,506.18 106.70,506.09 106.10,506.00 105.50,505.90 104.90,505.81 104.33,505.71 103.77,505.62 103.20,505.52 102.64,505.41 102.08,505.31 101.51,505.20 100.95,505.10 100.38,505.00 99.82,504.89 99.25,504.79 98.69,504.70 98.13,504.61 97.56,504.52 96.99,504.43 96.42,504.35 95.85,504.27 95.28,504.19 94.71,504.11 94.14,504.04 93.57,503.96 93.00,503.89 92.43,503.82 91.86,503.75 91.29,503.68 90.72,503.62 90.12,503.55 89.52,503.48 88.92,503.42 88.32,503.36 87.72,503.30 87.12,503.24 86.52,503.18 85.92,503.12 85.32,503.06 84.72,503.01 84.12,502.95 83.52,502.90 82.92,502.85 82.32,502.79 81.72,502.74 81.13,502.69 80.53,502.63 79.93,502.58 79.33,502.53 78.73,502.47 78.13,502.42 77.53,502.36 76.93,502.31 76.33,502.25 75.73,502.19 75.13,502.13 74.53,502.07 73.93,502.01 73.33,501.95 72.73,501.88 72.13,501.81 71.53,501.75 70.93,501.67 70.32,501.60 69.72,501.53 69.12,501.45 68.52,501.38 67.91,501.30 67.31,501.22 66.71,501.14 66.10,501.06 65.50,500.98 64.90,500.90 64.29,500.82 63.69,500.74 63.09,500.65 62.48,500.57 61.88,500.48 61.28,500.40 60.68,500.31 60.07,500.23 59.47,500.14 58.87,500.05 58.26,499.97 57.66,499.88 57.06,499.79 56.45,499.71 55.85,499.62 55.25,499.54 54.64,499.45 54.04,499.37 53.45,499.28 52.86,499.20 52.26,499.12 51.67,499.03 51.08,498.95 50.48,498.87 49.89,498.78 49.30,498.70 48.70,498.61 48.11,498.53 47.52,498.44 46.93,498.36 46.33,498.27 45.74,498.18 45.15,498.10 44.55,498.01 43.96,497.92 43.37,497.84 42.78,497.75 42.18,497.66 41.59,497.57 41.00,497.49 40.40,497.40 39.81,497.31 39.23,497.22 38.65,497.14 38.07,497.07 37.48,496.99 36.90,496.92 36.32,496.83 35.74,496.74 35.16,496.64 34.57,496.53 33.99,496.41 33.42,496.26 32.86,496.07 32.29,495.86 31.72,495.62 31.15,495.36 30.58,495.08 30.01,494.78 29.44,494.47 28.88,494.16 28.31,493.83 27.74,493.48 27.17,493.10 26.60,492.65 26.03,492.15 25.47,491.56 24.90,490.87 24.29,489.81 23.69,488.28 23.09,486.36 22.62,484.43 22.16,481.73 21.84,479.61 21.52,475.55 21.23,453.66 20.79,415.03 20.30,392.50 19.86,392.50" fill="#00ffff" fill-opacity="0.4"/>
</g>
<g font-family="'Liberation Sans', Arial, Helvetica, sans-serif" font-size="4.9" fill="#262626" stroke="#262626" stroke-width="0.04">
<text x="20.30" y="518.80" text-anchor="middle">0</text>
<text x="44.75" y="518.80" text-anchor="middle">5</text>
<text x="69.20" y="518.80" text-anchor="middle">10</text>
<text x="93.65" y="518.80" text-anchor="middle">15</text>
<text x="118.10" y="518.80" text-anchor="middle">20</text>
<text x="142.55" y="518.80" text-anchor="middle">25</text>
<text x="167.00" y="518.80" text-anchor="middle">30</text>
<text x="191.45" y="518.80" text-anchor="middle">35</text>
<text x="18.50" y="514.00" text-anchor="end">0</text>
<text x="18.50" y="501.12" text-anchor="end">10</text>
<text x="18.50" y="488.25" text-anchor="end">20</text>
<text x="18.50" y="475.37" text-anchor="end">30</text>
<text x="18.50" y="462.50" text-anchor="end">40</text>
<text x="18.50" y="449.62" text-anchor="end">50</text>
<text x="18.50" y="436.74" text-anchor="end">60</text>
<text x="18.50" y="423.87" text-anchor="end">70</text>
<text x="18.50" y="410.99" text-anchor="end">80</text>
<text x="18.50" y="398.11" text-anchor="end">90</text>
<text x="18.50" y="385.24" text-anchor="end">100</text>
<text x="192.95" y="513.40">0</text>
<text x="192.95" y="500.52">0.1</text>
<text x="192.95" y="487.65">0.2</text>
<text x="192.95" y="474.77">0.3</text>
<text x="192.95" y="461.90">0.4</text>
<text x="192.95" y="449.02">0.5</text>
<text x="192.95" y="436.14">0.6</text>
<text x="192.95" y="423.27">0.7</text>
<text x="192.95" y="410.39">0.8</text>
<text x="192.95" y="397.51">0.9</text>
<text x="192.95" y="384.64">1</text>
</g>
<text font-family="'Liberation Sans', Arial, Helvetica, sans-serif" font-size="5.3" fill="#262626" stroke="#262626" stroke-width="0.05" x="105.88" y="525.50" text-anchor="middle">Dose (GyE)</text>
<text font-family="'Liberation Sans', Arial, Helvetica, sans-serif" font-size="5.3" fill="#262626" stroke="#262626" stroke-width="0.05" text-anchor="middle" transform="translate(6.90,443.70) rotate(-90)">Volume (%)</text>
<text font-family="'Liberation Sans', Arial, Helvetica, sans-serif" font-size="5.3" fill="#262626" stroke="#262626" stroke-width="0.05" text-anchor="middle" transform="translate(206.25,444.00) rotate(-90)">P-Value</text>
<text font-family="'Liberation Sans', Arial, Helvetica, sans-serif" font-size="5.3" font-weight="bold" fill="#000" stroke="#000" stroke-width="0.2" x="105.88" y="374.20" text-anchor="middle">Ipsilateral Kidney</text>
<text font-family="'Liberation Serif', 'Times New Roman', serif" font-size="9" font-weight="bold" fill="#000" x="102.17" y="542.50" text-anchor="middle">(E)</text>
<rect x="149.30" y="379.00" width="39.2" height="28.8" fill="#fff" stroke="#c4c4c4" stroke-width="0.5"/>
<line x1="150.20" x2="159.70" y1="382.70" y2="382.70" stroke="#ff5a5a" stroke-width="0.6"/>
<rect x="150.20" y="386.45" width="9.50" height="3.6" fill="#f00" fill-opacity="0.46599999999999997"/>
<line x1="150.20" x2="159.70" y1="393.80" y2="393.80" stroke="#40f0f0" stroke-width="0.6"/>
<rect x="150.20" y="397.55" width="9.50" height="3.6" fill="#0ff" fill-opacity="0.45"/>
<line x1="150.20" x2="159.70" y1="404.90" y2="404.90" stroke="#bbb" stroke-width="0.5"/>
<g font-family="'Liberation Sans', Arial, Helvetica, sans-serif" font-size="4.4" fill="#262626" stroke="#262626" stroke-width="0.04">
<text x="161.50" y="384.25">IMPT</text>
<text x="161.50" y="389.80">IMPT+St-Dev</text>
<text x="161.50" y="395.35">IMRT</text>
<text x="161.50" y="400.90">IMRT+St-Dev</text>
<text x="161.50" y="406.45">P-Value</text>
</g>
<path d="M247.30 376.40H418.45" stroke="#c6c6c6" stroke-width="0.6" fill="none"/><path d="M247.30 376.40V511.60H418.45V376.40" stroke="#a4a4a4" stroke-width="0.6" fill="none"/>
<path d="M247.30 511.60v-1.5M247.30 376.40v1.5M271.75 511.60v-1.5M271.75 376.40v1.5M296.20 511.60v-1.5M296.20 376.40v1.5M320.65 511.60v-1.5M320.65 376.40v1.5M345.10 511.60v-1.5M345.10 376.40v1.5M369.55 511.60v-1.5M369.55 376.40v1.5M394.00 511.60v-1.5M394.00 376.40v1.5M418.45 511.60v-1.5M418.45 376.40v1.5M247.30 511.60h1.5M418.45 511.60h-1.5M247.30 498.72h1.5M418.45 498.72h-1.5M247.30 485.85h1.5M418.45 485.85h-1.5M247.30 472.97h1.5M418.45 472.97h-1.5M247.30 460.10h1.5M418.45 460.10h-1.5M247.30 447.22h1.5M418.45 447.22h-1.5M247.30 434.34h1.5M418.45 434.34h-1.5M247.30 421.47h1.5M418.45 421.47h-1.5M247.30 408.59h1.5M418.45 408.59h-1.5M247.30 395.71h1.5M418.45 395.71h-1.5M247.30 382.84h1.5M418.45 382.84h-1.5" stroke="#909090" stroke-width="0.5" fill="none"/>
<clipPath id="c12"><rect x="246.95" y="376.05" width="171.85" height="135.90"/></clipPath>
<g clip-path="url(#c12)">
<polyline points="247.30,510.96 247.90,510.94 248.49,510.93 249.09,510.92 249.69,510.91 250.28,510.89 250.88,510.88 251.47,510.87 252.07,510.86 252.67,510.84 253.26,510.83 253.86,510.81 254.46,510.80 255.05,510.79 255.65,510.77 256.25,510.76 256.84,510.74 257.44,510.73 258.03,510.71 258.63,510.70 259.23,510.68 259.82,510.66 260.42,510.65 261.02,510.63 261.61,510.62 262.21,510.60 262.80,510.58 263.40,510.56 264.00,510.55 264.59,510.53 265.19,510.51 265.79,510.50 266.38,510.48 266.98,510.46 267.58,510.44 268.17,510.42 268.77,510.41 269.36,510.39 269.96,510.37 270.56,510.35 271.15,510.33 271.75,510.31 272.35,510.29 272.96,510.27 273.56,510.25 274.16,510.24 274.77,510.22 275.37,510.20 275.97,510.18 276.58,510.16 277.18,510.14 277.78,510.12 278.39,510.10 278.99,510.08 279.59,510.06 280.20,510.04 280.80,510.02 281.41,510.00 282.01,509.98 282.61,509.96 283.22,509.94 283.82,509.91 284.42,509.89 285.03,509.87 285.63,509.85 286.23,509.82 286.84,509.80 287.44,509.78 288.04,509.75 288.65,509.73 289.25,509.70 289.85,509.68 290.46,509.65 291.06,509.62 291.66,509.60 292.27,509.57 292.87,509.54 293.47,509.51 294.08,509.48 294.68,509.45 295.28,509.42 295.89,509.39 296.49,509.36 297.09,509.33 297.70,509.29 298.30,509.26 298.91,509.23 299.51,509.19 300.11,509.15 300.72,509.12 301.32,509.08 301.92,509.05 302.53,509.01 303.13,508.98 303.74,508.94 304.34,508.90 304.94,508.86 305.55,508.82 306.15,508.77 306.76,508.72 307.36,508.66 307.96,508.60 308.57,508.54 309.17,508.46 309.77,508.38 310.38,508.30 310.98,508.21 311.59,508.10 312.19,507.99 312.78,507.84 313.36,507.58 313.95,507.25 314.54,506.84 315.12,506.37 315.71,505.84 316.30,505.27 316.88,504.65 317.47,504.00 318.03,503.22 318.59,502.17 319.15,500.95 319.71,499.65 320.27,498.36 320.82,497.16 321.38,496.15 321.94,495.24 322.50,494.33 323.06,493.44 323.62,492.63 324.18,491.92 324.74,491.37 325.30,491.00 325.88,490.74 326.46,490.51 327.04,490.31 327.62,490.14 328.20,489.99 328.78,489.87 329.36,489.78 329.94,489.71 330.52,489.66 331.09,489.62 331.67,489.59 332.24,489.57 332.82,489.55 333.39,489.54 333.97,489.53 334.54,489.52 335.12,489.51 335.69,489.49 336.27,489.47 336.84,489.45 337.42,489.42 338.00,489.38 338.57,489.33 339.15,489.27 339.72,489.20 340.21,488.17 340.31,511.60 340.92,511.60 341.53,511.60 342.14,511.60 342.75,511.60 343.36,511.60 343.97,511.60 344.58,511.60 345.19,511.60 345.80,511.60 346.41,511.60 347.02,511.60 347.63,511.60 348.24,511.60 348.85,511.60 349.47,511.60 350.08,511.60 350.69,511.60 351.30,511.60 351.91,511.60 352.52,511.60 353.13,511.60 353.74,511.60 354.35,511.60 354.96,511.60 355.57,511.60 356.18,511.60 356.79,511.60 357.40,511.60 358.01,511.60 358.62,511.60 359.23,511.60 359.84,511.60 360.45,511.60 361.06,511.60 361.67,511.60 362.29,511.60 362.90,511.60 363.51,511.60 364.12,511.60 364.73,511.60 365.34,511.60 365.95,511.60 366.56,511.60 367.17,511.60 367.78,511.60 368.39,511.60 369.00,511.60 369.61,511.60 370.22,511.60 370.83,511.60 371.44,511.60 372.05,511.60 372.66,511.60 373.27,511.60 373.88,511.60 374.50,511.60 375.11,511.60 375.72,511.60 376.33,511.60 376.94,511.60 377.55,511.60 378.16,511.60 378.77,511.60 379.38,511.60 379.99,511.60 380.60,511.60 381.21,511.60 381.82,511.60 382.43,511.60 383.04,511.60 383.65,511.60 384.26,511.60 384.87,511.60 385.48,511.60 386.09,511.60 386.70,511.60 387.32,511.60 387.93,511.60 388.54,511.60 389.15,511.60 389.76,511.60 390.37,511.60 390.98,511.60 391.59,511.60 392.20,511.60 392.81,511.60 393.42,511.60 394.03,511.60 394.64,511.60 395.25,511.60 395.86,511.60 396.47,511.60 397.08,511.60 397.69,511.60 398.30,511.60 398.91,511.60 399.52,511.60 400.14,511.60 400.75,511.60 401.36,511.60 401.97,511.60 402.58,511.60 403.19,511.60 403.80,511.60 404.41,511.60 405.02,511.60 405.63,511.60 406.24,511.60 406.85,511.60 407.46,511.60 408.07,511.60 408.68,511.60 409.29,511.60 409.90,511.60 410.51,511.60 411.12,511.60 411.73,511.60 412.35,511.60 412.96,511.60 413.57,511.60 414.18,511.60 414.79,511.60 415.40,511.60 416.01,511.60 416.62,511.60 417.23,511.60 417.84,511.60 418.45,511.60" fill="none" stroke="#b4b4b4" stroke-width="0.6" stroke-opacity="1" stroke-linejoin="round"/>
<polyline points="247.30,382.84 247.45,460.10 247.79,498.72 248.28,500.99 248.77,501.99 249.26,502.72 249.75,503.60 250.23,504.42 250.72,505.12 251.21,505.68 251.70,506.06 252.29,506.37 252.89,506.62 253.48,506.83 254.08,507.01 254.67,507.16 255.26,507.32 255.86,507.48 256.43,507.64 257.01,507.81 257.59,507.97 258.16,508.14 258.74,508.29 259.32,508.45 259.89,508.60 260.47,508.74 261.04,508.87 261.62,509.00 262.20,509.12 262.77,509.23 263.35,509.33 263.93,509.41 264.53,509.49 265.14,509.57 265.74,509.64 266.35,509.71 266.95,509.77 267.56,509.83 268.16,509.89 268.77,509.95 269.37,510.00 269.98,510.06 270.59,510.11 271.19,510.15 271.80,510.20 272.40,510.25 273.01,510.29 273.61,510.34 274.22,510.38 274.82,510.43 275.43,510.48 276.03,510.52 276.64,510.57 277.23,510.62 277.81,510.66 278.40,510.71 278.99,510.75 279.57,510.80 280.16,510.84 280.75,510.89 281.33,510.93 281.92,510.97 282.51,511.02 283.09,511.06 283.68,511.10 284.27,511.14 284.86,511.18 285.44,511.22 286.03,511.26 286.62,511.30 287.20,511.34 287.79,511.38 288.38,511.42 288.96,511.46 289.55,511.49 290.14,511.53 290.72,511.57 291.31,511.60" fill="none" stroke="#f5404f" stroke-width="0.85" stroke-opacity="1" stroke-linejoin="round"/>
<polygon points="246.86,382.84 247.30,382.84 247.40,439.49 247.89,472.97 248.28,488.42 248.52,490.35 249.01,491.73 249.50,492.61 249.99,493.23 250.48,493.83 251.06,494.58 251.64,495.26 252.22,495.88 252.80,496.47 253.38,497.02 253.96,497.55 254.54,498.07 255.12,498.60 255.69,499.11 256.26,499.61 256.84,500.10 257.41,500.56 257.98,501.01 258.55,501.43 259.12,501.83 259.69,502.22 260.26,502.60 260.83,502.97 261.40,503.34 261.97,503.69 262.54,504.03 263.11,504.36 263.68,504.67 264.25,504.98 264.82,505.27 265.39,505.55 265.96,505.82 266.53,506.08 267.10,506.34 267.68,506.59 268.25,506.83 268.82,507.06 269.39,507.29 269.96,507.50 270.53,507.71 271.10,507.90 271.67,508.08 272.24,508.25 272.81,508.41 273.38,508.57 273.95,508.72 274.52,508.86 275.09,509.00 275.66,509.14 276.23,509.26 276.80,509.38 277.37,509.50 277.94,509.60 278.51,509.70 279.09,509.80 279.66,509.89 280.24,509.97 280.81,510.05 281.39,510.13 281.96,510.21 282.54,510.28 283.11,510.35 283.69,510.42 284.26,510.48 284.84,510.54 285.41,510.61 285.99,510.67 286.56,510.72 287.14,510.78 287.71,510.84 288.29,510.90 288.87,510.96 289.43,511.02 289.99,511.08 290.56,511.14 291.12,511.21 291.69,511.28 292.25,511.34 292.81,511.40 293.38,511.45 293.94,511.50 294.51,511.54 295.07,511.57 295.64,511.59 296.20,511.60 296.81,511.60 297.42,511.60 298.02,511.60 298.63,511.60 299.24,511.60 299.85,511.60 300.46,511.60 301.07,511.60 301.67,511.60 302.28,511.60 302.89,511.60 303.50,511.60 304.11,511.60 304.71,511.60 305.32,511.60 305.93,511.60 306.54,511.60 307.15,511.60 307.76,511.60 308.36,511.60 308.97,511.60 309.58,511.60 310.19,511.60 310.80,511.60 311.41,511.60 312.01,511.60 312.62,511.60 313.23,511.60 313.84,511.60 314.45,511.60 315.05,511.60 315.66,511.60 316.27,511.60 316.88,511.60 317.49,511.60 318.10,511.60 318.70,511.60 319.31,511.60 319.92,511.60 320.53,511.60 321.14,511.60 321.74,511.60 322.35,511.60 322.96,511.60 323.57,511.60 324.18,511.60 324.79,511.60 325.39,511.60 326.00,511.60 326.61,511.60 327.22,511.60 327.83,511.60 328.44,511.60 329.04,511.60 329.65,511.60 330.26,511.60 330.87,511.60 331.48,511.60 332.08,511.60 332.69,511.60 333.30,511.60 333.91,511.60 334.52,511.60 335.13,511.60 335.73,511.60 336.34,511.60 336.95,511.60 337.56,511.60 338.17,511.60 338.77,511.60 339.38,511.60 339.99,511.60 340.60,511.60 341.21,511.60 341.82,511.60 342.42,511.60 343.03,511.60 343.64,511.60 344.25,511.60 344.86,511.60 345.46,511.60 346.07,511.60 346.68,511.60 347.29,511.60 347.90,511.60 348.51,511.60 349.11,511.60 349.72,511.60 350.33,511.60 350.94,511.60 351.55,511.60 352.16,511.60 352.76,511.60 353.37,511.60 353.98,511.60 354.59,511.60 355.20,511.60 355.80,511.60 356.41,511.60 357.02,511.60 357.63,511.60 358.24,511.60 358.85,511.60 359.45,511.60 360.06,511.60 360.67,511.60 361.28,511.60 361.89,511.60 362.49,511.60 363.10,511.60 363.71,511.60 364.32,511.60 364.93,511.60 365.54,511.60 366.14,511.60 366.75,511.60 367.36,511.60 367.97,511.60 368.58,511.60 369.19,511.60 369.79,511.60 370.40,511.60 371.01,511.60 371.62,511.60 372.23,511.60 372.83,511.60 373.44,511.60 374.05,511.60 374.66,511.60 375.27,511.60 375.88,511.60 376.48,511.60 377.09,511.60 377.70,511.60 378.31,511.60 378.92,511.60 379.52,511.60 380.13,511.60 380.74,511.60 381.35,511.60 381.96,511.60 382.57,511.60 383.17,511.60 383.78,511.60 384.39,511.60 385.00,511.60 385.61,511.60 386.21,511.60 386.82,511.60 387.43,511.60 388.04,511.60 388.65,511.60 389.26,511.60 389.86,511.60 390.47,511.60 391.08,511.60 391.69,511.60 392.30,511.60 392.91,511.60 393.51,511.60 394.12,511.60 394.73,511.60 395.34,511.60 395.95,511.60 396.55,511.60 397.16,511.60 397.77,511.60 398.38,511.60 398.99,511.60 399.60,511.60 400.20,511.60 400.81,511.60 401.42,511.60 402.03,511.60 402.64,511.60 403.24,511.60 403.85,511.60 404.46,511.60 405.07,511.60 405.68,511.60 406.29,511.60 406.89,511.60 407.50,511.60 408.11,511.60 408.72,511.60 409.33,511.60 409.94,511.60 410.54,511.60 411.15,511.60 411.76,511.60 412.37,511.60 412.98,511.60 413.58,511.60 414.19,511.60 414.80,511.60 415.41,511.60 416.02,511.60 416.63,511.60 417.23,511.60 417.84,511.60 418.45,511.60 418.45,511.60 247.30,511.60 246.86,511.60" fill="#ff0000" fill-opacity="0.416"/>
<polyline points="247.69,406.02 248.28,408.85 248.85,411.76 249.42,414.79 249.99,417.87 250.56,420.92 251.13,423.86 251.70,426.62 252.29,429.23 252.87,431.68 253.46,434.06 254.05,436.46 254.64,438.98 255.12,441.41 255.61,444.11 256.10,446.75 256.59,448.97 257.08,450.44 257.63,451.44 258.18,452.29 258.73,453.00 259.28,453.62 259.83,454.15 260.38,454.64 260.93,455.11 261.48,455.59 262.05,456.08 262.62,456.55 263.19,457.00 263.76,457.43 264.33,457.84 264.90,458.23 265.47,458.61 266.05,458.97 266.62,459.33 267.19,459.68 267.76,460.02 268.33,460.35 268.90,460.68 269.47,460.98 270.04,461.28 270.61,461.56 271.18,461.83 271.75,462.10 272.32,462.37 272.89,462.64 273.46,462.92 274.03,463.20 274.60,463.51 275.17,463.83 275.74,464.16 276.31,464.49 276.88,464.82 277.46,465.15 278.03,465.50 278.60,465.86 279.17,466.23 279.74,466.62 280.31,467.04 280.88,467.48 281.45,467.96 282.02,468.46 282.61,469.10 283.19,469.86 283.78,470.69 284.37,471.49 284.95,472.20 285.56,472.81 286.18,473.35 286.79,473.90 287.40,474.52 287.92,475.12 288.43,475.77 288.95,476.46 289.47,477.16 289.99,477.86 290.58,478.67 291.17,479.49 291.76,480.33 292.35,481.19 292.95,482.04 293.54,482.90 294.13,483.75 294.72,484.59 295.31,485.42 295.90,486.23 296.49,487.01 297.09,487.77 297.68,488.53 298.28,489.28 298.88,490.01 299.47,490.74 300.07,491.45 300.66,492.16 301.26,492.85 301.85,493.53 302.45,494.20 303.05,494.86 303.64,495.51 304.23,496.14 304.82,496.77 305.41,497.39 306.00,498.00 306.59,498.61 307.18,499.20 307.78,499.77 308.37,500.34 308.96,500.89 309.55,501.43 310.15,501.97 310.74,502.51 311.34,503.05 311.93,503.59 312.53,504.11 313.12,504.62 313.72,505.10 314.32,505.56 314.91,505.98 315.51,506.37 316.10,506.71 316.69,507.01 317.28,507.30 317.88,507.57 318.47,507.82 319.06,508.06 319.65,508.29 320.24,508.51 320.83,508.71 321.42,508.91 322.01,509.10 322.61,509.28 323.21,509.47 323.81,509.65 324.41,509.83 325.01,510.01 325.62,510.19 326.22,510.35 326.82,510.51 327.42,510.66 328.02,510.80 328.62,510.93 329.23,511.04 329.83,511.14 330.43,511.21 330.97,511.28 331.52,511.34 332.06,511.40 332.60,511.45 333.15,511.50 333.69,511.54 334.23,511.57 334.78,511.59 335.32,511.60 335.93,511.60 336.53,511.60 337.14,511.60 337.75,511.60 338.35,511.60 338.96,511.60 339.57,511.60 340.17,511.60 340.78,511.60 341.39,511.60 341.99,511.60 342.60,511.60 343.21,511.60 343.82,511.60 344.42,511.60 345.03,511.60 345.64,511.60 346.24,511.60 346.85,511.60 347.46,511.60 348.06,511.60 348.67,511.60 349.28,511.60 349.88,511.60 350.49,511.60 351.10,511.60 351.70,511.60 352.31,511.60 352.92,511.60 353.52,511.60 354.13,511.60 354.74,511.60 355.34,511.60 355.95,511.60 356.56,511.60 357.16,511.60 357.77,511.60 358.38,511.60 358.98,511.60 359.59,511.60 360.20,511.60 360.81,511.60 361.41,511.60 362.02,511.60 362.63,511.60 363.23,511.60 363.84,511.60 364.45,511.60 365.05,511.60 365.66,511.60 366.27,511.60 366.87,511.60 367.48,511.60 368.09,511.60 368.69,511.60 369.30,511.60 369.91,511.60 370.51,511.60 371.12,511.60 371.73,511.60 372.33,511.60 372.94,511.60 373.55,511.60 374.15,511.60 374.76,511.60 375.37,511.60 375.97,511.60 376.58,511.60 377.19,511.60 377.80,511.60 378.40,511.60 379.01,511.60 379.62,511.60 380.22,511.60 380.83,511.60 381.44,511.60 382.04,511.60 382.65,511.60 383.26,511.60 383.86,511.60 384.47,511.60 385.08,511.60 385.68,511.60 386.29,511.60 386.90,511.60 387.50,511.60 388.11,511.60 388.72,511.60 389.32,511.60 389.93,511.60 390.54,511.60 391.14,511.60 391.75,511.60 392.36,511.60 392.96,511.60 393.57,511.60 394.18,511.60 394.79,511.60 395.39,511.60 396.00,511.60 396.61,511.60 397.21,511.60 397.82,511.60 398.43,511.60 399.03,511.60 399.64,511.60 400.25,511.60 400.85,511.60 401.46,511.60 402.07,511.60 402.67,511.60 403.28,511.60 403.89,511.60 404.49,511.60 405.10,511.60 405.71,511.60 406.31,511.60 406.92,511.60 407.53,511.60 408.13,511.60 408.74,511.60 409.35,511.60 409.95,511.60 410.56,511.60 411.17,511.60 411.78,511.60 412.38,511.60 412.99,511.60 413.60,511.60 414.20,511.60 414.81,511.60 415.42,511.60 416.02,511.60 416.63,511.60 417.24,511.60 417.84,511.60 418.45,511.60" fill="none" stroke="#00e8e8" stroke-width="0.8" stroke-opacity="1" stroke-linejoin="round"/>
<polygon points="246.86,382.84 247.30,382.84 247.86,382.84 248.43,382.84 248.99,382.84 249.56,382.84 250.12,382.84 250.69,382.84 251.25,382.84 251.81,382.84 252.38,382.84 252.94,382.84 253.51,382.84 254.07,382.84 254.64,382.84 255.22,383.31 255.81,384.50 256.40,386.06 256.98,387.64 257.57,388.89 258.13,389.79 258.69,390.65 259.25,391.45 259.80,392.21 260.36,392.92 260.92,393.57 261.48,394.17 262.08,394.75 262.68,395.29 263.28,395.79 263.88,396.26 264.48,396.71 265.08,397.14 265.68,397.56 266.28,397.98 266.88,398.41 267.48,398.86 268.08,399.32 268.67,399.78 269.26,400.23 269.86,400.67 270.45,401.10 271.04,401.54 271.63,401.99 272.22,402.46 272.81,402.94 273.40,403.46 273.99,404.01 274.59,404.60 275.15,405.21 275.70,405.87 276.26,406.59 276.82,407.35 277.38,408.16 277.94,409.00 278.50,409.88 279.07,410.84 279.64,411.87 280.22,412.97 280.79,414.12 281.36,415.30 281.94,416.51 282.51,417.73 283.07,418.95 283.63,420.23 284.18,421.54 284.74,422.87 285.30,424.22 285.86,425.55 286.42,426.87 286.98,428.19 287.54,429.50 288.10,430.82 288.66,432.14 289.21,433.44 289.77,434.74 290.33,436.02 290.82,437.08 291.31,438.11 291.80,439.14 292.29,440.22 292.78,441.42 293.27,442.82 293.75,444.37 294.24,445.93 294.81,447.68 295.37,449.45 295.93,451.23 296.49,453.01 297.07,454.85 297.64,456.69 298.21,458.53 298.78,460.39 299.36,462.26 299.93,464.13 300.50,466.02 301.06,467.89 301.62,469.82 302.18,471.76 302.74,473.69 303.30,475.58 303.86,477.41 304.42,479.15 304.97,480.80 305.52,482.43 306.07,484.01 306.62,485.54 307.17,487.00 307.73,488.40 308.28,489.71 308.84,490.95 309.40,492.13 309.95,493.25 310.51,494.33 311.07,495.38 311.63,496.41 312.19,497.44 312.75,498.49 313.31,499.58 313.87,500.66 314.43,501.69 314.98,502.64 315.54,503.47 316.10,504.13 316.69,504.72 317.28,505.27 317.88,505.78 318.47,506.25 319.06,506.70 319.65,507.10 320.24,507.47 320.83,507.81 321.42,508.12 322.01,508.40 322.61,508.64 323.22,508.86 323.83,509.07 324.44,509.26 325.05,509.44 325.66,509.60 326.27,509.76 326.88,509.90 327.50,510.04 328.11,510.17 328.72,510.31 329.33,510.44 329.94,510.57 330.54,510.71 331.14,510.86 331.73,511.01 332.33,511.16 332.93,511.30 333.53,511.42 334.12,511.52 334.72,511.58 335.32,511.60 335.93,511.60 336.53,511.60 337.14,511.60 337.75,511.60 338.35,511.60 338.96,511.60 339.57,511.60 340.17,511.60 340.78,511.60 341.39,511.60 341.99,511.60 342.60,511.60 343.21,511.60 343.82,511.60 344.42,511.60 345.03,511.60 345.64,511.60 346.24,511.60 346.85,511.60 347.46,511.60 348.06,511.60 348.67,511.60 349.28,511.60 349.88,511.60 350.49,511.60 351.10,511.60 351.70,511.60 352.31,511.60 352.92,511.60 353.52,511.60 354.13,511.60 354.74,511.60 355.34,511.60 355.95,511.60 356.56,511.60 357.16,511.60 357.77,511.60 358.38,511.60 358.98,511.60 359.59,511.60 360.20,511.60 360.81,511.60 361.41,511.60 362.02,511.60 362.63,511.60 363.23,511.60 363.84,511.60 364.45,511.60 365.05,511.60 365.66,511.60 366.27,511.60 366.87,511.60 367.48,511.60 368.09,511.60 368.69,511.60 369.30,511.60 369.91,511.60 370.51,511.60 371.12,511.60 371.73,511.60 372.33,511.60 372.94,511.60 373.55,511.60 374.15,511.60 374.76,511.60 375.37,511.60 375.97,511.60 376.58,511.60 377.19,511.60 377.80,511.60 378.40,511.60 379.01,511.60 379.62,511.60 380.22,511.60 380.83,511.60 381.44,511.60 382.04,511.60 382.65,511.60 383.26,511.60 383.86,511.60 384.47,511.60 385.08,511.60 385.68,511.60 386.29,511.60 386.90,511.60 387.50,511.60 388.11,511.60 388.72,511.60 389.32,511.60 389.93,511.60 390.54,511.60 391.14,511.60 391.75,511.60 392.36,511.60 392.96,511.60 393.57,511.60 394.18,511.60 394.79,511.60 395.39,511.60 396.00,511.60 396.61,511.60 397.21,511.60 397.82,511.60 398.43,511.60 399.03,511.60 399.64,511.60 400.25,511.60 400.85,511.60 401.46,511.60 402.07,511.60 402.67,511.60 403.28,511.60 403.89,511.60 404.49,511.60 405.10,511.60 405.71,511.60 406.31,511.60 406.92,511.60 407.53,511.60 408.13,511.60 408.74,511.60 409.35,511.60 409.95,511.60 410.56,511.60 411.17,511.60 411.78,511.60 412.38,511.60 412.99,511.60 413.60,511.60 414.20,511.60 414.81,511.60 415.42,511.60 416.02,511.60 416.63,511.60 417.24,511.60 417.84,511.60 418.45,511.60 418.45,511.60 417.84,511.60 417.23,511.60 416.62,511.60 416.01,511.60 415.40,511.60 414.79,511.60 414.18,511.60 413.57,511.60 412.96,511.60 412.35,511.60 411.74,511.60 411.13,511.60 410.52,511.60 409.91,511.60 409.30,511.60 408.69,511.60 408.08,511.60 407.47,511.60 406.86,511.60 406.25,511.60 405.64,511.60 405.03,511.60 404.42,511.60 403.81,511.60 403.20,511.60 402.59,511.60 401.98,511.60 401.37,511.60 400.76,511.60 400.15,511.60 399.54,511.60 398.93,511.60 398.32,511.60 397.71,511.60 397.11,511.60 396.50,511.60 395.89,511.60 395.28,511.60 394.67,511.60 394.06,511.60 393.45,511.60 392.84,511.60 392.23,511.60 391.62,511.60 391.01,511.60 390.40,511.60 389.79,511.60 389.18,511.60 388.57,511.60 387.96,511.60 387.35,511.60 386.74,511.60 386.13,511.60 385.52,511.60 384.91,511.60 384.30,511.60 383.69,511.60 383.08,511.60 382.47,511.60 381.86,511.60 381.25,511.60 380.64,511.60 380.03,511.60 379.42,511.60 378.81,511.60 378.20,511.60 377.59,511.60 376.98,511.60 376.37,511.60 375.76,511.60 375.15,511.60 374.54,511.60 373.93,511.60 373.32,511.60 372.71,511.60 372.10,511.60 371.49,511.60 370.88,511.60 370.27,511.60 369.66,511.60 369.05,511.60 368.44,511.60 367.83,511.60 367.22,511.60 366.61,511.60 366.00,511.60 365.39,511.60 364.78,511.60 364.17,511.60 363.56,511.60 362.95,511.60 362.34,511.60 361.73,511.60 361.12,511.60 360.51,511.60 359.90,511.60 359.29,511.60 358.68,511.60 358.07,511.60 357.46,511.60 356.85,511.60 356.24,511.60 355.63,511.60 355.03,511.60 354.42,511.60 353.81,511.60 353.20,511.60 352.59,511.60 351.98,511.60 351.37,511.60 350.76,511.60 350.15,511.60 349.54,511.60 348.93,511.60 348.32,511.60 347.71,511.60 347.10,511.60 346.49,511.60 345.88,511.60 345.27,511.60 344.66,511.60 344.05,511.60 343.44,511.60 342.83,511.60 342.22,511.60 341.61,511.60 341.00,511.60 340.39,511.60 339.78,511.60 339.17,511.60 338.56,511.60 337.95,511.60 337.34,511.60 336.73,511.60 336.12,511.60 335.51,511.60 334.90,511.60 334.29,511.60 333.68,511.60 333.07,511.60 332.46,511.60 331.85,511.60 331.24,511.60 330.63,511.60 330.02,511.60 329.41,511.60 328.80,511.60 328.19,511.60 327.58,511.60 326.97,511.60 326.36,511.60 325.75,511.60 325.14,511.60 324.53,511.60 323.92,511.60 323.31,511.60 322.70,511.60 322.09,511.60 321.48,511.60 320.87,511.60 320.26,511.60 319.65,511.60 319.04,511.60 318.43,511.60 317.82,511.60 317.21,511.60 316.60,511.60 315.99,511.60 315.38,511.60 314.77,511.60 314.16,511.60 313.55,511.60 312.94,511.60 312.34,511.60 311.73,511.60 311.12,511.60 310.51,511.60 309.90,511.60 309.29,511.60 308.68,511.60 308.07,511.60 307.46,511.60 306.85,511.60 306.24,511.60 305.63,511.60 305.02,511.60 304.41,511.60 303.80,511.60 303.19,511.60 302.58,511.60 301.97,511.60 301.36,511.60 300.75,511.60 300.14,511.60 299.53,511.60 298.92,511.60 298.31,511.60 297.70,511.60 297.09,511.60 296.48,511.60 295.87,511.60 295.26,511.60 294.65,511.60 294.04,511.60 293.43,511.60 292.82,511.60 292.21,511.60 291.60,511.60 290.99,511.60 290.38,511.60 289.77,511.60 289.16,511.60 288.55,511.60 287.94,511.60 287.33,511.60 286.72,511.60 286.11,511.60 285.50,511.60 284.89,511.60 284.28,511.60 283.67,511.60 283.06,511.60 282.45,511.60 281.84,511.60 281.23,511.60 280.62,511.60 280.01,511.60 279.40,511.60 278.79,511.60 278.18,511.60 277.57,511.60 276.96,511.60 276.35,511.60 275.74,511.60 275.13,511.60 274.52,511.60 273.91,511.60 273.30,511.60 272.69,511.60 272.08,511.60 271.47,511.60 270.86,511.60 270.26,511.60 269.65,511.60 269.04,511.60 268.43,511.60 267.82,511.60 267.21,511.60 266.60,511.60 265.99,511.60 265.38,511.60 264.77,511.60 264.16,511.60 263.55,511.60 262.94,511.60 262.33,511.60 261.72,511.60 261.11,511.60 260.50,511.60 259.89,511.60 259.28,511.60 258.67,511.60 258.06,511.60 257.57,510.63 257.08,508.18 256.59,504.92 256.10,501.50 255.61,498.60 255.01,495.68 254.41,492.87 253.80,490.13 253.20,487.43 252.60,484.73 251.99,481.98 251.39,479.65 250.79,477.84 250.19,476.03 249.58,473.69 248.98,470.27 248.38,465.25 247.89,449.79 247.40,438.21 247.30,439.36 246.86,439.36" fill="#00ffff" fill-opacity="0.4"/>
</g>
<g font-family="'Liberation Sans', Arial, Helvetica, sans-serif" font-size="4.9" fill="#262626" stroke="#262626" stroke-width="0.04">
<text x="247.30" y="518.80" text-anchor="middle">0</text>
<text x="271.75" y="518.80" text-anchor="middle">5</text>
<text x="296.20" y="518.80" text-anchor="middle">10</text>
<text x="320.65" y="518.80" text-anchor="middle">15</text>
<text x="345.10" y="518.80" text-anchor="middle">20</text>
<text x="369.55" y="518.80" text-anchor="middle">25</text>
<text x="394.00" y="518.80" text-anchor="middle">30</text>
<text x="418.45" y="518.80" text-anchor="middle">35</text>
<text x="245.50" y="514.00" text-anchor="end">0</text>
<text x="245.50" y="501.12" text-anchor="end">10</text>
<text x="245.50" y="488.25" text-anchor="end">20</text>
<text x="245.50" y="475.37" text-anchor="end">30</text>
<text x="245.50" y="462.50" text-anchor="end">40</text>
<text x="245.50" y="449.62" text-anchor="end">50</text>
<text x="245.50" y="436.74" text-anchor="end">60</text>
<text x="245.50" y="423.87" text-anchor="end">70</text>
<text x="245.50" y="410.99" text-anchor="end">80</text>
<text x="245.50" y="398.11" text-anchor="end">90</text>
<text x="245.50" y="385.24" text-anchor="end">100</text>
<text x="419.95" y="513.40">0</text>
<text x="419.95" y="500.52">0.1</text>
<text x="419.95" y="487.65">0.2</text>
<text x="419.95" y="474.77">0.3</text>
<text x="419.95" y="461.90">0.4</text>
<text x="419.95" y="449.02">0.5</text>
<text x="419.95" y="436.14">0.6</text>
<text x="419.95" y="423.27">0.7</text>
<text x="419.95" y="410.39">0.8</text>
<text x="419.95" y="397.51">0.9</text>
<text x="419.95" y="384.64">1</text>
</g>
<text font-family="'Liberation Sans', Arial, Helvetica, sans-serif" font-size="5.3" fill="#262626" stroke="#262626" stroke-width="0.05" x="332.88" y="525.50" text-anchor="middle">Dose (GyE)</text>
<text font-family="'Liberation Sans', Arial, Helvetica, sans-serif" font-size="5.3" fill="#262626" stroke="#262626" stroke-width="0.05" text-anchor="middle" transform="translate(233.90,443.70) rotate(-90)">Volume (%)</text>
<text font-family="'Liberation Sans', Arial, Helvetica, sans-serif" font-size="5.3" fill="#262626" stroke="#262626" stroke-width="0.05" text-anchor="middle" transform="translate(433.25,444.00) rotate(-90)">P-Value</text>
<text font-family="'Liberation Sans', Arial, Helvetica, sans-serif" font-size="5.3" font-weight="bold" fill="#000" stroke="#000" stroke-width="0.2" x="332.88" y="374.20" text-anchor="middle">Contralateral Kidney</text>
<text font-family="'Liberation Serif', 'Times New Roman', serif" font-size="9" font-weight="bold" fill="#000" x="329.18" y="542.50" text-anchor="middle">(F)</text>
<rect x="376.30" y="379.00" width="39.2" height="28.8" fill="#fff" stroke="#c4c4c4" stroke-width="0.5"/>
<line x1="377.20" x2="386.70" y1="382.70" y2="382.70" stroke="#ff5a5a" stroke-width="0.6"/>
<rect x="377.20" y="386.45" width="9.50" height="3.6" fill="#f00" fill-opacity="0.46599999999999997"/>
<line x1="377.20" x2="386.70" y1="393.80" y2="393.80" stroke="#40f0f0" stroke-width="0.6"/>
<rect x="377.20" y="397.55" width="9.50" height="3.6" fill="#0ff" fill-opacity="0.45"/>
<line x1="377.20" x2="386.70" y1="404.90" y2="404.90" stroke="#bbb" stroke-width="0.5"/>
<g font-family="'Liberation Sans', Arial, Helvetica, sans-serif" font-size="4.4" fill="#262626" stroke="#262626" stroke-width="0.04">
<text x="388.50" y="384.25">IMPT</text>
<text x="388.50" y="389.80">IMPT+St-Dev</text>
<text x="388.50" y="395.35">IMRT</text>
<text x="388.50" y="400.90">IMRT+St-Dev</text>
<text x="388.50" y="406.45">P-Value</text>
</g>
</svg></body></html>
